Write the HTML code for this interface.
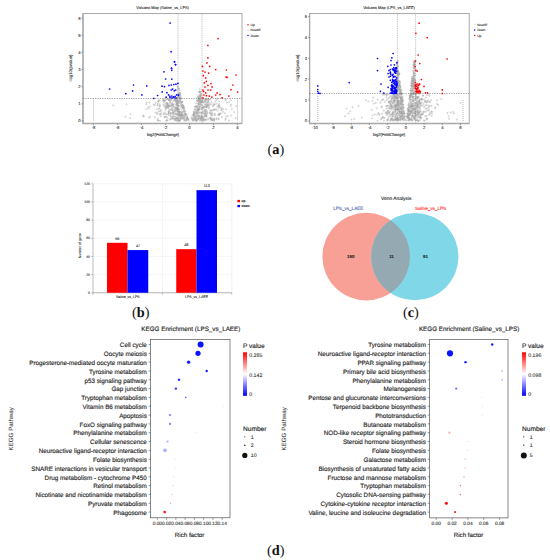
<!DOCTYPE html>
<html><head><meta charset="utf-8"><style>
html,body{margin:0;padding:0;background:#fff;}
svg{display:block;font-family:"Liberation Sans", sans-serif;text-rendering:geometricPrecision;}
</style></head><body>
<svg width="550" height="560" viewBox="0 0 550 560">
<rect width="550" height="560" fill="#fff"/>
<rect x="83" y="13.6" width="159" height="109.9" fill="none" stroke="#a0a0a0" stroke-width="0.9"/>
<polyline points="83,13.6 83,123.5 242,123.5" fill="none" stroke="#a8a8a8" stroke-width="1.3"/>
<line x1="81.5" y1="120.90" x2="83" y2="120.90" stroke="#555" stroke-width="0.5"/>
<text x="80.60" y="122.41" font-size="4.2" text-anchor="end" fill="#333" stroke="#333" stroke-width="0.100" >0</text>
<line x1="81.5" y1="103.75" x2="83" y2="103.75" stroke="#555" stroke-width="0.5"/>
<text x="80.60" y="105.26" font-size="4.2" text-anchor="end" fill="#333" stroke="#333" stroke-width="0.100" >1</text>
<line x1="81.5" y1="86.60" x2="83" y2="86.60" stroke="#555" stroke-width="0.5"/>
<text x="80.60" y="88.11" font-size="4.2" text-anchor="end" fill="#333" stroke="#333" stroke-width="0.100" >2</text>
<line x1="81.5" y1="69.45" x2="83" y2="69.45" stroke="#555" stroke-width="0.5"/>
<text x="80.60" y="70.96" font-size="4.2" text-anchor="end" fill="#333" stroke="#333" stroke-width="0.100" >3</text>
<line x1="81.5" y1="52.30" x2="83" y2="52.30" stroke="#555" stroke-width="0.5"/>
<text x="80.60" y="53.81" font-size="4.2" text-anchor="end" fill="#333" stroke="#333" stroke-width="0.100" >4</text>
<line x1="81.5" y1="35.15" x2="83" y2="35.15" stroke="#555" stroke-width="0.5"/>
<text x="80.60" y="36.66" font-size="4.2" text-anchor="end" fill="#333" stroke="#333" stroke-width="0.100" >5</text>
<line x1="81.5" y1="18.00" x2="83" y2="18.00" stroke="#555" stroke-width="0.5"/>
<text x="80.60" y="19.51" font-size="4.2" text-anchor="end" fill="#333" stroke="#333" stroke-width="0.100" >6</text>
<line x1="93.50" y1="123.5" x2="93.50" y2="125.0" stroke="#555" stroke-width="0.5"/>
<text x="93.50" y="128.61" font-size="4.2" text-anchor="middle" fill="#333" stroke="#333" stroke-width="0.100" >-8</text>
<line x1="117.50" y1="123.5" x2="117.50" y2="125.0" stroke="#555" stroke-width="0.5"/>
<text x="117.50" y="128.61" font-size="4.2" text-anchor="middle" fill="#333" stroke="#333" stroke-width="0.100" >-6</text>
<line x1="141.50" y1="123.5" x2="141.50" y2="125.0" stroke="#555" stroke-width="0.5"/>
<text x="141.50" y="128.61" font-size="4.2" text-anchor="middle" fill="#333" stroke="#333" stroke-width="0.100" >-4</text>
<line x1="165.50" y1="123.5" x2="165.50" y2="125.0" stroke="#555" stroke-width="0.5"/>
<text x="165.50" y="128.61" font-size="4.2" text-anchor="middle" fill="#333" stroke="#333" stroke-width="0.100" >-2</text>
<line x1="189.50" y1="123.5" x2="189.50" y2="125.0" stroke="#555" stroke-width="0.5"/>
<text x="189.50" y="128.61" font-size="4.2" text-anchor="middle" fill="#333" stroke="#333" stroke-width="0.100" >0</text>
<line x1="213.50" y1="123.5" x2="213.50" y2="125.0" stroke="#555" stroke-width="0.5"/>
<text x="213.50" y="128.61" font-size="4.2" text-anchor="middle" fill="#333" stroke="#333" stroke-width="0.100" >2</text>
<line x1="237.50" y1="123.5" x2="237.50" y2="125.0" stroke="#555" stroke-width="0.5"/>
<text x="237.50" y="128.61" font-size="4.2" text-anchor="middle" fill="#333" stroke="#333" stroke-width="0.100" >4</text>
<circle cx="207.7" cy="102.2" r="0.6" fill="none" stroke="#a4a4a4" stroke-width="0.42"/>
<circle cx="210.9" cy="119.8" r="0.6" fill="none" stroke="#a4a4a4" stroke-width="0.42"/>
<circle cx="207.5" cy="104.1" r="0.6" fill="none" stroke="#a4a4a4" stroke-width="0.42"/>
<circle cx="225.1" cy="119.9" r="0.6" fill="none" stroke="#a4a4a4" stroke-width="0.42"/>
<circle cx="164.7" cy="112.5" r="0.6" fill="none" stroke="#a4a4a4" stroke-width="0.42"/>
<circle cx="181.6" cy="113.9" r="0.6" fill="none" stroke="#a4a4a4" stroke-width="0.42"/>
<circle cx="175.2" cy="119.6" r="0.6" fill="none" stroke="#a4a4a4" stroke-width="0.42"/>
<circle cx="163.7" cy="100.2" r="0.6" fill="none" stroke="#a4a4a4" stroke-width="0.42"/>
<circle cx="200.1" cy="106.8" r="0.6" fill="none" stroke="#a4a4a4" stroke-width="0.42"/>
<circle cx="186.2" cy="114.5" r="0.6" fill="none" stroke="#a4a4a4" stroke-width="0.42"/>
<circle cx="184.3" cy="110.7" r="0.6" fill="none" stroke="#a4a4a4" stroke-width="0.42"/>
<circle cx="176.9" cy="104.8" r="0.6" fill="none" stroke="#a4a4a4" stroke-width="0.42"/>
<circle cx="172.6" cy="107.8" r="0.6" fill="none" stroke="#a4a4a4" stroke-width="0.42"/>
<circle cx="179.3" cy="97.8" r="0.6" fill="none" stroke="#a4a4a4" stroke-width="0.42"/>
<circle cx="169.2" cy="112.2" r="0.6" fill="none" stroke="#a4a4a4" stroke-width="0.42"/>
<circle cx="196.3" cy="120.3" r="0.6" fill="none" stroke="#a4a4a4" stroke-width="0.42"/>
<circle cx="201.2" cy="108.8" r="0.6" fill="none" stroke="#a4a4a4" stroke-width="0.42"/>
<circle cx="171.2" cy="106.3" r="0.6" fill="none" stroke="#a4a4a4" stroke-width="0.42"/>
<circle cx="164.5" cy="116.8" r="0.6" fill="none" stroke="#a4a4a4" stroke-width="0.42"/>
<circle cx="214.4" cy="120.2" r="0.6" fill="none" stroke="#a4a4a4" stroke-width="0.42"/>
<circle cx="197.0" cy="112.6" r="0.6" fill="none" stroke="#a4a4a4" stroke-width="0.42"/>
<circle cx="205.2" cy="111.4" r="0.6" fill="none" stroke="#a4a4a4" stroke-width="0.42"/>
<circle cx="175.6" cy="107.8" r="0.6" fill="none" stroke="#a4a4a4" stroke-width="0.42"/>
<circle cx="166.1" cy="117.0" r="0.6" fill="none" stroke="#a4a4a4" stroke-width="0.42"/>
<circle cx="224.9" cy="113.3" r="0.6" fill="none" stroke="#a4a4a4" stroke-width="0.42"/>
<circle cx="210.1" cy="112.9" r="0.6" fill="none" stroke="#a4a4a4" stroke-width="0.42"/>
<circle cx="210.0" cy="99.4" r="0.6" fill="none" stroke="#a4a4a4" stroke-width="0.42"/>
<circle cx="223.0" cy="111.9" r="0.6" fill="none" stroke="#a4a4a4" stroke-width="0.42"/>
<circle cx="198.2" cy="111.1" r="0.6" fill="none" stroke="#a4a4a4" stroke-width="0.42"/>
<circle cx="179.7" cy="111.6" r="0.6" fill="none" stroke="#a4a4a4" stroke-width="0.42"/>
<circle cx="180.1" cy="98.4" r="0.6" fill="none" stroke="#a4a4a4" stroke-width="0.42"/>
<circle cx="181.0" cy="118.1" r="0.6" fill="none" stroke="#a4a4a4" stroke-width="0.42"/>
<circle cx="195.6" cy="118.5" r="0.6" fill="none" stroke="#a4a4a4" stroke-width="0.42"/>
<circle cx="168.6" cy="108.1" r="0.6" fill="none" stroke="#a4a4a4" stroke-width="0.42"/>
<circle cx="188.7" cy="120.6" r="0.6" fill="none" stroke="#a4a4a4" stroke-width="0.42"/>
<circle cx="178.1" cy="96.4" r="0.6" fill="none" stroke="#a4a4a4" stroke-width="0.42"/>
<circle cx="203.7" cy="102.2" r="0.6" fill="none" stroke="#a4a4a4" stroke-width="0.42"/>
<circle cx="171.8" cy="105.3" r="0.6" fill="none" stroke="#a4a4a4" stroke-width="0.42"/>
<circle cx="192.9" cy="118.2" r="0.6" fill="none" stroke="#a4a4a4" stroke-width="0.42"/>
<circle cx="183.5" cy="111.4" r="0.6" fill="none" stroke="#a4a4a4" stroke-width="0.42"/>
<circle cx="201.9" cy="101.5" r="0.6" fill="none" stroke="#a4a4a4" stroke-width="0.42"/>
<circle cx="166.0" cy="108.6" r="0.6" fill="none" stroke="#a4a4a4" stroke-width="0.42"/>
<circle cx="187.2" cy="116.4" r="0.6" fill="none" stroke="#a4a4a4" stroke-width="0.42"/>
<circle cx="205.9" cy="113.7" r="0.6" fill="none" stroke="#a4a4a4" stroke-width="0.42"/>
<circle cx="168.1" cy="105.8" r="0.6" fill="none" stroke="#a4a4a4" stroke-width="0.42"/>
<circle cx="178.4" cy="120.8" r="0.6" fill="none" stroke="#a4a4a4" stroke-width="0.42"/>
<circle cx="172.6" cy="119.2" r="0.6" fill="none" stroke="#a4a4a4" stroke-width="0.42"/>
<circle cx="177.4" cy="101.6" r="0.6" fill="none" stroke="#a4a4a4" stroke-width="0.42"/>
<circle cx="203.3" cy="111.0" r="0.6" fill="none" stroke="#a4a4a4" stroke-width="0.42"/>
<circle cx="177.9" cy="115.7" r="0.6" fill="none" stroke="#a4a4a4" stroke-width="0.42"/>
<circle cx="202.0" cy="116.9" r="0.6" fill="none" stroke="#a4a4a4" stroke-width="0.42"/>
<circle cx="173.9" cy="114.5" r="0.6" fill="none" stroke="#a4a4a4" stroke-width="0.42"/>
<circle cx="195.3" cy="106.6" r="0.6" fill="none" stroke="#a4a4a4" stroke-width="0.42"/>
<circle cx="217.4" cy="110.6" r="0.6" fill="none" stroke="#a4a4a4" stroke-width="0.42"/>
<circle cx="182.1" cy="118.6" r="0.6" fill="none" stroke="#a4a4a4" stroke-width="0.42"/>
<circle cx="201.4" cy="93.7" r="0.6" fill="none" stroke="#a4a4a4" stroke-width="0.42"/>
<circle cx="167.4" cy="106.0" r="0.6" fill="none" stroke="#a4a4a4" stroke-width="0.42"/>
<circle cx="165.0" cy="99.9" r="0.6" fill="none" stroke="#a4a4a4" stroke-width="0.42"/>
<circle cx="177.2" cy="107.9" r="0.6" fill="none" stroke="#a4a4a4" stroke-width="0.42"/>
<circle cx="205.8" cy="101.0" r="0.6" fill="none" stroke="#a4a4a4" stroke-width="0.42"/>
<circle cx="203.2" cy="117.2" r="0.6" fill="none" stroke="#a4a4a4" stroke-width="0.42"/>
<circle cx="180.3" cy="116.9" r="0.6" fill="none" stroke="#a4a4a4" stroke-width="0.42"/>
<circle cx="177.8" cy="118.2" r="0.6" fill="none" stroke="#a4a4a4" stroke-width="0.42"/>
<circle cx="176.3" cy="105.7" r="0.6" fill="none" stroke="#a4a4a4" stroke-width="0.42"/>
<circle cx="169.3" cy="109.6" r="0.6" fill="none" stroke="#a4a4a4" stroke-width="0.42"/>
<circle cx="198.6" cy="116.4" r="0.6" fill="none" stroke="#a4a4a4" stroke-width="0.42"/>
<circle cx="179.9" cy="100.1" r="0.6" fill="none" stroke="#a4a4a4" stroke-width="0.42"/>
<circle cx="177.7" cy="90.0" r="0.6" fill="none" stroke="#a4a4a4" stroke-width="0.42"/>
<circle cx="175.3" cy="100.1" r="0.6" fill="none" stroke="#a4a4a4" stroke-width="0.42"/>
<circle cx="204.3" cy="107.0" r="0.6" fill="none" stroke="#a4a4a4" stroke-width="0.42"/>
<circle cx="172.2" cy="103.7" r="0.6" fill="none" stroke="#a4a4a4" stroke-width="0.42"/>
<circle cx="163.8" cy="114.4" r="0.6" fill="none" stroke="#a4a4a4" stroke-width="0.42"/>
<circle cx="201.7" cy="116.0" r="0.6" fill="none" stroke="#a4a4a4" stroke-width="0.42"/>
<circle cx="219.1" cy="106.3" r="0.6" fill="none" stroke="#a4a4a4" stroke-width="0.42"/>
<circle cx="163.4" cy="113.5" r="0.6" fill="none" stroke="#a4a4a4" stroke-width="0.42"/>
<circle cx="178.6" cy="115.3" r="0.6" fill="none" stroke="#a4a4a4" stroke-width="0.42"/>
<circle cx="199.1" cy="112.8" r="0.6" fill="none" stroke="#a4a4a4" stroke-width="0.42"/>
<circle cx="199.0" cy="118.7" r="0.6" fill="none" stroke="#a4a4a4" stroke-width="0.42"/>
<circle cx="200.1" cy="95.1" r="0.6" fill="none" stroke="#a4a4a4" stroke-width="0.42"/>
<circle cx="183.0" cy="105.0" r="0.6" fill="none" stroke="#a4a4a4" stroke-width="0.42"/>
<circle cx="176.8" cy="108.5" r="0.6" fill="none" stroke="#a4a4a4" stroke-width="0.42"/>
<circle cx="202.8" cy="108.9" r="0.6" fill="none" stroke="#a4a4a4" stroke-width="0.42"/>
<circle cx="197.1" cy="101.0" r="0.6" fill="none" stroke="#a4a4a4" stroke-width="0.42"/>
<circle cx="182.6" cy="106.0" r="0.6" fill="none" stroke="#a4a4a4" stroke-width="0.42"/>
<circle cx="180.7" cy="101.7" r="0.6" fill="none" stroke="#a4a4a4" stroke-width="0.42"/>
<circle cx="178.3" cy="105.7" r="0.6" fill="none" stroke="#a4a4a4" stroke-width="0.42"/>
<circle cx="197.8" cy="109.3" r="0.6" fill="none" stroke="#a4a4a4" stroke-width="0.42"/>
<circle cx="175.5" cy="110.7" r="0.6" fill="none" stroke="#a4a4a4" stroke-width="0.42"/>
<circle cx="199.6" cy="101.3" r="0.6" fill="none" stroke="#a4a4a4" stroke-width="0.42"/>
<circle cx="217.3" cy="106.7" r="0.6" fill="none" stroke="#a4a4a4" stroke-width="0.42"/>
<circle cx="212.0" cy="115.0" r="0.6" fill="none" stroke="#a4a4a4" stroke-width="0.42"/>
<circle cx="230.8" cy="105.9" r="0.6" fill="none" stroke="#a4a4a4" stroke-width="0.42"/>
<circle cx="179.3" cy="120.7" r="0.6" fill="none" stroke="#a4a4a4" stroke-width="0.42"/>
<circle cx="198.5" cy="100.6" r="0.6" fill="none" stroke="#a4a4a4" stroke-width="0.42"/>
<circle cx="200.6" cy="100.7" r="0.6" fill="none" stroke="#a4a4a4" stroke-width="0.42"/>
<circle cx="164.1" cy="106.0" r="0.6" fill="none" stroke="#a4a4a4" stroke-width="0.42"/>
<circle cx="170.4" cy="116.0" r="0.6" fill="none" stroke="#a4a4a4" stroke-width="0.42"/>
<circle cx="181.3" cy="113.5" r="0.6" fill="none" stroke="#a4a4a4" stroke-width="0.42"/>
<circle cx="143.6" cy="116.3" r="0.6" fill="none" stroke="#a4a4a4" stroke-width="0.42"/>
<circle cx="164.6" cy="117.2" r="0.6" fill="none" stroke="#a4a4a4" stroke-width="0.42"/>
<circle cx="216.2" cy="99.8" r="0.6" fill="none" stroke="#a4a4a4" stroke-width="0.42"/>
<circle cx="168.7" cy="112.8" r="0.6" fill="none" stroke="#a4a4a4" stroke-width="0.42"/>
<circle cx="177.3" cy="107.3" r="0.6" fill="none" stroke="#a4a4a4" stroke-width="0.42"/>
<circle cx="171.6" cy="98.7" r="0.6" fill="none" stroke="#a4a4a4" stroke-width="0.42"/>
<circle cx="180.9" cy="98.9" r="0.6" fill="none" stroke="#a4a4a4" stroke-width="0.42"/>
<circle cx="183.8" cy="118.1" r="0.6" fill="none" stroke="#a4a4a4" stroke-width="0.42"/>
<circle cx="173.3" cy="106.1" r="0.6" fill="none" stroke="#a4a4a4" stroke-width="0.42"/>
<circle cx="193.8" cy="114.1" r="0.6" fill="none" stroke="#a4a4a4" stroke-width="0.42"/>
<circle cx="154.8" cy="105.0" r="0.6" fill="none" stroke="#a4a4a4" stroke-width="0.42"/>
<circle cx="182.5" cy="102.0" r="0.6" fill="none" stroke="#a4a4a4" stroke-width="0.42"/>
<circle cx="205.0" cy="120.3" r="0.6" fill="none" stroke="#a4a4a4" stroke-width="0.42"/>
<circle cx="199.8" cy="92.0" r="0.6" fill="none" stroke="#a4a4a4" stroke-width="0.42"/>
<circle cx="175.0" cy="107.1" r="0.6" fill="none" stroke="#a4a4a4" stroke-width="0.42"/>
<circle cx="177.8" cy="88.2" r="0.6" fill="none" stroke="#a4a4a4" stroke-width="0.42"/>
<circle cx="196.6" cy="106.9" r="0.6" fill="none" stroke="#a4a4a4" stroke-width="0.42"/>
<circle cx="146.3" cy="109.2" r="0.6" fill="none" stroke="#a4a4a4" stroke-width="0.42"/>
<circle cx="179.3" cy="120.2" r="0.6" fill="none" stroke="#a4a4a4" stroke-width="0.42"/>
<circle cx="180.9" cy="112.1" r="0.6" fill="none" stroke="#a4a4a4" stroke-width="0.42"/>
<circle cx="168.5" cy="105.6" r="0.6" fill="none" stroke="#a4a4a4" stroke-width="0.42"/>
<circle cx="216.5" cy="119.3" r="0.6" fill="none" stroke="#a4a4a4" stroke-width="0.42"/>
<circle cx="195.3" cy="113.3" r="0.6" fill="none" stroke="#a4a4a4" stroke-width="0.42"/>
<circle cx="213.8" cy="110.1" r="0.6" fill="none" stroke="#a4a4a4" stroke-width="0.42"/>
<circle cx="187.7" cy="118.2" r="0.6" fill="none" stroke="#a4a4a4" stroke-width="0.42"/>
<circle cx="170.9" cy="116.1" r="0.6" fill="none" stroke="#a4a4a4" stroke-width="0.42"/>
<circle cx="197.7" cy="113.9" r="0.6" fill="none" stroke="#a4a4a4" stroke-width="0.42"/>
<circle cx="203.0" cy="107.5" r="0.6" fill="none" stroke="#a4a4a4" stroke-width="0.42"/>
<circle cx="195.4" cy="116.4" r="0.6" fill="none" stroke="#a4a4a4" stroke-width="0.42"/>
<circle cx="199.4" cy="117.2" r="0.6" fill="none" stroke="#a4a4a4" stroke-width="0.42"/>
<circle cx="207.6" cy="113.0" r="0.6" fill="none" stroke="#a4a4a4" stroke-width="0.42"/>
<circle cx="172.1" cy="118.2" r="0.6" fill="none" stroke="#a4a4a4" stroke-width="0.42"/>
<circle cx="219.8" cy="114.1" r="0.6" fill="none" stroke="#a4a4a4" stroke-width="0.42"/>
<circle cx="196.6" cy="107.6" r="0.6" fill="none" stroke="#a4a4a4" stroke-width="0.42"/>
<circle cx="182.9" cy="106.0" r="0.6" fill="none" stroke="#a4a4a4" stroke-width="0.42"/>
<circle cx="174.1" cy="100.0" r="0.6" fill="none" stroke="#a4a4a4" stroke-width="0.42"/>
<circle cx="182.3" cy="114.7" r="0.6" fill="none" stroke="#a4a4a4" stroke-width="0.42"/>
<circle cx="198.1" cy="109.4" r="0.6" fill="none" stroke="#a4a4a4" stroke-width="0.42"/>
<circle cx="173.3" cy="112.1" r="0.6" fill="none" stroke="#a4a4a4" stroke-width="0.42"/>
<circle cx="181.1" cy="97.7" r="0.6" fill="none" stroke="#a4a4a4" stroke-width="0.42"/>
<circle cx="210.7" cy="115.1" r="0.6" fill="none" stroke="#a4a4a4" stroke-width="0.42"/>
<circle cx="167.4" cy="104.0" r="0.6" fill="none" stroke="#a4a4a4" stroke-width="0.42"/>
<circle cx="219.0" cy="113.6" r="0.6" fill="none" stroke="#a4a4a4" stroke-width="0.42"/>
<circle cx="181.6" cy="118.5" r="0.6" fill="none" stroke="#a4a4a4" stroke-width="0.42"/>
<circle cx="175.4" cy="100.5" r="0.6" fill="none" stroke="#a4a4a4" stroke-width="0.42"/>
<circle cx="204.9" cy="115.3" r="0.6" fill="none" stroke="#a4a4a4" stroke-width="0.42"/>
<circle cx="222.0" cy="117.0" r="0.6" fill="none" stroke="#a4a4a4" stroke-width="0.42"/>
<circle cx="146.8" cy="102.5" r="0.6" fill="none" stroke="#a4a4a4" stroke-width="0.42"/>
<circle cx="179.3" cy="109.0" r="0.6" fill="none" stroke="#a4a4a4" stroke-width="0.42"/>
<circle cx="195.9" cy="106.2" r="0.6" fill="none" stroke="#a4a4a4" stroke-width="0.42"/>
<circle cx="213.3" cy="105.5" r="0.6" fill="none" stroke="#a4a4a4" stroke-width="0.42"/>
<circle cx="206.4" cy="104.4" r="0.6" fill="none" stroke="#a4a4a4" stroke-width="0.42"/>
<circle cx="179.8" cy="94.5" r="0.6" fill="none" stroke="#a4a4a4" stroke-width="0.42"/>
<circle cx="185.2" cy="115.9" r="0.6" fill="none" stroke="#a4a4a4" stroke-width="0.42"/>
<circle cx="200.0" cy="115.7" r="0.6" fill="none" stroke="#a4a4a4" stroke-width="0.42"/>
<circle cx="182.7" cy="107.3" r="0.6" fill="none" stroke="#a4a4a4" stroke-width="0.42"/>
<circle cx="155.4" cy="103.0" r="0.6" fill="none" stroke="#a4a4a4" stroke-width="0.42"/>
<circle cx="193.6" cy="115.5" r="0.6" fill="none" stroke="#a4a4a4" stroke-width="0.42"/>
<circle cx="206.1" cy="107.0" r="0.6" fill="none" stroke="#a4a4a4" stroke-width="0.42"/>
<circle cx="180.7" cy="118.4" r="0.6" fill="none" stroke="#a4a4a4" stroke-width="0.42"/>
<circle cx="214.7" cy="104.7" r="0.6" fill="none" stroke="#a4a4a4" stroke-width="0.42"/>
<circle cx="198.3" cy="98.8" r="0.6" fill="none" stroke="#a4a4a4" stroke-width="0.42"/>
<circle cx="166.5" cy="120.2" r="0.6" fill="none" stroke="#a4a4a4" stroke-width="0.42"/>
<circle cx="171.0" cy="118.4" r="0.6" fill="none" stroke="#a4a4a4" stroke-width="0.42"/>
<circle cx="183.8" cy="106.1" r="0.6" fill="none" stroke="#a4a4a4" stroke-width="0.42"/>
<circle cx="200.5" cy="98.8" r="0.6" fill="none" stroke="#a4a4a4" stroke-width="0.42"/>
<circle cx="179.3" cy="97.4" r="0.6" fill="none" stroke="#a4a4a4" stroke-width="0.42"/>
<circle cx="197.1" cy="118.8" r="0.6" fill="none" stroke="#a4a4a4" stroke-width="0.42"/>
<circle cx="220.6" cy="107.6" r="0.6" fill="none" stroke="#a4a4a4" stroke-width="0.42"/>
<circle cx="198.4" cy="110.8" r="0.6" fill="none" stroke="#a4a4a4" stroke-width="0.42"/>
<circle cx="183.9" cy="107.4" r="0.6" fill="none" stroke="#a4a4a4" stroke-width="0.42"/>
<circle cx="188.5" cy="119.3" r="0.6" fill="none" stroke="#a4a4a4" stroke-width="0.42"/>
<circle cx="179.2" cy="88.8" r="0.6" fill="none" stroke="#a4a4a4" stroke-width="0.42"/>
<circle cx="149.5" cy="102.7" r="0.6" fill="none" stroke="#a4a4a4" stroke-width="0.42"/>
<circle cx="199.8" cy="112.6" r="0.6" fill="none" stroke="#a4a4a4" stroke-width="0.42"/>
<circle cx="167.7" cy="118.2" r="0.6" fill="none" stroke="#a4a4a4" stroke-width="0.42"/>
<circle cx="201.6" cy="120.5" r="0.6" fill="none" stroke="#a4a4a4" stroke-width="0.42"/>
<circle cx="179.6" cy="111.7" r="0.6" fill="none" stroke="#a4a4a4" stroke-width="0.42"/>
<circle cx="168.5" cy="111.6" r="0.6" fill="none" stroke="#a4a4a4" stroke-width="0.42"/>
<circle cx="231.1" cy="115.7" r="0.6" fill="none" stroke="#a4a4a4" stroke-width="0.42"/>
<circle cx="179.4" cy="120.6" r="0.6" fill="none" stroke="#a4a4a4" stroke-width="0.42"/>
<circle cx="178.3" cy="110.4" r="0.6" fill="none" stroke="#a4a4a4" stroke-width="0.42"/>
<circle cx="226.1" cy="99.4" r="0.6" fill="none" stroke="#a4a4a4" stroke-width="0.42"/>
<circle cx="178.7" cy="117.6" r="0.6" fill="none" stroke="#a4a4a4" stroke-width="0.42"/>
<circle cx="217.2" cy="98.7" r="0.6" fill="none" stroke="#a4a4a4" stroke-width="0.42"/>
<circle cx="221.5" cy="108.2" r="0.6" fill="none" stroke="#a4a4a4" stroke-width="0.42"/>
<circle cx="187.1" cy="118.0" r="0.6" fill="none" stroke="#a4a4a4" stroke-width="0.42"/>
<circle cx="204.8" cy="106.9" r="0.6" fill="none" stroke="#a4a4a4" stroke-width="0.42"/>
<circle cx="179.2" cy="95.2" r="0.6" fill="none" stroke="#a4a4a4" stroke-width="0.42"/>
<circle cx="201.3" cy="101.6" r="0.6" fill="none" stroke="#a4a4a4" stroke-width="0.42"/>
<circle cx="179.3" cy="114.8" r="0.6" fill="none" stroke="#a4a4a4" stroke-width="0.42"/>
<circle cx="201.6" cy="101.6" r="0.6" fill="none" stroke="#a4a4a4" stroke-width="0.42"/>
<circle cx="175.5" cy="114.4" r="0.6" fill="none" stroke="#a4a4a4" stroke-width="0.42"/>
<circle cx="181.0" cy="107.4" r="0.6" fill="none" stroke="#a4a4a4" stroke-width="0.42"/>
<circle cx="200.2" cy="120.1" r="0.6" fill="none" stroke="#a4a4a4" stroke-width="0.42"/>
<circle cx="212.4" cy="120.3" r="0.6" fill="none" stroke="#a4a4a4" stroke-width="0.42"/>
<circle cx="214.9" cy="115.2" r="0.6" fill="none" stroke="#a4a4a4" stroke-width="0.42"/>
<circle cx="194.0" cy="118.7" r="0.6" fill="none" stroke="#a4a4a4" stroke-width="0.42"/>
<circle cx="167.1" cy="104.8" r="0.6" fill="none" stroke="#a4a4a4" stroke-width="0.42"/>
<circle cx="200.9" cy="104.5" r="0.6" fill="none" stroke="#a4a4a4" stroke-width="0.42"/>
<circle cx="181.6" cy="114.3" r="0.6" fill="none" stroke="#a4a4a4" stroke-width="0.42"/>
<circle cx="159.9" cy="106.0" r="0.6" fill="none" stroke="#a4a4a4" stroke-width="0.42"/>
<circle cx="199.0" cy="98.8" r="0.6" fill="none" stroke="#a4a4a4" stroke-width="0.42"/>
<circle cx="207.5" cy="105.6" r="0.6" fill="none" stroke="#a4a4a4" stroke-width="0.42"/>
<circle cx="197.1" cy="106.2" r="0.6" fill="none" stroke="#a4a4a4" stroke-width="0.42"/>
<circle cx="143.7" cy="116.4" r="0.6" fill="none" stroke="#a4a4a4" stroke-width="0.42"/>
<circle cx="196.1" cy="116.9" r="0.6" fill="none" stroke="#a4a4a4" stroke-width="0.42"/>
<circle cx="210.1" cy="117.9" r="0.6" fill="none" stroke="#a4a4a4" stroke-width="0.42"/>
<circle cx="214.1" cy="119.5" r="0.6" fill="none" stroke="#a4a4a4" stroke-width="0.42"/>
<circle cx="184.0" cy="117.6" r="0.6" fill="none" stroke="#a4a4a4" stroke-width="0.42"/>
<circle cx="221.3" cy="110.3" r="0.6" fill="none" stroke="#a4a4a4" stroke-width="0.42"/>
<circle cx="196.2" cy="106.8" r="0.6" fill="none" stroke="#a4a4a4" stroke-width="0.42"/>
<circle cx="212.0" cy="110.6" r="0.6" fill="none" stroke="#a4a4a4" stroke-width="0.42"/>
<circle cx="205.6" cy="115.3" r="0.6" fill="none" stroke="#a4a4a4" stroke-width="0.42"/>
<circle cx="206.5" cy="107.6" r="0.6" fill="none" stroke="#a4a4a4" stroke-width="0.42"/>
<circle cx="171.0" cy="110.2" r="0.6" fill="none" stroke="#a4a4a4" stroke-width="0.42"/>
<circle cx="194.6" cy="109.2" r="0.6" fill="none" stroke="#a4a4a4" stroke-width="0.42"/>
<circle cx="181.7" cy="109.6" r="0.6" fill="none" stroke="#a4a4a4" stroke-width="0.42"/>
<circle cx="174.1" cy="110.0" r="0.6" fill="none" stroke="#a4a4a4" stroke-width="0.42"/>
<circle cx="212.2" cy="115.3" r="0.6" fill="none" stroke="#a4a4a4" stroke-width="0.42"/>
<circle cx="177.4" cy="105.2" r="0.6" fill="none" stroke="#a4a4a4" stroke-width="0.42"/>
<circle cx="199.9" cy="120.5" r="0.6" fill="none" stroke="#a4a4a4" stroke-width="0.42"/>
<circle cx="177.1" cy="120.2" r="0.6" fill="none" stroke="#a4a4a4" stroke-width="0.42"/>
<circle cx="172.9" cy="101.6" r="0.6" fill="none" stroke="#a4a4a4" stroke-width="0.42"/>
<circle cx="199.3" cy="91.5" r="0.6" fill="none" stroke="#a4a4a4" stroke-width="0.42"/>
<circle cx="197.2" cy="100.9" r="0.6" fill="none" stroke="#a4a4a4" stroke-width="0.42"/>
<circle cx="202.5" cy="105.6" r="0.6" fill="none" stroke="#a4a4a4" stroke-width="0.42"/>
<circle cx="214.9" cy="109.9" r="0.6" fill="none" stroke="#a4a4a4" stroke-width="0.42"/>
<circle cx="179.2" cy="112.7" r="0.6" fill="none" stroke="#a4a4a4" stroke-width="0.42"/>
<circle cx="172.7" cy="104.6" r="0.6" fill="none" stroke="#a4a4a4" stroke-width="0.42"/>
<circle cx="183.1" cy="116.3" r="0.6" fill="none" stroke="#a4a4a4" stroke-width="0.42"/>
<circle cx="182.5" cy="101.9" r="0.6" fill="none" stroke="#a4a4a4" stroke-width="0.42"/>
<circle cx="197.2" cy="116.4" r="0.6" fill="none" stroke="#a4a4a4" stroke-width="0.42"/>
<circle cx="216.4" cy="109.1" r="0.6" fill="none" stroke="#a4a4a4" stroke-width="0.42"/>
<circle cx="218.4" cy="118.5" r="0.6" fill="none" stroke="#a4a4a4" stroke-width="0.42"/>
<circle cx="158.4" cy="101.0" r="0.6" fill="none" stroke="#a4a4a4" stroke-width="0.42"/>
<circle cx="204.9" cy="104.2" r="0.6" fill="none" stroke="#a4a4a4" stroke-width="0.42"/>
<circle cx="195.1" cy="106.8" r="0.6" fill="none" stroke="#a4a4a4" stroke-width="0.42"/>
<circle cx="171.6" cy="113.1" r="0.6" fill="none" stroke="#a4a4a4" stroke-width="0.42"/>
<circle cx="173.5" cy="113.2" r="0.6" fill="none" stroke="#a4a4a4" stroke-width="0.42"/>
<circle cx="199.5" cy="109.6" r="0.6" fill="none" stroke="#a4a4a4" stroke-width="0.42"/>
<circle cx="207.0" cy="111.7" r="0.6" fill="none" stroke="#a4a4a4" stroke-width="0.42"/>
<circle cx="229.0" cy="102.2" r="0.6" fill="none" stroke="#a4a4a4" stroke-width="0.42"/>
<circle cx="172.6" cy="104.8" r="0.6" fill="none" stroke="#a4a4a4" stroke-width="0.42"/>
<circle cx="198.7" cy="118.2" r="0.6" fill="none" stroke="#a4a4a4" stroke-width="0.42"/>
<circle cx="157.7" cy="105.5" r="0.6" fill="none" stroke="#a4a4a4" stroke-width="0.42"/>
<circle cx="163.1" cy="100.4" r="0.6" fill="none" stroke="#a4a4a4" stroke-width="0.42"/>
<circle cx="207.1" cy="114.4" r="0.6" fill="none" stroke="#a4a4a4" stroke-width="0.42"/>
<circle cx="164.3" cy="101.4" r="0.6" fill="none" stroke="#a4a4a4" stroke-width="0.42"/>
<circle cx="166.4" cy="120.7" r="0.6" fill="none" stroke="#a4a4a4" stroke-width="0.42"/>
<circle cx="216.7" cy="103.7" r="0.6" fill="none" stroke="#a4a4a4" stroke-width="0.42"/>
<circle cx="201.8" cy="109.2" r="0.6" fill="none" stroke="#a4a4a4" stroke-width="0.42"/>
<circle cx="234.3" cy="112.2" r="0.6" fill="none" stroke="#a4a4a4" stroke-width="0.42"/>
<circle cx="179.1" cy="94.3" r="0.6" fill="none" stroke="#a4a4a4" stroke-width="0.42"/>
<circle cx="176.6" cy="118.2" r="0.6" fill="none" stroke="#a4a4a4" stroke-width="0.42"/>
<circle cx="204.4" cy="116.4" r="0.6" fill="none" stroke="#a4a4a4" stroke-width="0.42"/>
<circle cx="181.8" cy="111.6" r="0.6" fill="none" stroke="#a4a4a4" stroke-width="0.42"/>
<circle cx="170.5" cy="102.3" r="0.6" fill="none" stroke="#a4a4a4" stroke-width="0.42"/>
<circle cx="175.6" cy="118.5" r="0.6" fill="none" stroke="#a4a4a4" stroke-width="0.42"/>
<circle cx="178.5" cy="94.3" r="0.6" fill="none" stroke="#a4a4a4" stroke-width="0.42"/>
<circle cx="193.4" cy="114.7" r="0.6" fill="none" stroke="#a4a4a4" stroke-width="0.42"/>
<circle cx="194.1" cy="117.5" r="0.6" fill="none" stroke="#a4a4a4" stroke-width="0.42"/>
<circle cx="201.5" cy="113.0" r="0.6" fill="none" stroke="#a4a4a4" stroke-width="0.42"/>
<circle cx="181.8" cy="113.0" r="0.6" fill="none" stroke="#a4a4a4" stroke-width="0.42"/>
<circle cx="169.8" cy="119.7" r="0.6" fill="none" stroke="#a4a4a4" stroke-width="0.42"/>
<circle cx="202.5" cy="116.4" r="0.6" fill="none" stroke="#a4a4a4" stroke-width="0.42"/>
<circle cx="198.3" cy="105.0" r="0.6" fill="none" stroke="#a4a4a4" stroke-width="0.42"/>
<circle cx="176.0" cy="98.9" r="0.6" fill="none" stroke="#a4a4a4" stroke-width="0.42"/>
<circle cx="163.4" cy="104.7" r="0.6" fill="none" stroke="#a4a4a4" stroke-width="0.42"/>
<circle cx="198.3" cy="95.9" r="0.6" fill="none" stroke="#a4a4a4" stroke-width="0.42"/>
<circle cx="212.7" cy="119.9" r="0.6" fill="none" stroke="#a4a4a4" stroke-width="0.42"/>
<circle cx="174.4" cy="98.8" r="0.6" fill="none" stroke="#a4a4a4" stroke-width="0.42"/>
<circle cx="179.8" cy="120.6" r="0.6" fill="none" stroke="#a4a4a4" stroke-width="0.42"/>
<circle cx="205.6" cy="98.9" r="0.6" fill="none" stroke="#a4a4a4" stroke-width="0.42"/>
<circle cx="177.7" cy="114.3" r="0.6" fill="none" stroke="#a4a4a4" stroke-width="0.42"/>
<circle cx="197.0" cy="120.9" r="0.6" fill="none" stroke="#a4a4a4" stroke-width="0.42"/>
<circle cx="197.4" cy="110.3" r="0.6" fill="none" stroke="#a4a4a4" stroke-width="0.42"/>
<circle cx="167.0" cy="106.2" r="0.6" fill="none" stroke="#a4a4a4" stroke-width="0.42"/>
<circle cx="191.5" cy="118.5" r="0.6" fill="none" stroke="#a4a4a4" stroke-width="0.42"/>
<circle cx="196.0" cy="120.9" r="0.6" fill="none" stroke="#a4a4a4" stroke-width="0.42"/>
<circle cx="187.1" cy="118.3" r="0.6" fill="none" stroke="#a4a4a4" stroke-width="0.42"/>
<circle cx="168.5" cy="114.9" r="0.6" fill="none" stroke="#a4a4a4" stroke-width="0.42"/>
<circle cx="191.7" cy="117.3" r="0.6" fill="none" stroke="#a4a4a4" stroke-width="0.42"/>
<circle cx="170.6" cy="113.0" r="0.6" fill="none" stroke="#a4a4a4" stroke-width="0.42"/>
<circle cx="176.0" cy="102.3" r="0.6" fill="none" stroke="#a4a4a4" stroke-width="0.42"/>
<circle cx="175.9" cy="113.7" r="0.6" fill="none" stroke="#a4a4a4" stroke-width="0.42"/>
<circle cx="180.0" cy="92.9" r="0.6" fill="none" stroke="#a4a4a4" stroke-width="0.42"/>
<circle cx="165.0" cy="107.5" r="0.6" fill="none" stroke="#a4a4a4" stroke-width="0.42"/>
<circle cx="197.8" cy="106.9" r="0.6" fill="none" stroke="#a4a4a4" stroke-width="0.42"/>
<circle cx="199.8" cy="115.9" r="0.6" fill="none" stroke="#a4a4a4" stroke-width="0.42"/>
<circle cx="198.9" cy="99.1" r="0.6" fill="none" stroke="#a4a4a4" stroke-width="0.42"/>
<circle cx="202.2" cy="119.2" r="0.6" fill="none" stroke="#a4a4a4" stroke-width="0.42"/>
<circle cx="200.3" cy="93.0" r="0.6" fill="none" stroke="#a4a4a4" stroke-width="0.42"/>
<circle cx="173.0" cy="117.9" r="0.6" fill="none" stroke="#a4a4a4" stroke-width="0.42"/>
<circle cx="167.5" cy="120.6" r="0.6" fill="none" stroke="#a4a4a4" stroke-width="0.42"/>
<circle cx="172.6" cy="110.3" r="0.6" fill="none" stroke="#a4a4a4" stroke-width="0.42"/>
<circle cx="154.9" cy="117.0" r="0.6" fill="none" stroke="#a4a4a4" stroke-width="0.42"/>
<circle cx="205.3" cy="104.3" r="0.6" fill="none" stroke="#a4a4a4" stroke-width="0.42"/>
<circle cx="161.3" cy="111.8" r="0.6" fill="none" stroke="#a4a4a4" stroke-width="0.42"/>
<circle cx="182.8" cy="115.6" r="0.6" fill="none" stroke="#a4a4a4" stroke-width="0.42"/>
<circle cx="165.4" cy="105.1" r="0.6" fill="none" stroke="#a4a4a4" stroke-width="0.42"/>
<circle cx="219.0" cy="101.5" r="0.6" fill="none" stroke="#a4a4a4" stroke-width="0.42"/>
<circle cx="183.0" cy="107.0" r="0.6" fill="none" stroke="#a4a4a4" stroke-width="0.42"/>
<circle cx="173.0" cy="112.2" r="0.6" fill="none" stroke="#a4a4a4" stroke-width="0.42"/>
<circle cx="186.5" cy="120.5" r="0.6" fill="none" stroke="#a4a4a4" stroke-width="0.42"/>
<circle cx="170.7" cy="114.1" r="0.6" fill="none" stroke="#a4a4a4" stroke-width="0.42"/>
<circle cx="143.1" cy="115.5" r="0.6" fill="none" stroke="#a4a4a4" stroke-width="0.42"/>
<circle cx="177.3" cy="103.8" r="0.6" fill="none" stroke="#a4a4a4" stroke-width="0.42"/>
<circle cx="170.0" cy="113.5" r="0.6" fill="none" stroke="#a4a4a4" stroke-width="0.42"/>
<circle cx="171.9" cy="116.8" r="0.6" fill="none" stroke="#a4a4a4" stroke-width="0.42"/>
<circle cx="170.8" cy="119.3" r="0.6" fill="none" stroke="#a4a4a4" stroke-width="0.42"/>
<circle cx="200.9" cy="102.1" r="0.6" fill="none" stroke="#a4a4a4" stroke-width="0.42"/>
<circle cx="208.7" cy="99.9" r="0.6" fill="none" stroke="#a4a4a4" stroke-width="0.42"/>
<circle cx="177.5" cy="86.1" r="0.6" fill="none" stroke="#a4a4a4" stroke-width="0.42"/>
<circle cx="204.8" cy="114.5" r="0.6" fill="none" stroke="#a4a4a4" stroke-width="0.42"/>
<circle cx="200.5" cy="118.9" r="0.6" fill="none" stroke="#a4a4a4" stroke-width="0.42"/>
<circle cx="178.0" cy="112.0" r="0.6" fill="none" stroke="#a4a4a4" stroke-width="0.42"/>
<circle cx="169.2" cy="99.9" r="0.6" fill="none" stroke="#a4a4a4" stroke-width="0.42"/>
<circle cx="211.7" cy="110.4" r="0.6" fill="none" stroke="#a4a4a4" stroke-width="0.42"/>
<circle cx="199.7" cy="101.5" r="0.6" fill="none" stroke="#a4a4a4" stroke-width="0.42"/>
<circle cx="206.0" cy="119.7" r="0.6" fill="none" stroke="#a4a4a4" stroke-width="0.42"/>
<circle cx="167.1" cy="103.1" r="0.6" fill="none" stroke="#a4a4a4" stroke-width="0.42"/>
<circle cx="211.5" cy="102.3" r="0.6" fill="none" stroke="#a4a4a4" stroke-width="0.42"/>
<circle cx="198.4" cy="109.8" r="0.6" fill="none" stroke="#a4a4a4" stroke-width="0.42"/>
<circle cx="195.5" cy="120.1" r="0.6" fill="none" stroke="#a4a4a4" stroke-width="0.42"/>
<circle cx="206.2" cy="115.9" r="0.6" fill="none" stroke="#a4a4a4" stroke-width="0.42"/>
<circle cx="177.9" cy="109.2" r="0.6" fill="none" stroke="#a4a4a4" stroke-width="0.42"/>
<circle cx="208.2" cy="102.6" r="0.6" fill="none" stroke="#a4a4a4" stroke-width="0.42"/>
<circle cx="207.9" cy="119.8" r="0.6" fill="none" stroke="#a4a4a4" stroke-width="0.42"/>
<circle cx="178.2" cy="101.7" r="0.6" fill="none" stroke="#a4a4a4" stroke-width="0.42"/>
<circle cx="208.4" cy="99.0" r="0.6" fill="none" stroke="#a4a4a4" stroke-width="0.42"/>
<circle cx="214.5" cy="118.7" r="0.6" fill="none" stroke="#a4a4a4" stroke-width="0.42"/>
<circle cx="200.3" cy="112.3" r="0.6" fill="none" stroke="#a4a4a4" stroke-width="0.42"/>
<circle cx="173.3" cy="113.3" r="0.6" fill="none" stroke="#a4a4a4" stroke-width="0.42"/>
<circle cx="176.2" cy="109.0" r="0.6" fill="none" stroke="#a4a4a4" stroke-width="0.42"/>
<circle cx="176.1" cy="117.3" r="0.6" fill="none" stroke="#a4a4a4" stroke-width="0.42"/>
<circle cx="180.2" cy="101.1" r="0.6" fill="none" stroke="#a4a4a4" stroke-width="0.42"/>
<circle cx="211.7" cy="113.7" r="0.6" fill="none" stroke="#a4a4a4" stroke-width="0.42"/>
<circle cx="204.8" cy="111.2" r="0.6" fill="none" stroke="#a4a4a4" stroke-width="0.42"/>
<circle cx="159.8" cy="106.0" r="0.6" fill="none" stroke="#a4a4a4" stroke-width="0.42"/>
<circle cx="198.9" cy="107.9" r="0.6" fill="none" stroke="#a4a4a4" stroke-width="0.42"/>
<circle cx="173.0" cy="104.9" r="0.6" fill="none" stroke="#a4a4a4" stroke-width="0.42"/>
<circle cx="188.3" cy="119.3" r="0.6" fill="none" stroke="#a4a4a4" stroke-width="0.42"/>
<circle cx="171.6" cy="103.3" r="0.6" fill="none" stroke="#a4a4a4" stroke-width="0.42"/>
<circle cx="199.7" cy="106.8" r="0.6" fill="none" stroke="#a4a4a4" stroke-width="0.42"/>
<circle cx="179.3" cy="90.4" r="0.6" fill="none" stroke="#a4a4a4" stroke-width="0.42"/>
<circle cx="157.5" cy="104.8" r="0.6" fill="none" stroke="#a4a4a4" stroke-width="0.42"/>
<circle cx="177.4" cy="99.9" r="0.6" fill="none" stroke="#a4a4a4" stroke-width="0.42"/>
<circle cx="200.9" cy="91.5" r="0.6" fill="none" stroke="#a4a4a4" stroke-width="0.42"/>
<circle cx="198.5" cy="115.6" r="0.6" fill="none" stroke="#a4a4a4" stroke-width="0.42"/>
<circle cx="203.8" cy="119.4" r="0.6" fill="none" stroke="#a4a4a4" stroke-width="0.42"/>
<circle cx="203.9" cy="119.7" r="0.6" fill="none" stroke="#a4a4a4" stroke-width="0.42"/>
<circle cx="209.8" cy="113.1" r="0.6" fill="none" stroke="#a4a4a4" stroke-width="0.42"/>
<circle cx="199.3" cy="109.5" r="0.6" fill="none" stroke="#a4a4a4" stroke-width="0.42"/>
<circle cx="178.6" cy="109.4" r="0.6" fill="none" stroke="#a4a4a4" stroke-width="0.42"/>
<circle cx="184.3" cy="111.7" r="0.6" fill="none" stroke="#a4a4a4" stroke-width="0.42"/>
<circle cx="179.6" cy="95.5" r="0.6" fill="none" stroke="#a4a4a4" stroke-width="0.42"/>
<circle cx="202.9" cy="112.8" r="0.6" fill="none" stroke="#a4a4a4" stroke-width="0.42"/>
<circle cx="183.4" cy="111.7" r="0.6" fill="none" stroke="#a4a4a4" stroke-width="0.42"/>
<circle cx="174.5" cy="100.3" r="0.6" fill="none" stroke="#a4a4a4" stroke-width="0.42"/>
<circle cx="176.3" cy="120.2" r="0.6" fill="none" stroke="#a4a4a4" stroke-width="0.42"/>
<circle cx="159.9" cy="110.8" r="0.6" fill="none" stroke="#a4a4a4" stroke-width="0.42"/>
<circle cx="218.9" cy="107.9" r="0.6" fill="none" stroke="#a4a4a4" stroke-width="0.42"/>
<circle cx="179.2" cy="105.7" r="0.6" fill="none" stroke="#a4a4a4" stroke-width="0.42"/>
<circle cx="169.7" cy="105.6" r="0.6" fill="none" stroke="#a4a4a4" stroke-width="0.42"/>
<circle cx="180.5" cy="115.4" r="0.6" fill="none" stroke="#a4a4a4" stroke-width="0.42"/>
<circle cx="193.4" cy="119.7" r="0.6" fill="none" stroke="#a4a4a4" stroke-width="0.42"/>
<circle cx="177.5" cy="102.5" r="0.6" fill="none" stroke="#a4a4a4" stroke-width="0.42"/>
<circle cx="210.0" cy="109.8" r="0.6" fill="none" stroke="#a4a4a4" stroke-width="0.42"/>
<circle cx="183.5" cy="109.0" r="0.6" fill="none" stroke="#a4a4a4" stroke-width="0.42"/>
<circle cx="194.1" cy="112.6" r="0.6" fill="none" stroke="#a4a4a4" stroke-width="0.42"/>
<circle cx="205.6" cy="99.8" r="0.6" fill="none" stroke="#a4a4a4" stroke-width="0.42"/>
<circle cx="195.0" cy="119.3" r="0.6" fill="none" stroke="#a4a4a4" stroke-width="0.42"/>
<circle cx="160.0" cy="120.8" r="0.6" fill="none" stroke="#a4a4a4" stroke-width="0.42"/>
<circle cx="176.0" cy="104.4" r="0.6" fill="none" stroke="#a4a4a4" stroke-width="0.42"/>
<circle cx="167.2" cy="106.7" r="0.6" fill="none" stroke="#a4a4a4" stroke-width="0.42"/>
<circle cx="202.5" cy="102.0" r="0.6" fill="none" stroke="#a4a4a4" stroke-width="0.42"/>
<circle cx="183.5" cy="119.7" r="0.6" fill="none" stroke="#a4a4a4" stroke-width="0.42"/>
<circle cx="175.2" cy="118.8" r="0.6" fill="none" stroke="#a4a4a4" stroke-width="0.42"/>
<circle cx="179.2" cy="112.0" r="0.6" fill="none" stroke="#a4a4a4" stroke-width="0.42"/>
<circle cx="180.2" cy="99.9" r="0.6" fill="none" stroke="#a4a4a4" stroke-width="0.42"/>
<circle cx="204.7" cy="100.3" r="0.6" fill="none" stroke="#a4a4a4" stroke-width="0.42"/>
<circle cx="178.8" cy="102.9" r="0.6" fill="none" stroke="#a4a4a4" stroke-width="0.42"/>
<circle cx="181.0" cy="104.0" r="0.6" fill="none" stroke="#a4a4a4" stroke-width="0.42"/>
<circle cx="175.2" cy="99.5" r="0.6" fill="none" stroke="#a4a4a4" stroke-width="0.42"/>
<circle cx="168.5" cy="106.0" r="0.6" fill="none" stroke="#a4a4a4" stroke-width="0.42"/>
<circle cx="214.4" cy="114.2" r="0.6" fill="none" stroke="#a4a4a4" stroke-width="0.42"/>
<circle cx="179.5" cy="98.6" r="0.6" fill="none" stroke="#a4a4a4" stroke-width="0.42"/>
<circle cx="184.9" cy="110.7" r="0.6" fill="none" stroke="#a4a4a4" stroke-width="0.42"/>
<circle cx="159.8" cy="104.2" r="0.6" fill="none" stroke="#a4a4a4" stroke-width="0.42"/>
<circle cx="199.7" cy="89.1" r="0.6" fill="none" stroke="#a4a4a4" stroke-width="0.42"/>
<circle cx="200.2" cy="95.9" r="0.6" fill="none" stroke="#a4a4a4" stroke-width="0.42"/>
<circle cx="218.9" cy="114.1" r="0.6" fill="none" stroke="#a4a4a4" stroke-width="0.42"/>
<circle cx="202.7" cy="118.6" r="0.6" fill="none" stroke="#a4a4a4" stroke-width="0.42"/>
<circle cx="200.0" cy="99.4" r="0.6" fill="none" stroke="#a4a4a4" stroke-width="0.42"/>
<circle cx="184.8" cy="120.9" r="0.6" fill="none" stroke="#a4a4a4" stroke-width="0.42"/>
<circle cx="169.2" cy="100.8" r="0.6" fill="none" stroke="#a4a4a4" stroke-width="0.42"/>
<circle cx="206.2" cy="113.0" r="0.6" fill="none" stroke="#a4a4a4" stroke-width="0.42"/>
<circle cx="210.3" cy="118.6" r="0.6" fill="none" stroke="#a4a4a4" stroke-width="0.42"/>
<circle cx="146.4" cy="104.2" r="0.6" fill="none" stroke="#a4a4a4" stroke-width="0.42"/>
<circle cx="194.6" cy="114.6" r="0.6" fill="none" stroke="#a4a4a4" stroke-width="0.42"/>
<circle cx="196.8" cy="120.7" r="0.6" fill="none" stroke="#a4a4a4" stroke-width="0.42"/>
<circle cx="181.9" cy="102.0" r="0.6" fill="none" stroke="#a4a4a4" stroke-width="0.42"/>
<circle cx="177.7" cy="118.8" r="0.6" fill="none" stroke="#a4a4a4" stroke-width="0.42"/>
<circle cx="158.2" cy="101.9" r="0.6" fill="none" stroke="#a4a4a4" stroke-width="0.42"/>
<circle cx="166.3" cy="108.0" r="0.6" fill="none" stroke="#a4a4a4" stroke-width="0.42"/>
<circle cx="160.8" cy="109.9" r="0.6" fill="none" stroke="#a4a4a4" stroke-width="0.42"/>
<circle cx="177.5" cy="104.5" r="0.6" fill="none" stroke="#a4a4a4" stroke-width="0.42"/>
<circle cx="177.0" cy="101.4" r="0.6" fill="none" stroke="#a4a4a4" stroke-width="0.42"/>
<circle cx="180.5" cy="118.8" r="0.6" fill="none" stroke="#a4a4a4" stroke-width="0.42"/>
<circle cx="198.0" cy="118.6" r="0.6" fill="none" stroke="#a4a4a4" stroke-width="0.42"/>
<circle cx="203.7" cy="120.5" r="0.6" fill="none" stroke="#a4a4a4" stroke-width="0.42"/>
<circle cx="201.9" cy="105.6" r="0.6" fill="none" stroke="#a4a4a4" stroke-width="0.42"/>
<circle cx="184.8" cy="115.0" r="0.6" fill="none" stroke="#a4a4a4" stroke-width="0.42"/>
<circle cx="196.3" cy="118.8" r="0.6" fill="none" stroke="#a4a4a4" stroke-width="0.42"/>
<circle cx="195.3" cy="119.6" r="0.6" fill="none" stroke="#a4a4a4" stroke-width="0.42"/>
<circle cx="208.1" cy="101.1" r="0.6" fill="none" stroke="#a4a4a4" stroke-width="0.42"/>
<circle cx="198.6" cy="102.1" r="0.6" fill="none" stroke="#a4a4a4" stroke-width="0.42"/>
<circle cx="171.0" cy="105.5" r="0.6" fill="none" stroke="#a4a4a4" stroke-width="0.42"/>
<circle cx="187.5" cy="118.7" r="0.6" fill="none" stroke="#a4a4a4" stroke-width="0.42"/>
<circle cx="211.1" cy="119.0" r="0.6" fill="none" stroke="#a4a4a4" stroke-width="0.42"/>
<circle cx="184.5" cy="117.0" r="0.6" fill="none" stroke="#a4a4a4" stroke-width="0.42"/>
<circle cx="195.5" cy="117.8" r="0.6" fill="none" stroke="#a4a4a4" stroke-width="0.42"/>
<circle cx="219.1" cy="105.9" r="0.6" fill="none" stroke="#a4a4a4" stroke-width="0.42"/>
<circle cx="168.4" cy="113.1" r="0.6" fill="none" stroke="#a4a4a4" stroke-width="0.42"/>
<circle cx="197.2" cy="99.9" r="0.6" fill="none" stroke="#a4a4a4" stroke-width="0.42"/>
<circle cx="196.2" cy="103.4" r="0.6" fill="none" stroke="#a4a4a4" stroke-width="0.42"/>
<circle cx="201.3" cy="116.7" r="0.6" fill="none" stroke="#a4a4a4" stroke-width="0.42"/>
<circle cx="200.3" cy="118.7" r="0.6" fill="none" stroke="#a4a4a4" stroke-width="0.42"/>
<circle cx="157.0" cy="109.3" r="0.6" fill="none" stroke="#a4a4a4" stroke-width="0.42"/>
<circle cx="167.2" cy="99.3" r="0.6" fill="none" stroke="#a4a4a4" stroke-width="0.42"/>
<circle cx="199.2" cy="92.1" r="0.6" fill="none" stroke="#a4a4a4" stroke-width="0.42"/>
<circle cx="198.3" cy="108.7" r="0.6" fill="none" stroke="#a4a4a4" stroke-width="0.42"/>
<circle cx="219.1" cy="104.1" r="0.6" fill="none" stroke="#a4a4a4" stroke-width="0.42"/>
<circle cx="181.0" cy="114.5" r="0.6" fill="none" stroke="#a4a4a4" stroke-width="0.42"/>
<circle cx="169.6" cy="100.2" r="0.6" fill="none" stroke="#a4a4a4" stroke-width="0.42"/>
<circle cx="178.5" cy="96.6" r="0.6" fill="none" stroke="#a4a4a4" stroke-width="0.42"/>
<circle cx="200.2" cy="102.5" r="0.6" fill="none" stroke="#a4a4a4" stroke-width="0.42"/>
<circle cx="194.1" cy="114.7" r="0.6" fill="none" stroke="#a4a4a4" stroke-width="0.42"/>
<circle cx="209.2" cy="107.3" r="0.6" fill="none" stroke="#a4a4a4" stroke-width="0.42"/>
<circle cx="178.1" cy="118.6" r="0.6" fill="none" stroke="#a4a4a4" stroke-width="0.42"/>
<circle cx="181.6" cy="102.9" r="0.6" fill="none" stroke="#a4a4a4" stroke-width="0.42"/>
<circle cx="175.0" cy="116.7" r="0.6" fill="none" stroke="#a4a4a4" stroke-width="0.42"/>
<circle cx="194.1" cy="116.6" r="0.6" fill="none" stroke="#a4a4a4" stroke-width="0.42"/>
<circle cx="182.5" cy="117.2" r="0.6" fill="none" stroke="#a4a4a4" stroke-width="0.42"/>
<circle cx="197.8" cy="97.4" r="0.6" fill="none" stroke="#a4a4a4" stroke-width="0.42"/>
<circle cx="200.8" cy="95.3" r="0.6" fill="none" stroke="#a4a4a4" stroke-width="0.42"/>
<circle cx="208.2" cy="99.3" r="0.6" fill="none" stroke="#a4a4a4" stroke-width="0.42"/>
<circle cx="177.5" cy="109.3" r="0.6" fill="none" stroke="#a4a4a4" stroke-width="0.42"/>
<circle cx="202.5" cy="119.0" r="0.6" fill="none" stroke="#a4a4a4" stroke-width="0.42"/>
<circle cx="204.8" cy="109.8" r="0.6" fill="none" stroke="#a4a4a4" stroke-width="0.42"/>
<circle cx="177.7" cy="98.3" r="0.6" fill="none" stroke="#a4a4a4" stroke-width="0.42"/>
<circle cx="159.2" cy="108.3" r="0.6" fill="none" stroke="#a4a4a4" stroke-width="0.42"/>
<circle cx="197.9" cy="119.4" r="0.6" fill="none" stroke="#a4a4a4" stroke-width="0.42"/>
<circle cx="178.3" cy="94.0" r="0.6" fill="none" stroke="#a4a4a4" stroke-width="0.42"/>
<circle cx="173.5" cy="106.1" r="0.6" fill="none" stroke="#a4a4a4" stroke-width="0.42"/>
<circle cx="179.5" cy="115.0" r="0.6" fill="none" stroke="#a4a4a4" stroke-width="0.42"/>
<circle cx="198.1" cy="97.1" r="0.6" fill="none" stroke="#a4a4a4" stroke-width="0.42"/>
<circle cx="204.3" cy="116.6" r="0.6" fill="none" stroke="#a4a4a4" stroke-width="0.42"/>
<circle cx="181.9" cy="105.1" r="0.6" fill="none" stroke="#a4a4a4" stroke-width="0.42"/>
<circle cx="206.7" cy="107.0" r="0.6" fill="none" stroke="#a4a4a4" stroke-width="0.42"/>
<circle cx="206.6" cy="102.7" r="0.6" fill="none" stroke="#a4a4a4" stroke-width="0.42"/>
<circle cx="170.0" cy="102.3" r="0.6" fill="none" stroke="#a4a4a4" stroke-width="0.42"/>
<circle cx="200.5" cy="103.3" r="0.6" fill="none" stroke="#a4a4a4" stroke-width="0.42"/>
<circle cx="212.8" cy="106.1" r="0.6" fill="none" stroke="#a4a4a4" stroke-width="0.42"/>
<circle cx="169.6" cy="106.7" r="0.6" fill="none" stroke="#a4a4a4" stroke-width="0.42"/>
<circle cx="199.3" cy="102.5" r="0.6" fill="none" stroke="#a4a4a4" stroke-width="0.42"/>
<circle cx="198.1" cy="103.4" r="0.6" fill="none" stroke="#a4a4a4" stroke-width="0.42"/>
<circle cx="204.9" cy="100.0" r="0.6" fill="none" stroke="#a4a4a4" stroke-width="0.42"/>
<circle cx="160.3" cy="113.7" r="0.6" fill="none" stroke="#a4a4a4" stroke-width="0.42"/>
<circle cx="186.1" cy="114.3" r="0.6" fill="none" stroke="#a4a4a4" stroke-width="0.42"/>
<circle cx="185.0" cy="114.1" r="0.6" fill="none" stroke="#a4a4a4" stroke-width="0.42"/>
<circle cx="179.8" cy="102.1" r="0.6" fill="none" stroke="#a4a4a4" stroke-width="0.42"/>
<circle cx="171.4" cy="108.4" r="0.6" fill="none" stroke="#a4a4a4" stroke-width="0.42"/>
<circle cx="198.7" cy="116.2" r="0.6" fill="none" stroke="#a4a4a4" stroke-width="0.42"/>
<circle cx="202.2" cy="100.6" r="0.6" fill="none" stroke="#a4a4a4" stroke-width="0.42"/>
<circle cx="199.4" cy="100.5" r="0.6" fill="none" stroke="#a4a4a4" stroke-width="0.42"/>
<circle cx="200.1" cy="92.0" r="0.6" fill="none" stroke="#a4a4a4" stroke-width="0.42"/>
<circle cx="185.1" cy="112.0" r="0.6" fill="none" stroke="#a4a4a4" stroke-width="0.42"/>
<circle cx="174.1" cy="116.2" r="0.6" fill="none" stroke="#a4a4a4" stroke-width="0.42"/>
<circle cx="157.9" cy="118.9" r="0.6" fill="none" stroke="#a4a4a4" stroke-width="0.42"/>
<circle cx="197.7" cy="108.8" r="0.6" fill="none" stroke="#a4a4a4" stroke-width="0.42"/>
<circle cx="215.0" cy="109.4" r="0.6" fill="none" stroke="#a4a4a4" stroke-width="0.42"/>
<circle cx="169.9" cy="99.1" r="0.6" fill="none" stroke="#a4a4a4" stroke-width="0.42"/>
<circle cx="179.9" cy="112.7" r="0.6" fill="none" stroke="#a4a4a4" stroke-width="0.42"/>
<circle cx="198.6" cy="109.4" r="0.6" fill="none" stroke="#a4a4a4" stroke-width="0.42"/>
<circle cx="177.5" cy="103.5" r="0.6" fill="none" stroke="#a4a4a4" stroke-width="0.42"/>
<circle cx="178.6" cy="101.3" r="0.6" fill="none" stroke="#a4a4a4" stroke-width="0.42"/>
<circle cx="180.3" cy="119.6" r="0.6" fill="none" stroke="#a4a4a4" stroke-width="0.42"/>
<circle cx="174.3" cy="109.1" r="0.6" fill="none" stroke="#a4a4a4" stroke-width="0.42"/>
<circle cx="212.1" cy="112.9" r="0.6" fill="none" stroke="#a4a4a4" stroke-width="0.42"/>
<circle cx="204.5" cy="119.5" r="0.6" fill="none" stroke="#a4a4a4" stroke-width="0.42"/>
<circle cx="192.9" cy="120.4" r="0.6" fill="none" stroke="#a4a4a4" stroke-width="0.42"/>
<circle cx="218.5" cy="105.6" r="0.6" fill="none" stroke="#a4a4a4" stroke-width="0.42"/>
<circle cx="218.7" cy="119.4" r="0.6" fill="none" stroke="#a4a4a4" stroke-width="0.42"/>
<circle cx="169.2" cy="100.3" r="0.6" fill="none" stroke="#a4a4a4" stroke-width="0.42"/>
<circle cx="199.9" cy="97.2" r="0.6" fill="none" stroke="#a4a4a4" stroke-width="0.42"/>
<circle cx="196.7" cy="113.5" r="0.6" fill="none" stroke="#a4a4a4" stroke-width="0.42"/>
<circle cx="184.3" cy="108.6" r="0.6" fill="none" stroke="#a4a4a4" stroke-width="0.42"/>
<circle cx="195.9" cy="111.2" r="0.6" fill="none" stroke="#a4a4a4" stroke-width="0.42"/>
<circle cx="205.7" cy="101.8" r="0.6" fill="none" stroke="#a4a4a4" stroke-width="0.42"/>
<circle cx="198.1" cy="113.9" r="0.6" fill="none" stroke="#a4a4a4" stroke-width="0.42"/>
<circle cx="199.0" cy="98.3" r="0.6" fill="none" stroke="#a4a4a4" stroke-width="0.42"/>
<circle cx="165.6" cy="114.0" r="0.6" fill="none" stroke="#a4a4a4" stroke-width="0.42"/>
<circle cx="213.7" cy="103.8" r="0.6" fill="none" stroke="#a4a4a4" stroke-width="0.42"/>
<circle cx="208.2" cy="106.0" r="0.6" fill="none" stroke="#a4a4a4" stroke-width="0.42"/>
<circle cx="192.6" cy="115.6" r="0.6" fill="none" stroke="#a4a4a4" stroke-width="0.42"/>
<circle cx="199.2" cy="100.2" r="0.6" fill="none" stroke="#a4a4a4" stroke-width="0.42"/>
<circle cx="181.3" cy="116.1" r="0.6" fill="none" stroke="#a4a4a4" stroke-width="0.42"/>
<circle cx="179.9" cy="93.8" r="0.6" fill="none" stroke="#a4a4a4" stroke-width="0.42"/>
<circle cx="157.7" cy="103.5" r="0.6" fill="none" stroke="#a4a4a4" stroke-width="0.42"/>
<circle cx="202.8" cy="101.9" r="0.6" fill="none" stroke="#a4a4a4" stroke-width="0.42"/>
<circle cx="180.0" cy="92.6" r="0.6" fill="none" stroke="#a4a4a4" stroke-width="0.42"/>
<circle cx="165.5" cy="110.2" r="0.6" fill="none" stroke="#a4a4a4" stroke-width="0.42"/>
<circle cx="186.4" cy="120.3" r="0.6" fill="none" stroke="#a4a4a4" stroke-width="0.42"/>
<circle cx="205.7" cy="119.4" r="0.6" fill="none" stroke="#a4a4a4" stroke-width="0.42"/>
<circle cx="200.6" cy="97.2" r="0.6" fill="none" stroke="#a4a4a4" stroke-width="0.42"/>
<circle cx="179.1" cy="113.3" r="0.6" fill="none" stroke="#a4a4a4" stroke-width="0.42"/>
<circle cx="202.9" cy="99.5" r="0.6" fill="none" stroke="#a4a4a4" stroke-width="0.42"/>
<circle cx="201.2" cy="117.7" r="0.6" fill="none" stroke="#a4a4a4" stroke-width="0.42"/>
<circle cx="180.9" cy="98.3" r="0.6" fill="none" stroke="#a4a4a4" stroke-width="0.42"/>
<circle cx="214.8" cy="113.8" r="0.6" fill="none" stroke="#a4a4a4" stroke-width="0.42"/>
<circle cx="195.0" cy="109.3" r="0.6" fill="none" stroke="#a4a4a4" stroke-width="0.42"/>
<circle cx="186.7" cy="119.0" r="0.6" fill="none" stroke="#a4a4a4" stroke-width="0.42"/>
<circle cx="199.1" cy="98.0" r="0.6" fill="none" stroke="#a4a4a4" stroke-width="0.42"/>
<circle cx="196.1" cy="109.7" r="0.6" fill="none" stroke="#a4a4a4" stroke-width="0.42"/>
<circle cx="174.6" cy="111.7" r="0.6" fill="none" stroke="#a4a4a4" stroke-width="0.42"/>
<circle cx="208.1" cy="100.1" r="0.6" fill="none" stroke="#a4a4a4" stroke-width="0.42"/>
<circle cx="179.6" cy="114.4" r="0.6" fill="none" stroke="#a4a4a4" stroke-width="0.42"/>
<circle cx="172.9" cy="116.2" r="0.6" fill="none" stroke="#a4a4a4" stroke-width="0.42"/>
<circle cx="183.6" cy="108.1" r="0.6" fill="none" stroke="#a4a4a4" stroke-width="0.42"/>
<circle cx="193.5" cy="114.1" r="0.6" fill="none" stroke="#a4a4a4" stroke-width="0.42"/>
<circle cx="157.2" cy="112.9" r="0.6" fill="none" stroke="#a4a4a4" stroke-width="0.42"/>
<circle cx="206.9" cy="99.4" r="0.6" fill="none" stroke="#a4a4a4" stroke-width="0.42"/>
<circle cx="160.8" cy="116.2" r="0.6" fill="none" stroke="#a4a4a4" stroke-width="0.42"/>
<circle cx="148.1" cy="107.2" r="0.6" fill="none" stroke="#a4a4a4" stroke-width="0.42"/>
<circle cx="182.0" cy="114.1" r="0.6" fill="none" stroke="#a4a4a4" stroke-width="0.42"/>
<circle cx="172.6" cy="113.7" r="0.6" fill="none" stroke="#a4a4a4" stroke-width="0.42"/>
<circle cx="179.8" cy="114.6" r="0.6" fill="none" stroke="#a4a4a4" stroke-width="0.42"/>
<circle cx="205.0" cy="106.2" r="0.6" fill="none" stroke="#a4a4a4" stroke-width="0.42"/>
<circle cx="158.8" cy="100.4" r="0.6" fill="none" stroke="#a4a4a4" stroke-width="0.42"/>
<circle cx="166.2" cy="116.4" r="0.6" fill="none" stroke="#a4a4a4" stroke-width="0.42"/>
<circle cx="192.4" cy="119.2" r="0.6" fill="none" stroke="#a4a4a4" stroke-width="0.42"/>
<circle cx="166.1" cy="106.2" r="0.6" fill="none" stroke="#a4a4a4" stroke-width="0.42"/>
<circle cx="184.4" cy="113.7" r="0.6" fill="none" stroke="#a4a4a4" stroke-width="0.42"/>
<circle cx="211.0" cy="117.7" r="0.6" fill="none" stroke="#a4a4a4" stroke-width="0.42"/>
<circle cx="199.6" cy="105.8" r="0.6" fill="none" stroke="#a4a4a4" stroke-width="0.42"/>
<circle cx="197.2" cy="110.9" r="0.6" fill="none" stroke="#a4a4a4" stroke-width="0.42"/>
<circle cx="205.6" cy="99.3" r="0.6" fill="none" stroke="#a4a4a4" stroke-width="0.42"/>
<circle cx="177.5" cy="99.9" r="0.6" fill="none" stroke="#a4a4a4" stroke-width="0.42"/>
<circle cx="229.0" cy="120.4" r="0.6" fill="none" stroke="#a4a4a4" stroke-width="0.42"/>
<circle cx="161.1" cy="114.2" r="0.6" fill="none" stroke="#a4a4a4" stroke-width="0.42"/>
<circle cx="219.0" cy="105.3" r="0.6" fill="none" stroke="#a4a4a4" stroke-width="0.42"/>
<circle cx="167.1" cy="107.3" r="0.6" fill="none" stroke="#a4a4a4" stroke-width="0.42"/>
<circle cx="178.1" cy="111.7" r="0.6" fill="none" stroke="#a4a4a4" stroke-width="0.42"/>
<circle cx="158.0" cy="120.4" r="0.6" fill="none" stroke="#a4a4a4" stroke-width="0.42"/>
<circle cx="200.3" cy="103.6" r="0.6" fill="none" stroke="#a4a4a4" stroke-width="0.42"/>
<circle cx="183.8" cy="107.4" r="0.6" fill="none" stroke="#a4a4a4" stroke-width="0.42"/>
<circle cx="226.8" cy="102.6" r="0.6" fill="none" stroke="#a4a4a4" stroke-width="0.42"/>
<circle cx="179.0" cy="111.0" r="0.6" fill="none" stroke="#a4a4a4" stroke-width="0.42"/>
<circle cx="179.7" cy="116.6" r="0.6" fill="none" stroke="#a4a4a4" stroke-width="0.42"/>
<circle cx="200.3" cy="104.5" r="0.6" fill="none" stroke="#a4a4a4" stroke-width="0.42"/>
<circle cx="166.5" cy="98.7" r="0.6" fill="none" stroke="#a4a4a4" stroke-width="0.42"/>
<circle cx="177.1" cy="103.6" r="0.6" fill="none" stroke="#a4a4a4" stroke-width="0.42"/>
<circle cx="167.6" cy="103.4" r="0.6" fill="none" stroke="#a4a4a4" stroke-width="0.42"/>
<circle cx="197.0" cy="116.2" r="0.6" fill="none" stroke="#a4a4a4" stroke-width="0.42"/>
<circle cx="171.2" cy="99.7" r="0.6" fill="none" stroke="#a4a4a4" stroke-width="0.42"/>
<circle cx="176.4" cy="110.2" r="0.6" fill="none" stroke="#a4a4a4" stroke-width="0.42"/>
<circle cx="206.7" cy="107.0" r="0.6" fill="none" stroke="#a4a4a4" stroke-width="0.42"/>
<circle cx="212.5" cy="119.1" r="0.6" fill="none" stroke="#a4a4a4" stroke-width="0.42"/>
<circle cx="199.8" cy="94.8" r="0.6" fill="none" stroke="#a4a4a4" stroke-width="0.42"/>
<circle cx="193.7" cy="113.2" r="0.6" fill="none" stroke="#a4a4a4" stroke-width="0.42"/>
<circle cx="181.7" cy="106.3" r="0.6" fill="none" stroke="#a4a4a4" stroke-width="0.42"/>
<circle cx="208.2" cy="118.4" r="0.6" fill="none" stroke="#a4a4a4" stroke-width="0.42"/>
<circle cx="186.5" cy="119.6" r="0.6" fill="none" stroke="#a4a4a4" stroke-width="0.42"/>
<circle cx="159.5" cy="100.4" r="0.6" fill="none" stroke="#a4a4a4" stroke-width="0.42"/>
<circle cx="167.4" cy="104.8" r="0.6" fill="none" stroke="#a4a4a4" stroke-width="0.42"/>
<circle cx="181.6" cy="115.6" r="0.6" fill="none" stroke="#a4a4a4" stroke-width="0.42"/>
<circle cx="181.9" cy="116.0" r="0.6" fill="none" stroke="#a4a4a4" stroke-width="0.42"/>
<circle cx="172.8" cy="107.7" r="0.6" fill="none" stroke="#a4a4a4" stroke-width="0.42"/>
<circle cx="213.7" cy="118.8" r="0.6" fill="none" stroke="#a4a4a4" stroke-width="0.42"/>
<circle cx="200.6" cy="100.6" r="0.6" fill="none" stroke="#a4a4a4" stroke-width="0.42"/>
<circle cx="214.1" cy="104.7" r="0.6" fill="none" stroke="#a4a4a4" stroke-width="0.42"/>
<circle cx="199.2" cy="100.3" r="0.6" fill="none" stroke="#a4a4a4" stroke-width="0.42"/>
<circle cx="210.7" cy="118.4" r="0.6" fill="none" stroke="#a4a4a4" stroke-width="0.42"/>
<circle cx="194.3" cy="115.9" r="0.6" fill="none" stroke="#a4a4a4" stroke-width="0.42"/>
<circle cx="169.0" cy="106.2" r="0.6" fill="none" stroke="#a4a4a4" stroke-width="0.42"/>
<circle cx="200.2" cy="103.0" r="0.6" fill="none" stroke="#a4a4a4" stroke-width="0.42"/>
<circle cx="206.6" cy="110.3" r="0.6" fill="none" stroke="#a4a4a4" stroke-width="0.42"/>
<circle cx="182.9" cy="107.7" r="0.6" fill="none" stroke="#a4a4a4" stroke-width="0.42"/>
<circle cx="201.2" cy="118.1" r="0.6" fill="none" stroke="#a4a4a4" stroke-width="0.42"/>
<circle cx="167.7" cy="103.7" r="0.6" fill="none" stroke="#a4a4a4" stroke-width="0.42"/>
<circle cx="199.7" cy="96.6" r="0.6" fill="none" stroke="#a4a4a4" stroke-width="0.42"/>
<circle cx="219.6" cy="114.2" r="0.6" fill="none" stroke="#a4a4a4" stroke-width="0.42"/>
<circle cx="180.5" cy="117.0" r="0.6" fill="none" stroke="#a4a4a4" stroke-width="0.42"/>
<circle cx="199.3" cy="99.3" r="0.6" fill="none" stroke="#a4a4a4" stroke-width="0.42"/>
<circle cx="196.8" cy="113.0" r="0.6" fill="none" stroke="#a4a4a4" stroke-width="0.42"/>
<circle cx="195.6" cy="117.3" r="0.6" fill="none" stroke="#a4a4a4" stroke-width="0.42"/>
<circle cx="168.9" cy="111.2" r="0.6" fill="none" stroke="#a4a4a4" stroke-width="0.42"/>
<circle cx="194.5" cy="114.6" r="0.6" fill="none" stroke="#a4a4a4" stroke-width="0.42"/>
<circle cx="173.9" cy="118.5" r="0.6" fill="none" stroke="#a4a4a4" stroke-width="0.42"/>
<circle cx="210.4" cy="111.3" r="0.6" fill="none" stroke="#a4a4a4" stroke-width="0.42"/>
<circle cx="203.7" cy="102.4" r="0.6" fill="none" stroke="#a4a4a4" stroke-width="0.42"/>
<circle cx="156.9" cy="114.0" r="0.6" fill="none" stroke="#a4a4a4" stroke-width="0.42"/>
<circle cx="205.0" cy="101.4" r="0.6" fill="none" stroke="#a4a4a4" stroke-width="0.42"/>
<circle cx="179.6" cy="93.9" r="0.6" fill="none" stroke="#a4a4a4" stroke-width="0.42"/>
<circle cx="177.2" cy="111.7" r="0.6" fill="none" stroke="#a4a4a4" stroke-width="0.42"/>
<circle cx="177.0" cy="107.7" r="0.6" fill="none" stroke="#a4a4a4" stroke-width="0.42"/>
<circle cx="175.7" cy="108.8" r="0.6" fill="none" stroke="#a4a4a4" stroke-width="0.42"/>
<circle cx="171.0" cy="109.9" r="0.6" fill="none" stroke="#a4a4a4" stroke-width="0.42"/>
<circle cx="201.7" cy="113.8" r="0.6" fill="none" stroke="#a4a4a4" stroke-width="0.42"/>
<circle cx="177.9" cy="106.2" r="0.6" fill="none" stroke="#a4a4a4" stroke-width="0.42"/>
<circle cx="203.4" cy="118.6" r="0.6" fill="none" stroke="#a4a4a4" stroke-width="0.42"/>
<circle cx="163.3" cy="99.7" r="0.6" fill="none" stroke="#a4a4a4" stroke-width="0.42"/>
<circle cx="226.0" cy="109.3" r="0.6" fill="none" stroke="#a4a4a4" stroke-width="0.42"/>
<circle cx="203.5" cy="107.4" r="0.6" fill="none" stroke="#a4a4a4" stroke-width="0.42"/>
<circle cx="208.9" cy="105.4" r="0.6" fill="none" stroke="#a4a4a4" stroke-width="0.42"/>
<circle cx="176.4" cy="114.7" r="0.6" fill="none" stroke="#a4a4a4" stroke-width="0.42"/>
<circle cx="218.0" cy="115.1" r="0.6" fill="none" stroke="#a4a4a4" stroke-width="0.42"/>
<circle cx="185.0" cy="119.8" r="0.6" fill="none" stroke="#a4a4a4" stroke-width="0.42"/>
<circle cx="177.3" cy="109.8" r="0.6" fill="none" stroke="#a4a4a4" stroke-width="0.42"/>
<circle cx="176.4" cy="102.9" r="0.6" fill="none" stroke="#a4a4a4" stroke-width="0.42"/>
<circle cx="193.5" cy="111.8" r="0.6" fill="none" stroke="#a4a4a4" stroke-width="0.42"/>
<circle cx="215.1" cy="101.7" r="0.6" fill="none" stroke="#a4a4a4" stroke-width="0.42"/>
<circle cx="216.6" cy="118.2" r="0.6" fill="none" stroke="#a4a4a4" stroke-width="0.42"/>
<circle cx="209.7" cy="103.7" r="0.6" fill="none" stroke="#a4a4a4" stroke-width="0.42"/>
<circle cx="194.5" cy="120.2" r="0.6" fill="none" stroke="#a4a4a4" stroke-width="0.42"/>
<circle cx="180.2" cy="103.7" r="0.6" fill="none" stroke="#a4a4a4" stroke-width="0.42"/>
<circle cx="180.3" cy="95.8" r="0.6" fill="none" stroke="#a4a4a4" stroke-width="0.42"/>
<circle cx="201.4" cy="94.9" r="0.6" fill="none" stroke="#a4a4a4" stroke-width="0.42"/>
<circle cx="149.1" cy="117.7" r="0.6" fill="none" stroke="#a4a4a4" stroke-width="0.42"/>
<circle cx="208.8" cy="104.4" r="0.6" fill="none" stroke="#a4a4a4" stroke-width="0.42"/>
<circle cx="183.6" cy="117.8" r="0.6" fill="none" stroke="#a4a4a4" stroke-width="0.42"/>
<circle cx="207.5" cy="105.6" r="0.6" fill="none" stroke="#a4a4a4" stroke-width="0.42"/>
<circle cx="192.8" cy="119.6" r="0.6" fill="none" stroke="#a4a4a4" stroke-width="0.42"/>
<circle cx="178.8" cy="106.0" r="0.6" fill="none" stroke="#a4a4a4" stroke-width="0.42"/>
<circle cx="194.7" cy="111.3" r="0.6" fill="none" stroke="#a4a4a4" stroke-width="0.42"/>
<circle cx="166.7" cy="114.3" r="0.6" fill="none" stroke="#a4a4a4" stroke-width="0.42"/>
<circle cx="178.9" cy="114.4" r="0.6" fill="none" stroke="#a4a4a4" stroke-width="0.42"/>
<circle cx="178.9" cy="88.2" r="0.6" fill="none" stroke="#a4a4a4" stroke-width="0.42"/>
<circle cx="198.7" cy="118.4" r="0.6" fill="none" stroke="#a4a4a4" stroke-width="0.42"/>
<circle cx="192.8" cy="120.6" r="0.6" fill="none" stroke="#a4a4a4" stroke-width="0.42"/>
<circle cx="179.4" cy="98.1" r="0.6" fill="none" stroke="#a4a4a4" stroke-width="0.42"/>
<circle cx="185.5" cy="117.8" r="0.6" fill="none" stroke="#a4a4a4" stroke-width="0.42"/>
<circle cx="175.5" cy="100.1" r="0.6" fill="none" stroke="#a4a4a4" stroke-width="0.42"/>
<circle cx="159.5" cy="114.6" r="0.6" fill="none" stroke="#a4a4a4" stroke-width="0.42"/>
<circle cx="201.5" cy="113.2" r="0.6" fill="none" stroke="#a4a4a4" stroke-width="0.42"/>
<circle cx="207.2" cy="105.9" r="0.6" fill="none" stroke="#a4a4a4" stroke-width="0.42"/>
<circle cx="155.4" cy="112.4" r="0.6" fill="none" stroke="#a4a4a4" stroke-width="0.42"/>
<circle cx="205.4" cy="110.4" r="0.6" fill="none" stroke="#a4a4a4" stroke-width="0.42"/>
<circle cx="164.1" cy="100.8" r="0.6" fill="none" stroke="#a4a4a4" stroke-width="0.42"/>
<circle cx="167.7" cy="107.6" r="0.6" fill="none" stroke="#a4a4a4" stroke-width="0.42"/>
<circle cx="227.9" cy="116.0" r="0.6" fill="none" stroke="#a4a4a4" stroke-width="0.42"/>
<circle cx="201.3" cy="97.5" r="0.6" fill="none" stroke="#a4a4a4" stroke-width="0.42"/>
<circle cx="210.8" cy="113.6" r="0.6" fill="none" stroke="#a4a4a4" stroke-width="0.42"/>
<circle cx="168.5" cy="105.7" r="0.6" fill="none" stroke="#a4a4a4" stroke-width="0.42"/>
<circle cx="198.2" cy="103.3" r="0.6" fill="none" stroke="#a4a4a4" stroke-width="0.42"/>
<circle cx="150.0" cy="106.4" r="0.6" fill="none" stroke="#a4a4a4" stroke-width="0.42"/>
<circle cx="165.3" cy="103.5" r="0.6" fill="none" stroke="#a4a4a4" stroke-width="0.42"/>
<circle cx="187.4" cy="117.1" r="0.6" fill="none" stroke="#a4a4a4" stroke-width="0.42"/>
<circle cx="206.2" cy="105.3" r="0.6" fill="none" stroke="#a4a4a4" stroke-width="0.42"/>
<circle cx="210.8" cy="104.5" r="0.6" fill="none" stroke="#a4a4a4" stroke-width="0.42"/>
<circle cx="185.9" cy="115.4" r="0.6" fill="none" stroke="#a4a4a4" stroke-width="0.42"/>
<circle cx="176.0" cy="108.5" r="0.6" fill="none" stroke="#a4a4a4" stroke-width="0.42"/>
<circle cx="200.3" cy="96.5" r="0.6" fill="none" stroke="#a4a4a4" stroke-width="0.42"/>
<circle cx="200.6" cy="118.6" r="0.6" fill="none" stroke="#a4a4a4" stroke-width="0.42"/>
<circle cx="179.1" cy="119.2" r="0.6" fill="none" stroke="#a4a4a4" stroke-width="0.42"/>
<circle cx="177.7" cy="101.6" r="0.6" fill="none" stroke="#a4a4a4" stroke-width="0.42"/>
<circle cx="172.8" cy="117.7" r="0.6" fill="none" stroke="#a4a4a4" stroke-width="0.42"/>
<circle cx="203.0" cy="107.0" r="0.6" fill="none" stroke="#a4a4a4" stroke-width="0.42"/>
<circle cx="165.7" cy="100.7" r="0.6" fill="none" stroke="#a4a4a4" stroke-width="0.42"/>
<circle cx="197.1" cy="112.1" r="0.6" fill="none" stroke="#a4a4a4" stroke-width="0.42"/>
<circle cx="201.2" cy="118.0" r="0.6" fill="none" stroke="#a4a4a4" stroke-width="0.42"/>
<circle cx="178.4" cy="108.7" r="0.6" fill="none" stroke="#a4a4a4" stroke-width="0.42"/>
<circle cx="206.3" cy="116.8" r="0.6" fill="none" stroke="#a4a4a4" stroke-width="0.42"/>
<circle cx="185.4" cy="113.4" r="0.6" fill="none" stroke="#a4a4a4" stroke-width="0.42"/>
<circle cx="206.0" cy="115.6" r="0.6" fill="none" stroke="#a4a4a4" stroke-width="0.42"/>
<circle cx="176.3" cy="120.4" r="0.6" fill="none" stroke="#a4a4a4" stroke-width="0.42"/>
<circle cx="202.2" cy="99.7" r="0.6" fill="none" stroke="#a4a4a4" stroke-width="0.42"/>
<circle cx="174.4" cy="119.2" r="0.6" fill="none" stroke="#a4a4a4" stroke-width="0.42"/>
<circle cx="181.1" cy="115.4" r="0.6" fill="none" stroke="#a4a4a4" stroke-width="0.42"/>
<circle cx="202.5" cy="120.8" r="0.6" fill="none" stroke="#a4a4a4" stroke-width="0.42"/>
<circle cx="182.2" cy="104.8" r="0.6" fill="none" stroke="#a4a4a4" stroke-width="0.42"/>
<circle cx="201.6" cy="107.9" r="0.6" fill="none" stroke="#a4a4a4" stroke-width="0.42"/>
<circle cx="184.6" cy="120.0" r="0.6" fill="none" stroke="#a4a4a4" stroke-width="0.42"/>
<circle cx="182.8" cy="117.9" r="0.6" fill="none" stroke="#a4a4a4" stroke-width="0.42"/>
<circle cx="231.9" cy="109.1" r="0.6" fill="none" stroke="#a4a4a4" stroke-width="0.42"/>
<circle cx="176.1" cy="101.4" r="0.6" fill="none" stroke="#a4a4a4" stroke-width="0.42"/>
<circle cx="177.2" cy="114.1" r="0.6" fill="none" stroke="#a4a4a4" stroke-width="0.42"/>
<circle cx="177.3" cy="109.5" r="0.6" fill="none" stroke="#a4a4a4" stroke-width="0.42"/>
<circle cx="219.4" cy="115.0" r="0.6" fill="none" stroke="#a4a4a4" stroke-width="0.42"/>
<circle cx="211.4" cy="120.3" r="0.6" fill="none" stroke="#a4a4a4" stroke-width="0.42"/>
<circle cx="204.0" cy="113.9" r="0.6" fill="none" stroke="#a4a4a4" stroke-width="0.42"/>
<circle cx="204.4" cy="113.3" r="0.6" fill="none" stroke="#a4a4a4" stroke-width="0.42"/>
<circle cx="197.0" cy="116.0" r="0.6" fill="none" stroke="#a4a4a4" stroke-width="0.42"/>
<circle cx="196.5" cy="114.4" r="0.6" fill="none" stroke="#a4a4a4" stroke-width="0.42"/>
<circle cx="176.5" cy="100.0" r="0.6" fill="none" stroke="#a4a4a4" stroke-width="0.42"/>
<circle cx="170.4" cy="100.2" r="0.6" fill="none" stroke="#a4a4a4" stroke-width="0.42"/>
<circle cx="230.9" cy="100.3" r="0.6" fill="none" stroke="#a4a4a4" stroke-width="0.42"/>
<circle cx="177.1" cy="108.6" r="0.6" fill="none" stroke="#a4a4a4" stroke-width="0.42"/>
<circle cx="196.8" cy="112.8" r="0.6" fill="none" stroke="#a4a4a4" stroke-width="0.42"/>
<circle cx="213.7" cy="109.5" r="0.6" fill="none" stroke="#a4a4a4" stroke-width="0.42"/>
<circle cx="202.8" cy="112.0" r="0.6" fill="none" stroke="#a4a4a4" stroke-width="0.42"/>
<circle cx="183.1" cy="108.2" r="0.6" fill="none" stroke="#a4a4a4" stroke-width="0.42"/>
<circle cx="181.1" cy="101.6" r="0.6" fill="none" stroke="#a4a4a4" stroke-width="0.42"/>
<circle cx="165.7" cy="107.1" r="0.6" fill="none" stroke="#a4a4a4" stroke-width="0.42"/>
<circle cx="203.1" cy="107.9" r="0.6" fill="none" stroke="#a4a4a4" stroke-width="0.42"/>
<circle cx="235.6" cy="118.1" r="0.6" fill="none" stroke="#a4a4a4" stroke-width="0.42"/>
<circle cx="179.4" cy="113.5" r="0.6" fill="none" stroke="#a4a4a4" stroke-width="0.42"/>
<circle cx="205.9" cy="112.0" r="0.6" fill="none" stroke="#a4a4a4" stroke-width="0.42"/>
<circle cx="178.4" cy="93.1" r="0.6" fill="none" stroke="#a4a4a4" stroke-width="0.42"/>
<circle cx="180.0" cy="99.7" r="0.6" fill="none" stroke="#a4a4a4" stroke-width="0.42"/>
<circle cx="163.9" cy="101.9" r="0.6" fill="none" stroke="#a4a4a4" stroke-width="0.42"/>
<circle cx="205.0" cy="110.0" r="0.6" fill="none" stroke="#a4a4a4" stroke-width="0.42"/>
<circle cx="179.6" cy="120.7" r="0.6" fill="none" stroke="#a4a4a4" stroke-width="0.42"/>
<circle cx="206.5" cy="99.4" r="0.6" fill="none" stroke="#a4a4a4" stroke-width="0.42"/>
<circle cx="168.5" cy="114.3" r="0.6" fill="none" stroke="#a4a4a4" stroke-width="0.42"/>
<circle cx="198.8" cy="108.5" r="0.6" fill="none" stroke="#a4a4a4" stroke-width="0.42"/>
<circle cx="208.4" cy="108.1" r="0.6" fill="none" stroke="#a4a4a4" stroke-width="0.42"/>
<circle cx="181.8" cy="114.8" r="0.6" fill="none" stroke="#a4a4a4" stroke-width="0.42"/>
<circle cx="221.8" cy="109.5" r="0.6" fill="none" stroke="#a4a4a4" stroke-width="0.42"/>
<circle cx="194.8" cy="112.4" r="0.6" fill="none" stroke="#a4a4a4" stroke-width="0.42"/>
<circle cx="183.6" cy="114.9" r="0.6" fill="none" stroke="#a4a4a4" stroke-width="0.42"/>
<circle cx="169.7" cy="104.2" r="0.6" fill="none" stroke="#a4a4a4" stroke-width="0.42"/>
<circle cx="179.9" cy="96.5" r="0.6" fill="none" stroke="#a4a4a4" stroke-width="0.42"/>
<circle cx="182.0" cy="112.7" r="0.6" fill="none" stroke="#a4a4a4" stroke-width="0.42"/>
<circle cx="153.7" cy="104.6" r="0.6" fill="none" stroke="#a4a4a4" stroke-width="0.42"/>
<circle cx="177.1" cy="118.3" r="0.6" fill="none" stroke="#a4a4a4" stroke-width="0.42"/>
<circle cx="168.4" cy="99.3" r="0.6" fill="none" stroke="#a4a4a4" stroke-width="0.42"/>
<circle cx="172.3" cy="110.3" r="0.6" fill="none" stroke="#a4a4a4" stroke-width="0.42"/>
<circle cx="177.1" cy="108.9" r="0.6" fill="none" stroke="#a4a4a4" stroke-width="0.42"/>
<circle cx="199.0" cy="104.5" r="0.6" fill="none" stroke="#a4a4a4" stroke-width="0.42"/>
<circle cx="176.8" cy="103.8" r="0.6" fill="none" stroke="#a4a4a4" stroke-width="0.42"/>
<circle cx="166.7" cy="103.1" r="0.6" fill="none" stroke="#a4a4a4" stroke-width="0.42"/>
<circle cx="225.3" cy="100.1" r="0.6" fill="none" stroke="#a4a4a4" stroke-width="0.42"/>
<circle cx="205.3" cy="113.1" r="0.6" fill="none" stroke="#a4a4a4" stroke-width="0.42"/>
<circle cx="173.8" cy="112.0" r="0.6" fill="none" stroke="#a4a4a4" stroke-width="0.42"/>
<circle cx="175.9" cy="113.4" r="0.6" fill="none" stroke="#a4a4a4" stroke-width="0.42"/>
<circle cx="220.7" cy="113.2" r="0.6" fill="none" stroke="#a4a4a4" stroke-width="0.42"/>
<circle cx="177.9" cy="97.6" r="0.6" fill="none" stroke="#a4a4a4" stroke-width="0.42"/>
<circle cx="171.4" cy="99.3" r="0.6" fill="none" stroke="#a4a4a4" stroke-width="0.42"/>
<circle cx="174.7" cy="120.5" r="0.6" fill="none" stroke="#a4a4a4" stroke-width="0.42"/>
<circle cx="177.4" cy="100.4" r="0.6" fill="none" stroke="#a4a4a4" stroke-width="0.42"/>
<circle cx="177.7" cy="86.9" r="0.6" fill="none" stroke="#a4a4a4" stroke-width="0.42"/>
<circle cx="214.0" cy="120.8" r="0.6" fill="none" stroke="#a4a4a4" stroke-width="0.42"/>
<circle cx="176.4" cy="118.1" r="0.6" fill="none" stroke="#a4a4a4" stroke-width="0.42"/>
<circle cx="206.6" cy="116.1" r="0.6" fill="none" stroke="#a4a4a4" stroke-width="0.42"/>
<circle cx="181.3" cy="105.9" r="0.6" fill="none" stroke="#a4a4a4" stroke-width="0.42"/>
<circle cx="175.7" cy="110.7" r="0.6" fill="none" stroke="#a4a4a4" stroke-width="0.42"/>
<circle cx="173.8" cy="104.1" r="0.6" fill="none" stroke="#a4a4a4" stroke-width="0.42"/>
<circle cx="200.9" cy="97.8" r="0.6" fill="none" stroke="#a4a4a4" stroke-width="0.42"/>
<circle cx="198.4" cy="104.8" r="0.6" fill="none" stroke="#a4a4a4" stroke-width="0.42"/>
<circle cx="226.2" cy="116.3" r="0.6" fill="none" stroke="#a4a4a4" stroke-width="0.42"/>
<circle cx="223.3" cy="109.2" r="0.6" fill="none" stroke="#a4a4a4" stroke-width="0.42"/>
<circle cx="126.5" cy="104.2" r="0.6" fill="none" stroke="#a4a4a4" stroke-width="0.42"/>
<circle cx="130.5" cy="114.2" r="0.6" fill="none" stroke="#a4a4a4" stroke-width="0.42"/>
<circle cx="150.1" cy="116.7" r="0.6" fill="none" stroke="#a4a4a4" stroke-width="0.42"/>
<circle cx="130.1" cy="118.1" r="0.6" fill="none" stroke="#a4a4a4" stroke-width="0.42"/>
<circle cx="158.5" cy="111.6" r="0.6" fill="none" stroke="#a4a4a4" stroke-width="0.42"/>
<circle cx="236.3" cy="106.1" r="0.6" fill="none" stroke="#a4a4a4" stroke-width="0.42"/>
<circle cx="231.2" cy="104.5" r="0.6" fill="none" stroke="#a4a4a4" stroke-width="0.42"/>
<circle cx="225.9" cy="118.5" r="0.6" fill="none" stroke="#a4a4a4" stroke-width="0.42"/>
<circle cx="158.2" cy="120.5" r="0.6" fill="none" stroke="#a4a4a4" stroke-width="0.42"/>
<circle cx="125.5" cy="116.8" r="0.6" fill="none" stroke="#a4a4a4" stroke-width="0.42"/>
<circle cx="159.0" cy="108.5" r="0.6" fill="none" stroke="#a4a4a4" stroke-width="0.42"/>
<circle cx="113.2" cy="105.3" r="0.6" fill="none" stroke="#a4a4a4" stroke-width="0.42"/>
<circle cx="148.9" cy="108.4" r="0.6" fill="none" stroke="#a4a4a4" stroke-width="0.42"/>
<line x1="83" y1="98.5" x2="242" y2="98.5" stroke="#444" stroke-width="0.5" stroke-dasharray="1.2,1.2"/>
<line x1="178" y1="13.6" x2="178" y2="123.5" stroke="#777" stroke-width="0.5" stroke-dasharray="0.9,0.9"/>
<line x1="202" y1="13.6" x2="202" y2="123.5" stroke="#777" stroke-width="0.5" stroke-dasharray="0.9,0.9"/>
<line x1="93.5" y1="99.5" x2="93.5" y2="121" stroke="#999" stroke-width="0.8" stroke-dasharray="0.9,1.1"/>
<line x1="237.5" y1="99.5" x2="237.5" y2="121" stroke="#999" stroke-width="0.8" stroke-dasharray="0.9,1.1"/>
<circle cx="170.10" cy="23.10" r="0.85" fill="#0000ff"/>
<circle cx="171.10" cy="51.70" r="0.85" fill="#0000ff"/>
<circle cx="174.50" cy="61.90" r="0.85" fill="#0000ff"/>
<circle cx="175.60" cy="64.70" r="0.85" fill="#0000ff"/>
<circle cx="171.60" cy="68.50" r="0.85" fill="#0000ff"/>
<circle cx="109.60" cy="89.00" r="0.85" fill="#0000ff"/>
<circle cx="133.50" cy="85.00" r="0.85" fill="#0000ff"/>
<circle cx="132.60" cy="90.90" r="0.85" fill="#0000ff"/>
<circle cx="125.80" cy="93.70" r="0.85" fill="#0000ff"/>
<circle cx="146.80" cy="85.90" r="0.85" fill="#0000ff"/>
<circle cx="141.90" cy="94.90" r="0.85" fill="#0000ff"/>
<circle cx="157.60" cy="95.50" r="0.85" fill="#0000ff"/>
<circle cx="153.80" cy="98.30" r="0.85" fill="#0000ff"/>
<circle cx="164.00" cy="71.80" r="0.85" fill="#0000ff"/>
<circle cx="165.60" cy="79.00" r="0.85" fill="#0000ff"/>
<circle cx="162.00" cy="86.20" r="0.85" fill="#0000ff"/>
<circle cx="164.50" cy="86.70" r="0.85" fill="#0000ff"/>
<circle cx="162.20" cy="91.90" r="0.85" fill="#0000ff"/>
<circle cx="171.50" cy="68.20" r="0.85" fill="#0000ff"/>
<circle cx="171.80" cy="70.30" r="0.85" fill="#0000ff"/>
<circle cx="171.80" cy="79.10" r="0.85" fill="#0000ff"/>
<circle cx="169.00" cy="85.40" r="0.85" fill="#0000ff"/>
<circle cx="171.30" cy="85.00" r="0.85" fill="#0000ff"/>
<circle cx="173.80" cy="84.50" r="0.85" fill="#0000ff"/>
<circle cx="175.90" cy="84.20" r="0.85" fill="#0000ff"/>
<circle cx="177.90" cy="83.40" r="0.85" fill="#0000ff"/>
<circle cx="171.20" cy="90.00" r="0.85" fill="#0000ff"/>
<circle cx="172.60" cy="89.10" r="0.85" fill="#0000ff"/>
<circle cx="174.30" cy="90.80" r="0.85" fill="#0000ff"/>
<circle cx="175.60" cy="90.00" r="0.85" fill="#0000ff"/>
<circle cx="166.90" cy="92.70" r="0.85" fill="#0000ff"/>
<circle cx="168.60" cy="94.90" r="0.85" fill="#0000ff"/>
<circle cx="169.90" cy="96.30" r="0.85" fill="#0000ff"/>
<circle cx="171.80" cy="96.00" r="0.85" fill="#0000ff"/>
<circle cx="173.50" cy="96.80" r="0.85" fill="#0000ff"/>
<circle cx="175.10" cy="96.30" r="0.85" fill="#0000ff"/>
<circle cx="166.10" cy="97.20" r="0.85" fill="#0000ff"/>
<circle cx="176.70" cy="94.90" r="0.85" fill="#0000ff"/>
<circle cx="178.40" cy="95.20" r="0.85" fill="#0000ff"/>
<circle cx="174.50" cy="61.60" r="0.85" fill="#0000ff"/>
<circle cx="175.40" cy="64.60" r="0.85" fill="#0000ff"/>
<circle cx="170.00" cy="97.50" r="0.85" fill="#0000ff"/>
<circle cx="172.00" cy="97.80" r="0.85" fill="#0000ff"/>
<circle cx="174.00" cy="97.60" r="0.85" fill="#0000ff"/>
<circle cx="176.00" cy="97.90" r="0.85" fill="#0000ff"/>
<circle cx="218.10" cy="38.60" r="0.85" fill="#ff0000"/>
<circle cx="207.90" cy="45.40" r="0.85" fill="#ff0000"/>
<circle cx="207.90" cy="57.90" r="0.85" fill="#ff0000"/>
<circle cx="206.90" cy="62.90" r="0.85" fill="#ff0000"/>
<circle cx="209.70" cy="66.40" r="0.85" fill="#ff0000"/>
<circle cx="202.40" cy="66.40" r="0.85" fill="#ff0000"/>
<circle cx="215.70" cy="69.60" r="0.85" fill="#ff0000"/>
<circle cx="226.40" cy="70.00" r="0.85" fill="#ff0000"/>
<circle cx="202.90" cy="71.00" r="0.85" fill="#ff0000"/>
<circle cx="205.00" cy="72.10" r="0.85" fill="#ff0000"/>
<circle cx="208.60" cy="73.10" r="0.85" fill="#ff0000"/>
<circle cx="236.00" cy="75.00" r="0.85" fill="#ff0000"/>
<circle cx="226.10" cy="76.90" r="0.85" fill="#ff0000"/>
<circle cx="227.10" cy="77.40" r="0.85" fill="#ff0000"/>
<circle cx="203.30" cy="75.70" r="0.85" fill="#ff0000"/>
<circle cx="205.70" cy="77.90" r="0.85" fill="#ff0000"/>
<circle cx="206.40" cy="81.40" r="0.85" fill="#ff0000"/>
<circle cx="204.30" cy="82.90" r="0.85" fill="#ff0000"/>
<circle cx="211.00" cy="83.60" r="0.85" fill="#ff0000"/>
<circle cx="207.90" cy="85.40" r="0.85" fill="#ff0000"/>
<circle cx="212.10" cy="86.90" r="0.85" fill="#ff0000"/>
<circle cx="205.00" cy="87.10" r="0.85" fill="#ff0000"/>
<circle cx="232.90" cy="85.00" r="0.85" fill="#ff0000"/>
<circle cx="202.90" cy="90.00" r="0.85" fill="#ff0000"/>
<circle cx="208.10" cy="90.00" r="0.85" fill="#ff0000"/>
<circle cx="210.70" cy="90.00" r="0.85" fill="#ff0000"/>
<circle cx="231.00" cy="89.70" r="0.85" fill="#ff0000"/>
<circle cx="203.60" cy="91.40" r="0.85" fill="#ff0000"/>
<circle cx="205.70" cy="92.90" r="0.85" fill="#ff0000"/>
<circle cx="217.10" cy="92.90" r="0.85" fill="#ff0000"/>
<circle cx="237.60" cy="92.10" r="0.85" fill="#ff0000"/>
<circle cx="215.70" cy="95.00" r="0.85" fill="#ff0000"/>
<circle cx="220.00" cy="94.60" r="0.85" fill="#ff0000"/>
<circle cx="228.90" cy="96.00" r="0.85" fill="#ff0000"/>
<circle cx="203.90" cy="95.00" r="0.85" fill="#ff0000"/>
<circle cx="206.40" cy="95.70" r="0.85" fill="#ff0000"/>
<circle cx="209.30" cy="96.10" r="0.85" fill="#ff0000"/>
<circle cx="211.90" cy="97.10" r="0.85" fill="#ff0000"/>
<circle cx="222.10" cy="97.90" r="0.85" fill="#ff0000"/>
<circle cx="202.90" cy="97.90" r="0.85" fill="#ff0000"/>
<text x="162.60" y="8.80" font-size="3.9" text-anchor="middle" fill="#222" stroke="#222" stroke-width="0.100" >Volcano Map (Saline_vs_LPS)</text>
<text x="163.00" y="136.44" font-size="4.0" text-anchor="middle" fill="#222" stroke="#222" stroke-width="0.100" >log2(FoldChange)</text>
<text x="0" y="0" font-size="4.3" text-anchor="middle" fill="#222" stroke="#222" stroke-width="0.08" transform="translate(72.20,68.25) rotate(-90)">-log10(pvalue)</text>
<circle cx="248.00" cy="24.80" r="0.75" fill="#ff0000"/>
<text x="250.60" y="25.95" font-size="3.2" text-anchor="start" fill="#333" stroke="#333" stroke-width="0.100" >Up</text>
<circle cx="248" cy="30.2" r="0.45" fill="none" stroke="#aaa" stroke-width="0.35"/>
<text x="250.60" y="31.35" font-size="3.2" text-anchor="start" fill="#333" stroke="#333" stroke-width="0.100" >Nosdiff</text>
<circle cx="248.00" cy="35.60" r="0.75" fill="#0000ff"/>
<text x="250.60" y="36.75" font-size="3.2" text-anchor="start" fill="#333" stroke="#333" stroke-width="0.100" >Down</text>
<rect x="309.6" y="13.6" width="159.59999999999997" height="109.9" fill="none" stroke="#a0a0a0" stroke-width="0.9"/>
<polyline points="309.6,13.6 309.6,123.5 469.2,123.5" fill="none" stroke="#a8a8a8" stroke-width="1.3"/>
<line x1="308.1" y1="120.90" x2="309.6" y2="120.90" stroke="#555" stroke-width="0.5"/>
<text x="307.20" y="122.41" font-size="4.2" text-anchor="end" fill="#333" stroke="#333" stroke-width="0.100" >0</text>
<line x1="308.1" y1="100.02" x2="309.6" y2="100.02" stroke="#555" stroke-width="0.5"/>
<text x="307.20" y="101.53" font-size="4.2" text-anchor="end" fill="#333" stroke="#333" stroke-width="0.100" >1</text>
<line x1="308.1" y1="79.14" x2="309.6" y2="79.14" stroke="#555" stroke-width="0.5"/>
<text x="307.20" y="80.65" font-size="4.2" text-anchor="end" fill="#333" stroke="#333" stroke-width="0.100" >2</text>
<line x1="308.1" y1="58.26" x2="309.6" y2="58.26" stroke="#555" stroke-width="0.5"/>
<text x="307.20" y="59.77" font-size="4.2" text-anchor="end" fill="#333" stroke="#333" stroke-width="0.100" >3</text>
<line x1="308.1" y1="37.38" x2="309.6" y2="37.38" stroke="#555" stroke-width="0.5"/>
<text x="307.20" y="38.89" font-size="4.2" text-anchor="end" fill="#333" stroke="#333" stroke-width="0.100" >4</text>
<line x1="308.1" y1="16.50" x2="309.6" y2="16.50" stroke="#555" stroke-width="0.5"/>
<text x="307.20" y="18.01" font-size="4.2" text-anchor="end" fill="#333" stroke="#333" stroke-width="0.100" >5</text>
<line x1="314.90" y1="123.5" x2="314.90" y2="125.0" stroke="#555" stroke-width="0.5"/>
<text x="314.90" y="128.61" font-size="4.2" text-anchor="middle" fill="#333" stroke="#333" stroke-width="0.100" >-10</text>
<line x1="333.10" y1="123.5" x2="333.10" y2="125.0" stroke="#555" stroke-width="0.5"/>
<text x="333.10" y="128.61" font-size="4.2" text-anchor="middle" fill="#333" stroke="#333" stroke-width="0.100" >-8</text>
<line x1="351.30" y1="123.5" x2="351.30" y2="125.0" stroke="#555" stroke-width="0.5"/>
<text x="351.30" y="128.61" font-size="4.2" text-anchor="middle" fill="#333" stroke="#333" stroke-width="0.100" >-6</text>
<line x1="369.50" y1="123.5" x2="369.50" y2="125.0" stroke="#555" stroke-width="0.5"/>
<text x="369.50" y="128.61" font-size="4.2" text-anchor="middle" fill="#333" stroke="#333" stroke-width="0.100" >-4</text>
<line x1="387.70" y1="123.5" x2="387.70" y2="125.0" stroke="#555" stroke-width="0.5"/>
<text x="387.70" y="128.61" font-size="4.2" text-anchor="middle" fill="#333" stroke="#333" stroke-width="0.100" >-2</text>
<line x1="405.90" y1="123.5" x2="405.90" y2="125.0" stroke="#555" stroke-width="0.5"/>
<text x="405.90" y="128.61" font-size="4.2" text-anchor="middle" fill="#333" stroke="#333" stroke-width="0.100" >0</text>
<line x1="424.10" y1="123.5" x2="424.10" y2="125.0" stroke="#555" stroke-width="0.5"/>
<text x="424.10" y="128.61" font-size="4.2" text-anchor="middle" fill="#333" stroke="#333" stroke-width="0.100" >2</text>
<line x1="442.30" y1="123.5" x2="442.30" y2="125.0" stroke="#555" stroke-width="0.5"/>
<text x="442.30" y="128.61" font-size="4.2" text-anchor="middle" fill="#333" stroke="#333" stroke-width="0.100" >4</text>
<line x1="460.50" y1="123.5" x2="460.50" y2="125.0" stroke="#555" stroke-width="0.5"/>
<text x="460.50" y="128.61" font-size="4.2" text-anchor="middle" fill="#333" stroke="#333" stroke-width="0.100" >6</text>
<circle cx="415.0" cy="85.7" r="0.6" fill="none" stroke="#a4a4a4" stroke-width="0.42"/>
<circle cx="398.0" cy="97.9" r="0.6" fill="none" stroke="#a4a4a4" stroke-width="0.42"/>
<circle cx="409.5" cy="119.5" r="0.6" fill="none" stroke="#a4a4a4" stroke-width="0.42"/>
<circle cx="402.4" cy="99.5" r="0.6" fill="none" stroke="#a4a4a4" stroke-width="0.42"/>
<circle cx="397.6" cy="65.2" r="0.6" fill="none" stroke="#a4a4a4" stroke-width="0.42"/>
<circle cx="412.8" cy="108.3" r="0.6" fill="none" stroke="#a4a4a4" stroke-width="0.42"/>
<circle cx="399.0" cy="80.9" r="0.6" fill="none" stroke="#a4a4a4" stroke-width="0.42"/>
<circle cx="398.0" cy="82.0" r="0.6" fill="none" stroke="#a4a4a4" stroke-width="0.42"/>
<circle cx="392.3" cy="115.7" r="0.6" fill="none" stroke="#a4a4a4" stroke-width="0.42"/>
<circle cx="420.0" cy="103.0" r="0.6" fill="none" stroke="#a4a4a4" stroke-width="0.42"/>
<circle cx="411.1" cy="94.2" r="0.6" fill="none" stroke="#a4a4a4" stroke-width="0.42"/>
<circle cx="406.9" cy="116.3" r="0.6" fill="none" stroke="#a4a4a4" stroke-width="0.42"/>
<circle cx="417.7" cy="106.8" r="0.6" fill="none" stroke="#a4a4a4" stroke-width="0.42"/>
<circle cx="397.2" cy="104.1" r="0.6" fill="none" stroke="#a4a4a4" stroke-width="0.42"/>
<circle cx="394.6" cy="106.6" r="0.6" fill="none" stroke="#a4a4a4" stroke-width="0.42"/>
<circle cx="415.5" cy="98.3" r="0.6" fill="none" stroke="#a4a4a4" stroke-width="0.42"/>
<circle cx="414.0" cy="88.3" r="0.6" fill="none" stroke="#a4a4a4" stroke-width="0.42"/>
<circle cx="417.5" cy="98.1" r="0.6" fill="none" stroke="#a4a4a4" stroke-width="0.42"/>
<circle cx="399.0" cy="74.6" r="0.6" fill="none" stroke="#a4a4a4" stroke-width="0.42"/>
<circle cx="411.8" cy="83.0" r="0.6" fill="none" stroke="#a4a4a4" stroke-width="0.42"/>
<circle cx="399.3" cy="74.1" r="0.6" fill="none" stroke="#a4a4a4" stroke-width="0.42"/>
<circle cx="414.0" cy="109.0" r="0.6" fill="none" stroke="#a4a4a4" stroke-width="0.42"/>
<circle cx="397.9" cy="108.3" r="0.6" fill="none" stroke="#a4a4a4" stroke-width="0.42"/>
<circle cx="410.5" cy="95.7" r="0.6" fill="none" stroke="#a4a4a4" stroke-width="0.42"/>
<circle cx="399.4" cy="92.5" r="0.6" fill="none" stroke="#a4a4a4" stroke-width="0.42"/>
<circle cx="411.1" cy="110.6" r="0.6" fill="none" stroke="#a4a4a4" stroke-width="0.42"/>
<circle cx="415.1" cy="117.0" r="0.6" fill="none" stroke="#a4a4a4" stroke-width="0.42"/>
<circle cx="399.2" cy="107.9" r="0.6" fill="none" stroke="#a4a4a4" stroke-width="0.42"/>
<circle cx="399.7" cy="112.3" r="0.6" fill="none" stroke="#a4a4a4" stroke-width="0.42"/>
<circle cx="394.7" cy="102.1" r="0.6" fill="none" stroke="#a4a4a4" stroke-width="0.42"/>
<circle cx="415.0" cy="73.4" r="0.6" fill="none" stroke="#a4a4a4" stroke-width="0.42"/>
<circle cx="397.4" cy="61.9" r="0.6" fill="none" stroke="#a4a4a4" stroke-width="0.42"/>
<circle cx="410.9" cy="94.3" r="0.6" fill="none" stroke="#a4a4a4" stroke-width="0.42"/>
<circle cx="410.6" cy="94.1" r="0.6" fill="none" stroke="#a4a4a4" stroke-width="0.42"/>
<circle cx="398.0" cy="104.6" r="0.6" fill="none" stroke="#a4a4a4" stroke-width="0.42"/>
<circle cx="416.9" cy="102.6" r="0.6" fill="none" stroke="#a4a4a4" stroke-width="0.42"/>
<circle cx="397.7" cy="87.2" r="0.6" fill="none" stroke="#a4a4a4" stroke-width="0.42"/>
<circle cx="395.6" cy="119.8" r="0.6" fill="none" stroke="#a4a4a4" stroke-width="0.42"/>
<circle cx="428.0" cy="100.9" r="0.6" fill="none" stroke="#a4a4a4" stroke-width="0.42"/>
<circle cx="412.8" cy="111.1" r="0.6" fill="none" stroke="#a4a4a4" stroke-width="0.42"/>
<circle cx="426.7" cy="115.8" r="0.6" fill="none" stroke="#a4a4a4" stroke-width="0.42"/>
<circle cx="410.8" cy="113.5" r="0.6" fill="none" stroke="#a4a4a4" stroke-width="0.42"/>
<circle cx="397.9" cy="118.5" r="0.6" fill="none" stroke="#a4a4a4" stroke-width="0.42"/>
<circle cx="408.6" cy="119.8" r="0.6" fill="none" stroke="#a4a4a4" stroke-width="0.42"/>
<circle cx="399.9" cy="117.0" r="0.6" fill="none" stroke="#a4a4a4" stroke-width="0.42"/>
<circle cx="410.9" cy="107.0" r="0.6" fill="none" stroke="#a4a4a4" stroke-width="0.42"/>
<circle cx="391.0" cy="106.8" r="0.6" fill="none" stroke="#a4a4a4" stroke-width="0.42"/>
<circle cx="409.9" cy="105.2" r="0.6" fill="none" stroke="#a4a4a4" stroke-width="0.42"/>
<circle cx="408.8" cy="107.2" r="0.6" fill="none" stroke="#a4a4a4" stroke-width="0.42"/>
<circle cx="393.4" cy="95.3" r="0.6" fill="none" stroke="#a4a4a4" stroke-width="0.42"/>
<circle cx="411.5" cy="86.1" r="0.6" fill="none" stroke="#a4a4a4" stroke-width="0.42"/>
<circle cx="403.2" cy="111.1" r="0.6" fill="none" stroke="#a4a4a4" stroke-width="0.42"/>
<circle cx="411.2" cy="90.5" r="0.6" fill="none" stroke="#a4a4a4" stroke-width="0.42"/>
<circle cx="415.8" cy="114.7" r="0.6" fill="none" stroke="#a4a4a4" stroke-width="0.42"/>
<circle cx="412.2" cy="103.9" r="0.6" fill="none" stroke="#a4a4a4" stroke-width="0.42"/>
<circle cx="415.1" cy="111.7" r="0.6" fill="none" stroke="#a4a4a4" stroke-width="0.42"/>
<circle cx="413.0" cy="101.2" r="0.6" fill="none" stroke="#a4a4a4" stroke-width="0.42"/>
<circle cx="424.0" cy="120.5" r="0.6" fill="none" stroke="#a4a4a4" stroke-width="0.42"/>
<circle cx="397.4" cy="77.0" r="0.6" fill="none" stroke="#a4a4a4" stroke-width="0.42"/>
<circle cx="390.6" cy="103.5" r="0.6" fill="none" stroke="#a4a4a4" stroke-width="0.42"/>
<circle cx="384.1" cy="94.7" r="0.6" fill="none" stroke="#a4a4a4" stroke-width="0.42"/>
<circle cx="408.5" cy="114.7" r="0.6" fill="none" stroke="#a4a4a4" stroke-width="0.42"/>
<circle cx="376.7" cy="108.3" r="0.6" fill="none" stroke="#a4a4a4" stroke-width="0.42"/>
<circle cx="400.1" cy="91.2" r="0.6" fill="none" stroke="#a4a4a4" stroke-width="0.42"/>
<circle cx="413.7" cy="116.8" r="0.6" fill="none" stroke="#a4a4a4" stroke-width="0.42"/>
<circle cx="413.5" cy="101.4" r="0.6" fill="none" stroke="#a4a4a4" stroke-width="0.42"/>
<circle cx="408.3" cy="104.9" r="0.6" fill="none" stroke="#a4a4a4" stroke-width="0.42"/>
<circle cx="391.7" cy="102.1" r="0.6" fill="none" stroke="#a4a4a4" stroke-width="0.42"/>
<circle cx="392.8" cy="116.6" r="0.6" fill="none" stroke="#a4a4a4" stroke-width="0.42"/>
<circle cx="418.4" cy="115.2" r="0.6" fill="none" stroke="#a4a4a4" stroke-width="0.42"/>
<circle cx="402.4" cy="100.5" r="0.6" fill="none" stroke="#a4a4a4" stroke-width="0.42"/>
<circle cx="413.9" cy="103.7" r="0.6" fill="none" stroke="#a4a4a4" stroke-width="0.42"/>
<circle cx="412.3" cy="88.1" r="0.6" fill="none" stroke="#a4a4a4" stroke-width="0.42"/>
<circle cx="414.5" cy="86.0" r="0.6" fill="none" stroke="#a4a4a4" stroke-width="0.42"/>
<circle cx="400.5" cy="108.8" r="0.6" fill="none" stroke="#a4a4a4" stroke-width="0.42"/>
<circle cx="412.2" cy="79.4" r="0.6" fill="none" stroke="#a4a4a4" stroke-width="0.42"/>
<circle cx="383.3" cy="117.8" r="0.6" fill="none" stroke="#a4a4a4" stroke-width="0.42"/>
<circle cx="418.1" cy="112.6" r="0.6" fill="none" stroke="#a4a4a4" stroke-width="0.42"/>
<circle cx="398.1" cy="73.2" r="0.6" fill="none" stroke="#a4a4a4" stroke-width="0.42"/>
<circle cx="414.0" cy="75.3" r="0.6" fill="none" stroke="#a4a4a4" stroke-width="0.42"/>
<circle cx="426.6" cy="118.5" r="0.6" fill="none" stroke="#a4a4a4" stroke-width="0.42"/>
<circle cx="394.8" cy="96.4" r="0.6" fill="none" stroke="#a4a4a4" stroke-width="0.42"/>
<circle cx="416.8" cy="106.2" r="0.6" fill="none" stroke="#a4a4a4" stroke-width="0.42"/>
<circle cx="394.8" cy="102.2" r="0.6" fill="none" stroke="#a4a4a4" stroke-width="0.42"/>
<circle cx="397.3" cy="67.4" r="0.6" fill="none" stroke="#a4a4a4" stroke-width="0.42"/>
<circle cx="412.3" cy="106.3" r="0.6" fill="none" stroke="#a4a4a4" stroke-width="0.42"/>
<circle cx="401.7" cy="103.9" r="0.6" fill="none" stroke="#a4a4a4" stroke-width="0.42"/>
<circle cx="399.5" cy="80.9" r="0.6" fill="none" stroke="#a4a4a4" stroke-width="0.42"/>
<circle cx="410.0" cy="97.9" r="0.6" fill="none" stroke="#a4a4a4" stroke-width="0.42"/>
<circle cx="415.4" cy="93.8" r="0.6" fill="none" stroke="#a4a4a4" stroke-width="0.42"/>
<circle cx="408.3" cy="110.7" r="0.6" fill="none" stroke="#a4a4a4" stroke-width="0.42"/>
<circle cx="398.2" cy="88.3" r="0.6" fill="none" stroke="#a4a4a4" stroke-width="0.42"/>
<circle cx="397.0" cy="79.2" r="0.6" fill="none" stroke="#a4a4a4" stroke-width="0.42"/>
<circle cx="418.1" cy="114.5" r="0.6" fill="none" stroke="#a4a4a4" stroke-width="0.42"/>
<circle cx="408.9" cy="103.1" r="0.6" fill="none" stroke="#a4a4a4" stroke-width="0.42"/>
<circle cx="412.0" cy="90.9" r="0.6" fill="none" stroke="#a4a4a4" stroke-width="0.42"/>
<circle cx="393.8" cy="109.2" r="0.6" fill="none" stroke="#a4a4a4" stroke-width="0.42"/>
<circle cx="396.4" cy="109.7" r="0.6" fill="none" stroke="#a4a4a4" stroke-width="0.42"/>
<circle cx="416.0" cy="120.3" r="0.6" fill="none" stroke="#a4a4a4" stroke-width="0.42"/>
<circle cx="403.9" cy="113.1" r="0.6" fill="none" stroke="#a4a4a4" stroke-width="0.42"/>
<circle cx="413.3" cy="91.5" r="0.6" fill="none" stroke="#a4a4a4" stroke-width="0.42"/>
<circle cx="397.8" cy="98.2" r="0.6" fill="none" stroke="#a4a4a4" stroke-width="0.42"/>
<circle cx="415.1" cy="119.6" r="0.6" fill="none" stroke="#a4a4a4" stroke-width="0.42"/>
<circle cx="420.7" cy="98.8" r="0.6" fill="none" stroke="#a4a4a4" stroke-width="0.42"/>
<circle cx="413.7" cy="74.3" r="0.6" fill="none" stroke="#a4a4a4" stroke-width="0.42"/>
<circle cx="374.0" cy="103.6" r="0.6" fill="none" stroke="#a4a4a4" stroke-width="0.42"/>
<circle cx="391.7" cy="105.1" r="0.6" fill="none" stroke="#a4a4a4" stroke-width="0.42"/>
<circle cx="399.0" cy="88.5" r="0.6" fill="none" stroke="#a4a4a4" stroke-width="0.42"/>
<circle cx="414.2" cy="89.1" r="0.6" fill="none" stroke="#a4a4a4" stroke-width="0.42"/>
<circle cx="412.6" cy="109.3" r="0.6" fill="none" stroke="#a4a4a4" stroke-width="0.42"/>
<circle cx="431.6" cy="105.9" r="0.6" fill="none" stroke="#a4a4a4" stroke-width="0.42"/>
<circle cx="411.9" cy="106.5" r="0.6" fill="none" stroke="#a4a4a4" stroke-width="0.42"/>
<circle cx="408.9" cy="109.7" r="0.6" fill="none" stroke="#a4a4a4" stroke-width="0.42"/>
<circle cx="397.5" cy="101.5" r="0.6" fill="none" stroke="#a4a4a4" stroke-width="0.42"/>
<circle cx="411.8" cy="78.1" r="0.6" fill="none" stroke="#a4a4a4" stroke-width="0.42"/>
<circle cx="401.6" cy="113.1" r="0.6" fill="none" stroke="#a4a4a4" stroke-width="0.42"/>
<circle cx="411.6" cy="101.8" r="0.6" fill="none" stroke="#a4a4a4" stroke-width="0.42"/>
<circle cx="411.5" cy="107.2" r="0.6" fill="none" stroke="#a4a4a4" stroke-width="0.42"/>
<circle cx="413.6" cy="116.7" r="0.6" fill="none" stroke="#a4a4a4" stroke-width="0.42"/>
<circle cx="409.9" cy="96.0" r="0.6" fill="none" stroke="#a4a4a4" stroke-width="0.42"/>
<circle cx="403.2" cy="113.9" r="0.6" fill="none" stroke="#a4a4a4" stroke-width="0.42"/>
<circle cx="392.9" cy="111.3" r="0.6" fill="none" stroke="#a4a4a4" stroke-width="0.42"/>
<circle cx="413.8" cy="85.6" r="0.6" fill="none" stroke="#a4a4a4" stroke-width="0.42"/>
<circle cx="414.0" cy="61.7" r="0.6" fill="none" stroke="#a4a4a4" stroke-width="0.42"/>
<circle cx="392.0" cy="107.2" r="0.6" fill="none" stroke="#a4a4a4" stroke-width="0.42"/>
<circle cx="396.2" cy="99.3" r="0.6" fill="none" stroke="#a4a4a4" stroke-width="0.42"/>
<circle cx="402.8" cy="101.6" r="0.6" fill="none" stroke="#a4a4a4" stroke-width="0.42"/>
<circle cx="409.0" cy="120.4" r="0.6" fill="none" stroke="#a4a4a4" stroke-width="0.42"/>
<circle cx="411.3" cy="103.2" r="0.6" fill="none" stroke="#a4a4a4" stroke-width="0.42"/>
<circle cx="417.0" cy="102.1" r="0.6" fill="none" stroke="#a4a4a4" stroke-width="0.42"/>
<circle cx="402.8" cy="119.0" r="0.6" fill="none" stroke="#a4a4a4" stroke-width="0.42"/>
<circle cx="395.7" cy="109.2" r="0.6" fill="none" stroke="#a4a4a4" stroke-width="0.42"/>
<circle cx="435.1" cy="108.4" r="0.6" fill="none" stroke="#a4a4a4" stroke-width="0.42"/>
<circle cx="385.9" cy="94.3" r="0.6" fill="none" stroke="#a4a4a4" stroke-width="0.42"/>
<circle cx="395.6" cy="99.1" r="0.6" fill="none" stroke="#a4a4a4" stroke-width="0.42"/>
<circle cx="397.2" cy="109.6" r="0.6" fill="none" stroke="#a4a4a4" stroke-width="0.42"/>
<circle cx="397.2" cy="91.4" r="0.6" fill="none" stroke="#a4a4a4" stroke-width="0.42"/>
<circle cx="399.2" cy="103.2" r="0.6" fill="none" stroke="#a4a4a4" stroke-width="0.42"/>
<circle cx="411.4" cy="92.9" r="0.6" fill="none" stroke="#a4a4a4" stroke-width="0.42"/>
<circle cx="418.7" cy="96.9" r="0.6" fill="none" stroke="#a4a4a4" stroke-width="0.42"/>
<circle cx="396.7" cy="113.7" r="0.6" fill="none" stroke="#a4a4a4" stroke-width="0.42"/>
<circle cx="393.1" cy="120.8" r="0.6" fill="none" stroke="#a4a4a4" stroke-width="0.42"/>
<circle cx="412.6" cy="81.1" r="0.6" fill="none" stroke="#a4a4a4" stroke-width="0.42"/>
<circle cx="397.7" cy="104.1" r="0.6" fill="none" stroke="#a4a4a4" stroke-width="0.42"/>
<circle cx="398.2" cy="70.6" r="0.6" fill="none" stroke="#a4a4a4" stroke-width="0.42"/>
<circle cx="399.4" cy="89.8" r="0.6" fill="none" stroke="#a4a4a4" stroke-width="0.42"/>
<circle cx="391.8" cy="108.7" r="0.6" fill="none" stroke="#a4a4a4" stroke-width="0.42"/>
<circle cx="411.2" cy="112.7" r="0.6" fill="none" stroke="#a4a4a4" stroke-width="0.42"/>
<circle cx="399.3" cy="91.1" r="0.6" fill="none" stroke="#a4a4a4" stroke-width="0.42"/>
<circle cx="429.5" cy="101.7" r="0.6" fill="none" stroke="#a4a4a4" stroke-width="0.42"/>
<circle cx="400.6" cy="108.1" r="0.6" fill="none" stroke="#a4a4a4" stroke-width="0.42"/>
<circle cx="411.9" cy="119.2" r="0.6" fill="none" stroke="#a4a4a4" stroke-width="0.42"/>
<circle cx="398.5" cy="102.2" r="0.6" fill="none" stroke="#a4a4a4" stroke-width="0.42"/>
<circle cx="408.9" cy="114.9" r="0.6" fill="none" stroke="#a4a4a4" stroke-width="0.42"/>
<circle cx="412.5" cy="83.9" r="0.6" fill="none" stroke="#a4a4a4" stroke-width="0.42"/>
<circle cx="398.5" cy="105.4" r="0.6" fill="none" stroke="#a4a4a4" stroke-width="0.42"/>
<circle cx="396.9" cy="69.4" r="0.6" fill="none" stroke="#a4a4a4" stroke-width="0.42"/>
<circle cx="414.4" cy="91.5" r="0.6" fill="none" stroke="#a4a4a4" stroke-width="0.42"/>
<circle cx="410.1" cy="101.0" r="0.6" fill="none" stroke="#a4a4a4" stroke-width="0.42"/>
<circle cx="399.5" cy="111.7" r="0.6" fill="none" stroke="#a4a4a4" stroke-width="0.42"/>
<circle cx="398.3" cy="71.7" r="0.6" fill="none" stroke="#a4a4a4" stroke-width="0.42"/>
<circle cx="393.4" cy="98.0" r="0.6" fill="none" stroke="#a4a4a4" stroke-width="0.42"/>
<circle cx="389.1" cy="112.6" r="0.6" fill="none" stroke="#a4a4a4" stroke-width="0.42"/>
<circle cx="396.2" cy="104.2" r="0.6" fill="none" stroke="#a4a4a4" stroke-width="0.42"/>
<circle cx="401.0" cy="103.3" r="0.6" fill="none" stroke="#a4a4a4" stroke-width="0.42"/>
<circle cx="399.6" cy="118.3" r="0.6" fill="none" stroke="#a4a4a4" stroke-width="0.42"/>
<circle cx="414.2" cy="93.7" r="0.6" fill="none" stroke="#a4a4a4" stroke-width="0.42"/>
<circle cx="413.6" cy="109.9" r="0.6" fill="none" stroke="#a4a4a4" stroke-width="0.42"/>
<circle cx="394.3" cy="94.2" r="0.6" fill="none" stroke="#a4a4a4" stroke-width="0.42"/>
<circle cx="400.4" cy="82.0" r="0.6" fill="none" stroke="#a4a4a4" stroke-width="0.42"/>
<circle cx="396.1" cy="106.5" r="0.6" fill="none" stroke="#a4a4a4" stroke-width="0.42"/>
<circle cx="382.8" cy="94.7" r="0.6" fill="none" stroke="#a4a4a4" stroke-width="0.42"/>
<circle cx="420.6" cy="103.2" r="0.6" fill="none" stroke="#a4a4a4" stroke-width="0.42"/>
<circle cx="397.1" cy="88.7" r="0.6" fill="none" stroke="#a4a4a4" stroke-width="0.42"/>
<circle cx="411.8" cy="116.9" r="0.6" fill="none" stroke="#a4a4a4" stroke-width="0.42"/>
<circle cx="401.0" cy="103.9" r="0.6" fill="none" stroke="#a4a4a4" stroke-width="0.42"/>
<circle cx="400.0" cy="113.3" r="0.6" fill="none" stroke="#a4a4a4" stroke-width="0.42"/>
<circle cx="393.1" cy="113.3" r="0.6" fill="none" stroke="#a4a4a4" stroke-width="0.42"/>
<circle cx="421.3" cy="114.2" r="0.6" fill="none" stroke="#a4a4a4" stroke-width="0.42"/>
<circle cx="398.3" cy="108.9" r="0.6" fill="none" stroke="#a4a4a4" stroke-width="0.42"/>
<circle cx="391.4" cy="98.5" r="0.6" fill="none" stroke="#a4a4a4" stroke-width="0.42"/>
<circle cx="381.7" cy="106.6" r="0.6" fill="none" stroke="#a4a4a4" stroke-width="0.42"/>
<circle cx="399.9" cy="119.6" r="0.6" fill="none" stroke="#a4a4a4" stroke-width="0.42"/>
<circle cx="411.1" cy="107.6" r="0.6" fill="none" stroke="#a4a4a4" stroke-width="0.42"/>
<circle cx="414.2" cy="64.6" r="0.6" fill="none" stroke="#a4a4a4" stroke-width="0.42"/>
<circle cx="392.7" cy="113.1" r="0.6" fill="none" stroke="#a4a4a4" stroke-width="0.42"/>
<circle cx="414.3" cy="84.0" r="0.6" fill="none" stroke="#a4a4a4" stroke-width="0.42"/>
<circle cx="395.7" cy="119.3" r="0.6" fill="none" stroke="#a4a4a4" stroke-width="0.42"/>
<circle cx="418.6" cy="102.1" r="0.6" fill="none" stroke="#a4a4a4" stroke-width="0.42"/>
<circle cx="400.4" cy="103.4" r="0.6" fill="none" stroke="#a4a4a4" stroke-width="0.42"/>
<circle cx="401.9" cy="119.0" r="0.6" fill="none" stroke="#a4a4a4" stroke-width="0.42"/>
<circle cx="401.9" cy="93.5" r="0.6" fill="none" stroke="#a4a4a4" stroke-width="0.42"/>
<circle cx="413.6" cy="78.7" r="0.6" fill="none" stroke="#a4a4a4" stroke-width="0.42"/>
<circle cx="414.1" cy="88.6" r="0.6" fill="none" stroke="#a4a4a4" stroke-width="0.42"/>
<circle cx="402.3" cy="116.5" r="0.6" fill="none" stroke="#a4a4a4" stroke-width="0.42"/>
<circle cx="414.3" cy="64.8" r="0.6" fill="none" stroke="#a4a4a4" stroke-width="0.42"/>
<circle cx="401.6" cy="96.0" r="0.6" fill="none" stroke="#a4a4a4" stroke-width="0.42"/>
<circle cx="402.0" cy="118.6" r="0.6" fill="none" stroke="#a4a4a4" stroke-width="0.42"/>
<circle cx="400.6" cy="112.9" r="0.6" fill="none" stroke="#a4a4a4" stroke-width="0.42"/>
<circle cx="411.6" cy="110.8" r="0.6" fill="none" stroke="#a4a4a4" stroke-width="0.42"/>
<circle cx="412.3" cy="81.3" r="0.6" fill="none" stroke="#a4a4a4" stroke-width="0.42"/>
<circle cx="416.2" cy="115.8" r="0.6" fill="none" stroke="#a4a4a4" stroke-width="0.42"/>
<circle cx="415.1" cy="108.5" r="0.6" fill="none" stroke="#a4a4a4" stroke-width="0.42"/>
<circle cx="398.6" cy="119.6" r="0.6" fill="none" stroke="#a4a4a4" stroke-width="0.42"/>
<circle cx="424.5" cy="120.6" r="0.6" fill="none" stroke="#a4a4a4" stroke-width="0.42"/>
<circle cx="414.7" cy="82.8" r="0.6" fill="none" stroke="#a4a4a4" stroke-width="0.42"/>
<circle cx="414.6" cy="118.3" r="0.6" fill="none" stroke="#a4a4a4" stroke-width="0.42"/>
<circle cx="413.8" cy="98.5" r="0.6" fill="none" stroke="#a4a4a4" stroke-width="0.42"/>
<circle cx="410.8" cy="108.7" r="0.6" fill="none" stroke="#a4a4a4" stroke-width="0.42"/>
<circle cx="401.5" cy="108.4" r="0.6" fill="none" stroke="#a4a4a4" stroke-width="0.42"/>
<circle cx="427.5" cy="119.0" r="0.6" fill="none" stroke="#a4a4a4" stroke-width="0.42"/>
<circle cx="409.6" cy="114.1" r="0.6" fill="none" stroke="#a4a4a4" stroke-width="0.42"/>
<circle cx="453.2" cy="112.0" r="0.6" fill="none" stroke="#a4a4a4" stroke-width="0.42"/>
<circle cx="408.3" cy="118.3" r="0.6" fill="none" stroke="#a4a4a4" stroke-width="0.42"/>
<circle cx="399.1" cy="120.1" r="0.6" fill="none" stroke="#a4a4a4" stroke-width="0.42"/>
<circle cx="390.5" cy="116.5" r="0.6" fill="none" stroke="#a4a4a4" stroke-width="0.42"/>
<circle cx="418.2" cy="97.2" r="0.6" fill="none" stroke="#a4a4a4" stroke-width="0.42"/>
<circle cx="404.4" cy="113.4" r="0.6" fill="none" stroke="#a4a4a4" stroke-width="0.42"/>
<circle cx="413.5" cy="100.4" r="0.6" fill="none" stroke="#a4a4a4" stroke-width="0.42"/>
<circle cx="415.6" cy="108.3" r="0.6" fill="none" stroke="#a4a4a4" stroke-width="0.42"/>
<circle cx="411.2" cy="105.3" r="0.6" fill="none" stroke="#a4a4a4" stroke-width="0.42"/>
<circle cx="413.9" cy="78.3" r="0.6" fill="none" stroke="#a4a4a4" stroke-width="0.42"/>
<circle cx="393.1" cy="120.2" r="0.6" fill="none" stroke="#a4a4a4" stroke-width="0.42"/>
<circle cx="401.0" cy="108.4" r="0.6" fill="none" stroke="#a4a4a4" stroke-width="0.42"/>
<circle cx="394.8" cy="105.7" r="0.6" fill="none" stroke="#a4a4a4" stroke-width="0.42"/>
<circle cx="412.8" cy="108.8" r="0.6" fill="none" stroke="#a4a4a4" stroke-width="0.42"/>
<circle cx="398.1" cy="74.1" r="0.6" fill="none" stroke="#a4a4a4" stroke-width="0.42"/>
<circle cx="404.4" cy="113.4" r="0.6" fill="none" stroke="#a4a4a4" stroke-width="0.42"/>
<circle cx="408.0" cy="116.7" r="0.6" fill="none" stroke="#a4a4a4" stroke-width="0.42"/>
<circle cx="422.8" cy="95.5" r="0.6" fill="none" stroke="#a4a4a4" stroke-width="0.42"/>
<circle cx="419.0" cy="105.5" r="0.6" fill="none" stroke="#a4a4a4" stroke-width="0.42"/>
<circle cx="397.2" cy="70.7" r="0.6" fill="none" stroke="#a4a4a4" stroke-width="0.42"/>
<circle cx="402.1" cy="103.7" r="0.6" fill="none" stroke="#a4a4a4" stroke-width="0.42"/>
<circle cx="398.4" cy="86.6" r="0.6" fill="none" stroke="#a4a4a4" stroke-width="0.42"/>
<circle cx="410.5" cy="119.5" r="0.6" fill="none" stroke="#a4a4a4" stroke-width="0.42"/>
<circle cx="413.3" cy="78.8" r="0.6" fill="none" stroke="#a4a4a4" stroke-width="0.42"/>
<circle cx="397.7" cy="87.5" r="0.6" fill="none" stroke="#a4a4a4" stroke-width="0.42"/>
<circle cx="431.7" cy="115.8" r="0.6" fill="none" stroke="#a4a4a4" stroke-width="0.42"/>
<circle cx="403.4" cy="107.6" r="0.6" fill="none" stroke="#a4a4a4" stroke-width="0.42"/>
<circle cx="421.4" cy="98.7" r="0.6" fill="none" stroke="#a4a4a4" stroke-width="0.42"/>
<circle cx="399.5" cy="85.3" r="0.6" fill="none" stroke="#a4a4a4" stroke-width="0.42"/>
<circle cx="397.6" cy="103.3" r="0.6" fill="none" stroke="#a4a4a4" stroke-width="0.42"/>
<circle cx="384.8" cy="101.9" r="0.6" fill="none" stroke="#a4a4a4" stroke-width="0.42"/>
<circle cx="413.0" cy="116.9" r="0.6" fill="none" stroke="#a4a4a4" stroke-width="0.42"/>
<circle cx="410.0" cy="111.4" r="0.6" fill="none" stroke="#a4a4a4" stroke-width="0.42"/>
<circle cx="417.3" cy="105.7" r="0.6" fill="none" stroke="#a4a4a4" stroke-width="0.42"/>
<circle cx="398.0" cy="90.6" r="0.6" fill="none" stroke="#a4a4a4" stroke-width="0.42"/>
<circle cx="397.7" cy="66.5" r="0.6" fill="none" stroke="#a4a4a4" stroke-width="0.42"/>
<circle cx="397.0" cy="113.4" r="0.6" fill="none" stroke="#a4a4a4" stroke-width="0.42"/>
<circle cx="396.2" cy="115.3" r="0.6" fill="none" stroke="#a4a4a4" stroke-width="0.42"/>
<circle cx="393.5" cy="119.7" r="0.6" fill="none" stroke="#a4a4a4" stroke-width="0.42"/>
<circle cx="414.7" cy="80.7" r="0.6" fill="none" stroke="#a4a4a4" stroke-width="0.42"/>
<circle cx="408.9" cy="111.5" r="0.6" fill="none" stroke="#a4a4a4" stroke-width="0.42"/>
<circle cx="421.3" cy="105.5" r="0.6" fill="none" stroke="#a4a4a4" stroke-width="0.42"/>
<circle cx="399.1" cy="89.0" r="0.6" fill="none" stroke="#a4a4a4" stroke-width="0.42"/>
<circle cx="412.2" cy="120.4" r="0.6" fill="none" stroke="#a4a4a4" stroke-width="0.42"/>
<circle cx="400.4" cy="116.7" r="0.6" fill="none" stroke="#a4a4a4" stroke-width="0.42"/>
<circle cx="400.9" cy="99.9" r="0.6" fill="none" stroke="#a4a4a4" stroke-width="0.42"/>
<circle cx="400.5" cy="116.5" r="0.6" fill="none" stroke="#a4a4a4" stroke-width="0.42"/>
<circle cx="429.9" cy="102.3" r="0.6" fill="none" stroke="#a4a4a4" stroke-width="0.42"/>
<circle cx="398.7" cy="112.2" r="0.6" fill="none" stroke="#a4a4a4" stroke-width="0.42"/>
<circle cx="391.5" cy="108.4" r="0.6" fill="none" stroke="#a4a4a4" stroke-width="0.42"/>
<circle cx="415.0" cy="92.9" r="0.6" fill="none" stroke="#a4a4a4" stroke-width="0.42"/>
<circle cx="414.3" cy="112.4" r="0.6" fill="none" stroke="#a4a4a4" stroke-width="0.42"/>
<circle cx="394.3" cy="97.1" r="0.6" fill="none" stroke="#a4a4a4" stroke-width="0.42"/>
<circle cx="414.3" cy="73.0" r="0.6" fill="none" stroke="#a4a4a4" stroke-width="0.42"/>
<circle cx="398.7" cy="100.6" r="0.6" fill="none" stroke="#a4a4a4" stroke-width="0.42"/>
<circle cx="399.3" cy="73.7" r="0.6" fill="none" stroke="#a4a4a4" stroke-width="0.42"/>
<circle cx="410.4" cy="95.7" r="0.6" fill="none" stroke="#a4a4a4" stroke-width="0.42"/>
<circle cx="397.7" cy="80.6" r="0.6" fill="none" stroke="#a4a4a4" stroke-width="0.42"/>
<circle cx="395.7" cy="97.5" r="0.6" fill="none" stroke="#a4a4a4" stroke-width="0.42"/>
<circle cx="393.2" cy="94.8" r="0.6" fill="none" stroke="#a4a4a4" stroke-width="0.42"/>
<circle cx="395.6" cy="106.8" r="0.6" fill="none" stroke="#a4a4a4" stroke-width="0.42"/>
<circle cx="381.8" cy="107.3" r="0.6" fill="none" stroke="#a4a4a4" stroke-width="0.42"/>
<circle cx="429.5" cy="95.8" r="0.6" fill="none" stroke="#a4a4a4" stroke-width="0.42"/>
<circle cx="420.3" cy="106.4" r="0.6" fill="none" stroke="#a4a4a4" stroke-width="0.42"/>
<circle cx="412.1" cy="78.6" r="0.6" fill="none" stroke="#a4a4a4" stroke-width="0.42"/>
<circle cx="398.2" cy="76.6" r="0.6" fill="none" stroke="#a4a4a4" stroke-width="0.42"/>
<circle cx="398.4" cy="83.0" r="0.6" fill="none" stroke="#a4a4a4" stroke-width="0.42"/>
<circle cx="410.0" cy="97.9" r="0.6" fill="none" stroke="#a4a4a4" stroke-width="0.42"/>
<circle cx="409.0" cy="109.8" r="0.6" fill="none" stroke="#a4a4a4" stroke-width="0.42"/>
<circle cx="416.3" cy="120.2" r="0.6" fill="none" stroke="#a4a4a4" stroke-width="0.42"/>
<circle cx="411.2" cy="83.1" r="0.6" fill="none" stroke="#a4a4a4" stroke-width="0.42"/>
<circle cx="398.6" cy="89.4" r="0.6" fill="none" stroke="#a4a4a4" stroke-width="0.42"/>
<circle cx="408.9" cy="119.6" r="0.6" fill="none" stroke="#a4a4a4" stroke-width="0.42"/>
<circle cx="400.5" cy="87.0" r="0.6" fill="none" stroke="#a4a4a4" stroke-width="0.42"/>
<circle cx="400.2" cy="108.5" r="0.6" fill="none" stroke="#a4a4a4" stroke-width="0.42"/>
<circle cx="398.5" cy="85.5" r="0.6" fill="none" stroke="#a4a4a4" stroke-width="0.42"/>
<circle cx="410.7" cy="111.7" r="0.6" fill="none" stroke="#a4a4a4" stroke-width="0.42"/>
<circle cx="394.0" cy="109.3" r="0.6" fill="none" stroke="#a4a4a4" stroke-width="0.42"/>
<circle cx="422.0" cy="99.2" r="0.6" fill="none" stroke="#a4a4a4" stroke-width="0.42"/>
<circle cx="411.5" cy="119.9" r="0.6" fill="none" stroke="#a4a4a4" stroke-width="0.42"/>
<circle cx="396.4" cy="104.4" r="0.6" fill="none" stroke="#a4a4a4" stroke-width="0.42"/>
<circle cx="420.1" cy="116.2" r="0.6" fill="none" stroke="#a4a4a4" stroke-width="0.42"/>
<circle cx="390.3" cy="120.6" r="0.6" fill="none" stroke="#a4a4a4" stroke-width="0.42"/>
<circle cx="402.9" cy="114.2" r="0.6" fill="none" stroke="#a4a4a4" stroke-width="0.42"/>
<circle cx="407.5" cy="115.3" r="0.6" fill="none" stroke="#a4a4a4" stroke-width="0.42"/>
<circle cx="413.4" cy="65.5" r="0.6" fill="none" stroke="#a4a4a4" stroke-width="0.42"/>
<circle cx="388.7" cy="106.2" r="0.6" fill="none" stroke="#a4a4a4" stroke-width="0.42"/>
<circle cx="396.9" cy="62.7" r="0.6" fill="none" stroke="#a4a4a4" stroke-width="0.42"/>
<circle cx="397.7" cy="73.2" r="0.6" fill="none" stroke="#a4a4a4" stroke-width="0.42"/>
<circle cx="422.2" cy="105.5" r="0.6" fill="none" stroke="#a4a4a4" stroke-width="0.42"/>
<circle cx="426.8" cy="108.5" r="0.6" fill="none" stroke="#a4a4a4" stroke-width="0.42"/>
<circle cx="407.2" cy="113.4" r="0.6" fill="none" stroke="#a4a4a4" stroke-width="0.42"/>
<circle cx="410.9" cy="113.0" r="0.6" fill="none" stroke="#a4a4a4" stroke-width="0.42"/>
<circle cx="417.6" cy="100.9" r="0.6" fill="none" stroke="#a4a4a4" stroke-width="0.42"/>
<circle cx="411.3" cy="90.4" r="0.6" fill="none" stroke="#a4a4a4" stroke-width="0.42"/>
<circle cx="417.2" cy="105.1" r="0.6" fill="none" stroke="#a4a4a4" stroke-width="0.42"/>
<circle cx="397.7" cy="98.5" r="0.6" fill="none" stroke="#a4a4a4" stroke-width="0.42"/>
<circle cx="400.2" cy="104.8" r="0.6" fill="none" stroke="#a4a4a4" stroke-width="0.42"/>
<circle cx="401.1" cy="90.2" r="0.6" fill="none" stroke="#a4a4a4" stroke-width="0.42"/>
<circle cx="398.4" cy="104.2" r="0.6" fill="none" stroke="#a4a4a4" stroke-width="0.42"/>
<circle cx="393.4" cy="100.5" r="0.6" fill="none" stroke="#a4a4a4" stroke-width="0.42"/>
<circle cx="387.3" cy="112.4" r="0.6" fill="none" stroke="#a4a4a4" stroke-width="0.42"/>
<circle cx="394.7" cy="107.3" r="0.6" fill="none" stroke="#a4a4a4" stroke-width="0.42"/>
<circle cx="416.0" cy="94.0" r="0.6" fill="none" stroke="#a4a4a4" stroke-width="0.42"/>
<circle cx="424.2" cy="111.5" r="0.6" fill="none" stroke="#a4a4a4" stroke-width="0.42"/>
<circle cx="377.6" cy="99.7" r="0.6" fill="none" stroke="#a4a4a4" stroke-width="0.42"/>
<circle cx="408.5" cy="110.8" r="0.6" fill="none" stroke="#a4a4a4" stroke-width="0.42"/>
<circle cx="397.4" cy="89.7" r="0.6" fill="none" stroke="#a4a4a4" stroke-width="0.42"/>
<circle cx="419.6" cy="99.9" r="0.6" fill="none" stroke="#a4a4a4" stroke-width="0.42"/>
<circle cx="386.0" cy="106.1" r="0.6" fill="none" stroke="#a4a4a4" stroke-width="0.42"/>
<circle cx="410.0" cy="119.1" r="0.6" fill="none" stroke="#a4a4a4" stroke-width="0.42"/>
<circle cx="401.6" cy="104.7" r="0.6" fill="none" stroke="#a4a4a4" stroke-width="0.42"/>
<circle cx="382.7" cy="116.9" r="0.6" fill="none" stroke="#a4a4a4" stroke-width="0.42"/>
<circle cx="415.1" cy="113.6" r="0.6" fill="none" stroke="#a4a4a4" stroke-width="0.42"/>
<circle cx="381.5" cy="100.8" r="0.6" fill="none" stroke="#a4a4a4" stroke-width="0.42"/>
<circle cx="397.8" cy="87.3" r="0.6" fill="none" stroke="#a4a4a4" stroke-width="0.42"/>
<circle cx="391.2" cy="101.2" r="0.6" fill="none" stroke="#a4a4a4" stroke-width="0.42"/>
<circle cx="415.5" cy="94.5" r="0.6" fill="none" stroke="#a4a4a4" stroke-width="0.42"/>
<circle cx="413.4" cy="79.1" r="0.6" fill="none" stroke="#a4a4a4" stroke-width="0.42"/>
<circle cx="395.6" cy="94.5" r="0.6" fill="none" stroke="#a4a4a4" stroke-width="0.42"/>
<circle cx="394.5" cy="100.7" r="0.6" fill="none" stroke="#a4a4a4" stroke-width="0.42"/>
<circle cx="423.0" cy="113.9" r="0.6" fill="none" stroke="#a4a4a4" stroke-width="0.42"/>
<circle cx="421.2" cy="117.6" r="0.6" fill="none" stroke="#a4a4a4" stroke-width="0.42"/>
<circle cx="389.7" cy="101.4" r="0.6" fill="none" stroke="#a4a4a4" stroke-width="0.42"/>
<circle cx="394.4" cy="100.3" r="0.6" fill="none" stroke="#a4a4a4" stroke-width="0.42"/>
<circle cx="414.5" cy="75.6" r="0.6" fill="none" stroke="#a4a4a4" stroke-width="0.42"/>
<circle cx="426.9" cy="102.4" r="0.6" fill="none" stroke="#a4a4a4" stroke-width="0.42"/>
<circle cx="393.3" cy="94.7" r="0.6" fill="none" stroke="#a4a4a4" stroke-width="0.42"/>
<circle cx="413.6" cy="75.8" r="0.6" fill="none" stroke="#a4a4a4" stroke-width="0.42"/>
<circle cx="383.0" cy="99.1" r="0.6" fill="none" stroke="#a4a4a4" stroke-width="0.42"/>
<circle cx="389.4" cy="101.7" r="0.6" fill="none" stroke="#a4a4a4" stroke-width="0.42"/>
<circle cx="397.4" cy="68.5" r="0.6" fill="none" stroke="#a4a4a4" stroke-width="0.42"/>
<circle cx="412.2" cy="80.7" r="0.6" fill="none" stroke="#a4a4a4" stroke-width="0.42"/>
<circle cx="402.2" cy="106.4" r="0.6" fill="none" stroke="#a4a4a4" stroke-width="0.42"/>
<circle cx="399.1" cy="84.9" r="0.6" fill="none" stroke="#a4a4a4" stroke-width="0.42"/>
<circle cx="422.5" cy="114.4" r="0.6" fill="none" stroke="#a4a4a4" stroke-width="0.42"/>
<circle cx="418.5" cy="114.0" r="0.6" fill="none" stroke="#a4a4a4" stroke-width="0.42"/>
<circle cx="389.9" cy="105.0" r="0.6" fill="none" stroke="#a4a4a4" stroke-width="0.42"/>
<circle cx="394.4" cy="98.1" r="0.6" fill="none" stroke="#a4a4a4" stroke-width="0.42"/>
<circle cx="441.2" cy="99.1" r="0.6" fill="none" stroke="#a4a4a4" stroke-width="0.42"/>
<circle cx="398.6" cy="107.0" r="0.6" fill="none" stroke="#a4a4a4" stroke-width="0.42"/>
<circle cx="399.2" cy="111.7" r="0.6" fill="none" stroke="#a4a4a4" stroke-width="0.42"/>
<circle cx="420.2" cy="103.8" r="0.6" fill="none" stroke="#a4a4a4" stroke-width="0.42"/>
<circle cx="409.2" cy="117.9" r="0.6" fill="none" stroke="#a4a4a4" stroke-width="0.42"/>
<circle cx="388.0" cy="98.8" r="0.6" fill="none" stroke="#a4a4a4" stroke-width="0.42"/>
<circle cx="398.6" cy="109.8" r="0.6" fill="none" stroke="#a4a4a4" stroke-width="0.42"/>
<circle cx="398.1" cy="78.6" r="0.6" fill="none" stroke="#a4a4a4" stroke-width="0.42"/>
<circle cx="420.7" cy="118.1" r="0.6" fill="none" stroke="#a4a4a4" stroke-width="0.42"/>
<circle cx="407.0" cy="116.8" r="0.6" fill="none" stroke="#a4a4a4" stroke-width="0.42"/>
<circle cx="411.2" cy="88.3" r="0.6" fill="none" stroke="#a4a4a4" stroke-width="0.42"/>
<circle cx="397.5" cy="87.8" r="0.6" fill="none" stroke="#a4a4a4" stroke-width="0.42"/>
<circle cx="408.3" cy="116.3" r="0.6" fill="none" stroke="#a4a4a4" stroke-width="0.42"/>
<circle cx="400.8" cy="116.5" r="0.6" fill="none" stroke="#a4a4a4" stroke-width="0.42"/>
<circle cx="397.0" cy="94.7" r="0.6" fill="none" stroke="#a4a4a4" stroke-width="0.42"/>
<circle cx="392.1" cy="98.8" r="0.6" fill="none" stroke="#a4a4a4" stroke-width="0.42"/>
<circle cx="386.2" cy="112.1" r="0.6" fill="none" stroke="#a4a4a4" stroke-width="0.42"/>
<circle cx="412.3" cy="86.2" r="0.6" fill="none" stroke="#a4a4a4" stroke-width="0.42"/>
<circle cx="401.4" cy="98.2" r="0.6" fill="none" stroke="#a4a4a4" stroke-width="0.42"/>
<circle cx="403.4" cy="108.2" r="0.6" fill="none" stroke="#a4a4a4" stroke-width="0.42"/>
<circle cx="391.5" cy="119.6" r="0.6" fill="none" stroke="#a4a4a4" stroke-width="0.42"/>
<circle cx="419.2" cy="112.2" r="0.6" fill="none" stroke="#a4a4a4" stroke-width="0.42"/>
<circle cx="416.8" cy="103.5" r="0.6" fill="none" stroke="#a4a4a4" stroke-width="0.42"/>
<circle cx="401.7" cy="99.5" r="0.6" fill="none" stroke="#a4a4a4" stroke-width="0.42"/>
<circle cx="397.2" cy="72.6" r="0.6" fill="none" stroke="#a4a4a4" stroke-width="0.42"/>
<circle cx="400.5" cy="99.6" r="0.6" fill="none" stroke="#a4a4a4" stroke-width="0.42"/>
<circle cx="408.7" cy="113.6" r="0.6" fill="none" stroke="#a4a4a4" stroke-width="0.42"/>
<circle cx="395.4" cy="111.6" r="0.6" fill="none" stroke="#a4a4a4" stroke-width="0.42"/>
<circle cx="401.8" cy="109.9" r="0.6" fill="none" stroke="#a4a4a4" stroke-width="0.42"/>
<circle cx="407.9" cy="108.3" r="0.6" fill="none" stroke="#a4a4a4" stroke-width="0.42"/>
<circle cx="414.9" cy="111.6" r="0.6" fill="none" stroke="#a4a4a4" stroke-width="0.42"/>
<circle cx="414.2" cy="83.9" r="0.6" fill="none" stroke="#a4a4a4" stroke-width="0.42"/>
<circle cx="396.3" cy="96.0" r="0.6" fill="none" stroke="#a4a4a4" stroke-width="0.42"/>
<circle cx="383.8" cy="110.6" r="0.6" fill="none" stroke="#a4a4a4" stroke-width="0.42"/>
<circle cx="412.0" cy="93.8" r="0.6" fill="none" stroke="#a4a4a4" stroke-width="0.42"/>
<circle cx="393.6" cy="103.0" r="0.6" fill="none" stroke="#a4a4a4" stroke-width="0.42"/>
<circle cx="418.3" cy="117.4" r="0.6" fill="none" stroke="#a4a4a4" stroke-width="0.42"/>
<circle cx="398.3" cy="95.7" r="0.6" fill="none" stroke="#a4a4a4" stroke-width="0.42"/>
<circle cx="413.7" cy="79.6" r="0.6" fill="none" stroke="#a4a4a4" stroke-width="0.42"/>
<circle cx="399.6" cy="111.0" r="0.6" fill="none" stroke="#a4a4a4" stroke-width="0.42"/>
<circle cx="418.5" cy="105.1" r="0.6" fill="none" stroke="#a4a4a4" stroke-width="0.42"/>
<circle cx="397.0" cy="86.7" r="0.6" fill="none" stroke="#a4a4a4" stroke-width="0.42"/>
<circle cx="426.4" cy="102.2" r="0.6" fill="none" stroke="#a4a4a4" stroke-width="0.42"/>
<circle cx="395.2" cy="101.3" r="0.6" fill="none" stroke="#a4a4a4" stroke-width="0.42"/>
<circle cx="386.0" cy="113.8" r="0.6" fill="none" stroke="#a4a4a4" stroke-width="0.42"/>
<circle cx="414.0" cy="113.8" r="0.6" fill="none" stroke="#a4a4a4" stroke-width="0.42"/>
<circle cx="414.6" cy="64.2" r="0.6" fill="none" stroke="#a4a4a4" stroke-width="0.42"/>
<circle cx="413.7" cy="75.1" r="0.6" fill="none" stroke="#a4a4a4" stroke-width="0.42"/>
<circle cx="414.7" cy="85.3" r="0.6" fill="none" stroke="#a4a4a4" stroke-width="0.42"/>
<circle cx="414.7" cy="71.0" r="0.6" fill="none" stroke="#a4a4a4" stroke-width="0.42"/>
<circle cx="399.5" cy="106.1" r="0.6" fill="none" stroke="#a4a4a4" stroke-width="0.42"/>
<circle cx="414.1" cy="85.8" r="0.6" fill="none" stroke="#a4a4a4" stroke-width="0.42"/>
<circle cx="416.3" cy="102.9" r="0.6" fill="none" stroke="#a4a4a4" stroke-width="0.42"/>
<circle cx="410.6" cy="99.7" r="0.6" fill="none" stroke="#a4a4a4" stroke-width="0.42"/>
<circle cx="412.1" cy="115.8" r="0.6" fill="none" stroke="#a4a4a4" stroke-width="0.42"/>
<circle cx="414.1" cy="112.4" r="0.6" fill="none" stroke="#a4a4a4" stroke-width="0.42"/>
<circle cx="415.0" cy="116.0" r="0.6" fill="none" stroke="#a4a4a4" stroke-width="0.42"/>
<circle cx="412.5" cy="90.2" r="0.6" fill="none" stroke="#a4a4a4" stroke-width="0.42"/>
<circle cx="416.0" cy="99.0" r="0.6" fill="none" stroke="#a4a4a4" stroke-width="0.42"/>
<circle cx="401.3" cy="94.4" r="0.6" fill="none" stroke="#a4a4a4" stroke-width="0.42"/>
<circle cx="414.0" cy="79.3" r="0.6" fill="none" stroke="#a4a4a4" stroke-width="0.42"/>
<circle cx="415.1" cy="99.7" r="0.6" fill="none" stroke="#a4a4a4" stroke-width="0.42"/>
<circle cx="411.6" cy="83.2" r="0.6" fill="none" stroke="#a4a4a4" stroke-width="0.42"/>
<circle cx="398.0" cy="120.5" r="0.6" fill="none" stroke="#a4a4a4" stroke-width="0.42"/>
<circle cx="398.4" cy="119.6" r="0.6" fill="none" stroke="#a4a4a4" stroke-width="0.42"/>
<circle cx="401.3" cy="107.4" r="0.6" fill="none" stroke="#a4a4a4" stroke-width="0.42"/>
<circle cx="389.2" cy="97.5" r="0.6" fill="none" stroke="#a4a4a4" stroke-width="0.42"/>
<circle cx="401.7" cy="101.9" r="0.6" fill="none" stroke="#a4a4a4" stroke-width="0.42"/>
<circle cx="410.1" cy="113.8" r="0.6" fill="none" stroke="#a4a4a4" stroke-width="0.42"/>
<circle cx="396.6" cy="106.1" r="0.6" fill="none" stroke="#a4a4a4" stroke-width="0.42"/>
<circle cx="398.3" cy="85.9" r="0.6" fill="none" stroke="#a4a4a4" stroke-width="0.42"/>
<circle cx="411.9" cy="95.7" r="0.6" fill="none" stroke="#a4a4a4" stroke-width="0.42"/>
<circle cx="408.8" cy="107.5" r="0.6" fill="none" stroke="#a4a4a4" stroke-width="0.42"/>
<circle cx="417.8" cy="106.1" r="0.6" fill="none" stroke="#a4a4a4" stroke-width="0.42"/>
<circle cx="399.9" cy="97.3" r="0.6" fill="none" stroke="#a4a4a4" stroke-width="0.42"/>
<circle cx="401.9" cy="109.3" r="0.6" fill="none" stroke="#a4a4a4" stroke-width="0.42"/>
<circle cx="402.9" cy="104.7" r="0.6" fill="none" stroke="#a4a4a4" stroke-width="0.42"/>
<circle cx="393.1" cy="114.3" r="0.6" fill="none" stroke="#a4a4a4" stroke-width="0.42"/>
<circle cx="400.6" cy="120.2" r="0.6" fill="none" stroke="#a4a4a4" stroke-width="0.42"/>
<circle cx="420.5" cy="111.1" r="0.6" fill="none" stroke="#a4a4a4" stroke-width="0.42"/>
<circle cx="400.6" cy="119.0" r="0.6" fill="none" stroke="#a4a4a4" stroke-width="0.42"/>
<circle cx="387.3" cy="119.8" r="0.6" fill="none" stroke="#a4a4a4" stroke-width="0.42"/>
<circle cx="404.1" cy="112.3" r="0.6" fill="none" stroke="#a4a4a4" stroke-width="0.42"/>
<circle cx="398.4" cy="74.1" r="0.6" fill="none" stroke="#a4a4a4" stroke-width="0.42"/>
<circle cx="397.0" cy="119.6" r="0.6" fill="none" stroke="#a4a4a4" stroke-width="0.42"/>
<circle cx="399.2" cy="96.7" r="0.6" fill="none" stroke="#a4a4a4" stroke-width="0.42"/>
<circle cx="411.7" cy="105.3" r="0.6" fill="none" stroke="#a4a4a4" stroke-width="0.42"/>
<circle cx="396.8" cy="118.1" r="0.6" fill="none" stroke="#a4a4a4" stroke-width="0.42"/>
<circle cx="391.0" cy="94.8" r="0.6" fill="none" stroke="#a4a4a4" stroke-width="0.42"/>
<circle cx="397.0" cy="93.5" r="0.6" fill="none" stroke="#a4a4a4" stroke-width="0.42"/>
<circle cx="416.4" cy="97.7" r="0.6" fill="none" stroke="#a4a4a4" stroke-width="0.42"/>
<circle cx="397.4" cy="100.9" r="0.6" fill="none" stroke="#a4a4a4" stroke-width="0.42"/>
<circle cx="425.7" cy="100.6" r="0.6" fill="none" stroke="#a4a4a4" stroke-width="0.42"/>
<circle cx="401.8" cy="116.0" r="0.6" fill="none" stroke="#a4a4a4" stroke-width="0.42"/>
<circle cx="430.9" cy="100.1" r="0.6" fill="none" stroke="#a4a4a4" stroke-width="0.42"/>
<circle cx="391.0" cy="114.2" r="0.6" fill="none" stroke="#a4a4a4" stroke-width="0.42"/>
<circle cx="398.8" cy="85.6" r="0.6" fill="none" stroke="#a4a4a4" stroke-width="0.42"/>
<circle cx="413.7" cy="65.3" r="0.6" fill="none" stroke="#a4a4a4" stroke-width="0.42"/>
<circle cx="414.6" cy="69.2" r="0.6" fill="none" stroke="#a4a4a4" stroke-width="0.42"/>
<circle cx="413.0" cy="113.5" r="0.6" fill="none" stroke="#a4a4a4" stroke-width="0.42"/>
<circle cx="412.0" cy="94.1" r="0.6" fill="none" stroke="#a4a4a4" stroke-width="0.42"/>
<circle cx="412.8" cy="106.2" r="0.6" fill="none" stroke="#a4a4a4" stroke-width="0.42"/>
<circle cx="393.2" cy="97.3" r="0.6" fill="none" stroke="#a4a4a4" stroke-width="0.42"/>
<circle cx="427.1" cy="95.2" r="0.6" fill="none" stroke="#a4a4a4" stroke-width="0.42"/>
<circle cx="408.3" cy="111.3" r="0.6" fill="none" stroke="#a4a4a4" stroke-width="0.42"/>
<circle cx="410.6" cy="102.9" r="0.6" fill="none" stroke="#a4a4a4" stroke-width="0.42"/>
<circle cx="387.0" cy="106.1" r="0.6" fill="none" stroke="#a4a4a4" stroke-width="0.42"/>
<circle cx="393.0" cy="112.4" r="0.6" fill="none" stroke="#a4a4a4" stroke-width="0.42"/>
<circle cx="414.7" cy="75.6" r="0.6" fill="none" stroke="#a4a4a4" stroke-width="0.42"/>
<circle cx="397.1" cy="104.9" r="0.6" fill="none" stroke="#a4a4a4" stroke-width="0.42"/>
<circle cx="390.7" cy="119.0" r="0.6" fill="none" stroke="#a4a4a4" stroke-width="0.42"/>
<circle cx="418.8" cy="112.5" r="0.6" fill="none" stroke="#a4a4a4" stroke-width="0.42"/>
<circle cx="414.4" cy="65.4" r="0.6" fill="none" stroke="#a4a4a4" stroke-width="0.42"/>
<circle cx="400.4" cy="89.7" r="0.6" fill="none" stroke="#a4a4a4" stroke-width="0.42"/>
<circle cx="395.9" cy="109.6" r="0.6" fill="none" stroke="#a4a4a4" stroke-width="0.42"/>
<circle cx="402.3" cy="106.9" r="0.6" fill="none" stroke="#a4a4a4" stroke-width="0.42"/>
<circle cx="395.4" cy="118.3" r="0.6" fill="none" stroke="#a4a4a4" stroke-width="0.42"/>
<circle cx="416.8" cy="111.3" r="0.6" fill="none" stroke="#a4a4a4" stroke-width="0.42"/>
<circle cx="418.1" cy="113.6" r="0.6" fill="none" stroke="#a4a4a4" stroke-width="0.42"/>
<circle cx="409.3" cy="99.3" r="0.6" fill="none" stroke="#a4a4a4" stroke-width="0.42"/>
<circle cx="398.0" cy="108.9" r="0.6" fill="none" stroke="#a4a4a4" stroke-width="0.42"/>
<circle cx="387.6" cy="113.4" r="0.6" fill="none" stroke="#a4a4a4" stroke-width="0.42"/>
<circle cx="392.2" cy="96.9" r="0.6" fill="none" stroke="#a4a4a4" stroke-width="0.42"/>
<circle cx="404.8" cy="116.2" r="0.6" fill="none" stroke="#a4a4a4" stroke-width="0.42"/>
<circle cx="400.6" cy="98.2" r="0.6" fill="none" stroke="#a4a4a4" stroke-width="0.42"/>
<circle cx="400.2" cy="104.1" r="0.6" fill="none" stroke="#a4a4a4" stroke-width="0.42"/>
<circle cx="398.6" cy="109.4" r="0.6" fill="none" stroke="#a4a4a4" stroke-width="0.42"/>
<circle cx="414.4" cy="80.8" r="0.6" fill="none" stroke="#a4a4a4" stroke-width="0.42"/>
<circle cx="414.6" cy="80.0" r="0.6" fill="none" stroke="#a4a4a4" stroke-width="0.42"/>
<circle cx="395.1" cy="104.3" r="0.6" fill="none" stroke="#a4a4a4" stroke-width="0.42"/>
<circle cx="410.2" cy="107.4" r="0.6" fill="none" stroke="#a4a4a4" stroke-width="0.42"/>
<circle cx="397.2" cy="113.3" r="0.6" fill="none" stroke="#a4a4a4" stroke-width="0.42"/>
<circle cx="400.8" cy="117.4" r="0.6" fill="none" stroke="#a4a4a4" stroke-width="0.42"/>
<circle cx="417.1" cy="104.3" r="0.6" fill="none" stroke="#a4a4a4" stroke-width="0.42"/>
<circle cx="422.0" cy="102.8" r="0.6" fill="none" stroke="#a4a4a4" stroke-width="0.42"/>
<circle cx="414.8" cy="90.9" r="0.6" fill="none" stroke="#a4a4a4" stroke-width="0.42"/>
<circle cx="401.6" cy="93.5" r="0.6" fill="none" stroke="#a4a4a4" stroke-width="0.42"/>
<circle cx="397.1" cy="71.7" r="0.6" fill="none" stroke="#a4a4a4" stroke-width="0.42"/>
<circle cx="414.0" cy="87.2" r="0.6" fill="none" stroke="#a4a4a4" stroke-width="0.42"/>
<circle cx="408.1" cy="116.9" r="0.6" fill="none" stroke="#a4a4a4" stroke-width="0.42"/>
<circle cx="395.0" cy="105.3" r="0.6" fill="none" stroke="#a4a4a4" stroke-width="0.42"/>
<circle cx="390.6" cy="105.9" r="0.6" fill="none" stroke="#a4a4a4" stroke-width="0.42"/>
<circle cx="410.7" cy="89.1" r="0.6" fill="none" stroke="#a4a4a4" stroke-width="0.42"/>
<circle cx="397.8" cy="72.1" r="0.6" fill="none" stroke="#a4a4a4" stroke-width="0.42"/>
<circle cx="413.4" cy="93.8" r="0.6" fill="none" stroke="#a4a4a4" stroke-width="0.42"/>
<circle cx="396.9" cy="107.1" r="0.6" fill="none" stroke="#a4a4a4" stroke-width="0.42"/>
<circle cx="414.8" cy="62.9" r="0.6" fill="none" stroke="#a4a4a4" stroke-width="0.42"/>
<circle cx="412.5" cy="109.5" r="0.6" fill="none" stroke="#a4a4a4" stroke-width="0.42"/>
<circle cx="400.7" cy="92.5" r="0.6" fill="none" stroke="#a4a4a4" stroke-width="0.42"/>
<circle cx="412.9" cy="90.3" r="0.6" fill="none" stroke="#a4a4a4" stroke-width="0.42"/>
<circle cx="413.9" cy="71.0" r="0.6" fill="none" stroke="#a4a4a4" stroke-width="0.42"/>
<circle cx="413.6" cy="96.7" r="0.6" fill="none" stroke="#a4a4a4" stroke-width="0.42"/>
<circle cx="421.5" cy="114.0" r="0.6" fill="none" stroke="#a4a4a4" stroke-width="0.42"/>
<circle cx="393.1" cy="101.4" r="0.6" fill="none" stroke="#a4a4a4" stroke-width="0.42"/>
<circle cx="402.9" cy="104.1" r="0.6" fill="none" stroke="#a4a4a4" stroke-width="0.42"/>
<circle cx="408.2" cy="116.9" r="0.6" fill="none" stroke="#a4a4a4" stroke-width="0.42"/>
<circle cx="410.0" cy="97.7" r="0.6" fill="none" stroke="#a4a4a4" stroke-width="0.42"/>
<circle cx="401.8" cy="94.0" r="0.6" fill="none" stroke="#a4a4a4" stroke-width="0.42"/>
<circle cx="407.0" cy="120.5" r="0.6" fill="none" stroke="#a4a4a4" stroke-width="0.42"/>
<circle cx="412.9" cy="77.7" r="0.6" fill="none" stroke="#a4a4a4" stroke-width="0.42"/>
<circle cx="409.8" cy="109.0" r="0.6" fill="none" stroke="#a4a4a4" stroke-width="0.42"/>
<circle cx="413.6" cy="106.0" r="0.6" fill="none" stroke="#a4a4a4" stroke-width="0.42"/>
<circle cx="418.0" cy="116.5" r="0.6" fill="none" stroke="#a4a4a4" stroke-width="0.42"/>
<circle cx="417.3" cy="106.9" r="0.6" fill="none" stroke="#a4a4a4" stroke-width="0.42"/>
<circle cx="413.2" cy="108.7" r="0.6" fill="none" stroke="#a4a4a4" stroke-width="0.42"/>
<circle cx="397.3" cy="63.7" r="0.6" fill="none" stroke="#a4a4a4" stroke-width="0.42"/>
<circle cx="412.1" cy="103.3" r="0.6" fill="none" stroke="#a4a4a4" stroke-width="0.42"/>
<circle cx="397.3" cy="110.4" r="0.6" fill="none" stroke="#a4a4a4" stroke-width="0.42"/>
<circle cx="422.0" cy="114.5" r="0.6" fill="none" stroke="#a4a4a4" stroke-width="0.42"/>
<circle cx="405.5" cy="119.7" r="0.6" fill="none" stroke="#a4a4a4" stroke-width="0.42"/>
<circle cx="414.9" cy="105.5" r="0.6" fill="none" stroke="#a4a4a4" stroke-width="0.42"/>
<circle cx="421.8" cy="100.1" r="0.6" fill="none" stroke="#a4a4a4" stroke-width="0.42"/>
<circle cx="418.3" cy="120.9" r="0.6" fill="none" stroke="#a4a4a4" stroke-width="0.42"/>
<circle cx="399.6" cy="83.7" r="0.6" fill="none" stroke="#a4a4a4" stroke-width="0.42"/>
<circle cx="402.7" cy="106.9" r="0.6" fill="none" stroke="#a4a4a4" stroke-width="0.42"/>
<circle cx="420.4" cy="117.5" r="0.6" fill="none" stroke="#a4a4a4" stroke-width="0.42"/>
<circle cx="403.5" cy="109.8" r="0.6" fill="none" stroke="#a4a4a4" stroke-width="0.42"/>
<circle cx="418.5" cy="108.0" r="0.6" fill="none" stroke="#a4a4a4" stroke-width="0.42"/>
<circle cx="420.7" cy="118.1" r="0.6" fill="none" stroke="#a4a4a4" stroke-width="0.42"/>
<circle cx="411.3" cy="99.4" r="0.6" fill="none" stroke="#a4a4a4" stroke-width="0.42"/>
<circle cx="408.7" cy="113.4" r="0.6" fill="none" stroke="#a4a4a4" stroke-width="0.42"/>
<circle cx="411.9" cy="120.5" r="0.6" fill="none" stroke="#a4a4a4" stroke-width="0.42"/>
<circle cx="414.2" cy="82.5" r="0.6" fill="none" stroke="#a4a4a4" stroke-width="0.42"/>
<circle cx="414.9" cy="113.1" r="0.6" fill="none" stroke="#a4a4a4" stroke-width="0.42"/>
<circle cx="397.9" cy="117.4" r="0.6" fill="none" stroke="#a4a4a4" stroke-width="0.42"/>
<circle cx="417.7" cy="114.8" r="0.6" fill="none" stroke="#a4a4a4" stroke-width="0.42"/>
<circle cx="424.1" cy="99.3" r="0.6" fill="none" stroke="#a4a4a4" stroke-width="0.42"/>
<circle cx="397.8" cy="87.2" r="0.6" fill="none" stroke="#a4a4a4" stroke-width="0.42"/>
<circle cx="429.7" cy="105.9" r="0.6" fill="none" stroke="#a4a4a4" stroke-width="0.42"/>
<circle cx="420.0" cy="104.5" r="0.6" fill="none" stroke="#a4a4a4" stroke-width="0.42"/>
<circle cx="400.7" cy="119.7" r="0.6" fill="none" stroke="#a4a4a4" stroke-width="0.42"/>
<circle cx="400.9" cy="92.6" r="0.6" fill="none" stroke="#a4a4a4" stroke-width="0.42"/>
<circle cx="403.0" cy="113.4" r="0.6" fill="none" stroke="#a4a4a4" stroke-width="0.42"/>
<circle cx="398.0" cy="94.6" r="0.6" fill="none" stroke="#a4a4a4" stroke-width="0.42"/>
<circle cx="412.3" cy="86.1" r="0.6" fill="none" stroke="#a4a4a4" stroke-width="0.42"/>
<circle cx="401.9" cy="112.2" r="0.6" fill="none" stroke="#a4a4a4" stroke-width="0.42"/>
<circle cx="411.2" cy="93.2" r="0.6" fill="none" stroke="#a4a4a4" stroke-width="0.42"/>
<circle cx="408.4" cy="110.4" r="0.6" fill="none" stroke="#a4a4a4" stroke-width="0.42"/>
<circle cx="404.0" cy="116.6" r="0.6" fill="none" stroke="#a4a4a4" stroke-width="0.42"/>
<circle cx="397.4" cy="74.3" r="0.6" fill="none" stroke="#a4a4a4" stroke-width="0.42"/>
<circle cx="413.1" cy="83.5" r="0.6" fill="none" stroke="#a4a4a4" stroke-width="0.42"/>
<circle cx="397.4" cy="117.4" r="0.6" fill="none" stroke="#a4a4a4" stroke-width="0.42"/>
<circle cx="417.4" cy="112.2" r="0.6" fill="none" stroke="#a4a4a4" stroke-width="0.42"/>
<circle cx="394.8" cy="114.1" r="0.6" fill="none" stroke="#a4a4a4" stroke-width="0.42"/>
<circle cx="397.6" cy="79.8" r="0.6" fill="none" stroke="#a4a4a4" stroke-width="0.42"/>
<circle cx="398.9" cy="87.0" r="0.6" fill="none" stroke="#a4a4a4" stroke-width="0.42"/>
<circle cx="407.3" cy="113.7" r="0.6" fill="none" stroke="#a4a4a4" stroke-width="0.42"/>
<circle cx="395.3" cy="111.0" r="0.6" fill="none" stroke="#a4a4a4" stroke-width="0.42"/>
<circle cx="398.8" cy="82.1" r="0.6" fill="none" stroke="#a4a4a4" stroke-width="0.42"/>
<circle cx="397.8" cy="100.7" r="0.6" fill="none" stroke="#a4a4a4" stroke-width="0.42"/>
<circle cx="425.2" cy="116.1" r="0.6" fill="none" stroke="#a4a4a4" stroke-width="0.42"/>
<circle cx="412.0" cy="96.1" r="0.6" fill="none" stroke="#a4a4a4" stroke-width="0.42"/>
<circle cx="395.9" cy="98.6" r="0.6" fill="none" stroke="#a4a4a4" stroke-width="0.42"/>
<circle cx="422.0" cy="99.5" r="0.6" fill="none" stroke="#a4a4a4" stroke-width="0.42"/>
<circle cx="413.8" cy="64.3" r="0.6" fill="none" stroke="#a4a4a4" stroke-width="0.42"/>
<circle cx="412.0" cy="106.1" r="0.6" fill="none" stroke="#a4a4a4" stroke-width="0.42"/>
<circle cx="397.1" cy="94.1" r="0.6" fill="none" stroke="#a4a4a4" stroke-width="0.42"/>
<circle cx="411.2" cy="94.1" r="0.6" fill="none" stroke="#a4a4a4" stroke-width="0.42"/>
<circle cx="400.2" cy="93.8" r="0.6" fill="none" stroke="#a4a4a4" stroke-width="0.42"/>
<circle cx="417.4" cy="97.3" r="0.6" fill="none" stroke="#a4a4a4" stroke-width="0.42"/>
<circle cx="397.9" cy="73.2" r="0.6" fill="none" stroke="#a4a4a4" stroke-width="0.42"/>
<circle cx="398.4" cy="100.7" r="0.6" fill="none" stroke="#a4a4a4" stroke-width="0.42"/>
<circle cx="395.9" cy="120.0" r="0.6" fill="none" stroke="#a4a4a4" stroke-width="0.42"/>
<circle cx="414.7" cy="108.3" r="0.6" fill="none" stroke="#a4a4a4" stroke-width="0.42"/>
<circle cx="392.3" cy="119.4" r="0.6" fill="none" stroke="#a4a4a4" stroke-width="0.42"/>
<circle cx="396.8" cy="68.4" r="0.6" fill="none" stroke="#a4a4a4" stroke-width="0.42"/>
<circle cx="414.6" cy="103.2" r="0.6" fill="none" stroke="#a4a4a4" stroke-width="0.42"/>
<circle cx="402.0" cy="116.1" r="0.6" fill="none" stroke="#a4a4a4" stroke-width="0.42"/>
<circle cx="407.0" cy="117.2" r="0.6" fill="none" stroke="#a4a4a4" stroke-width="0.42"/>
<circle cx="400.1" cy="91.5" r="0.6" fill="none" stroke="#a4a4a4" stroke-width="0.42"/>
<circle cx="413.8" cy="85.6" r="0.6" fill="none" stroke="#a4a4a4" stroke-width="0.42"/>
<circle cx="407.3" cy="117.9" r="0.6" fill="none" stroke="#a4a4a4" stroke-width="0.42"/>
<circle cx="400.0" cy="110.8" r="0.6" fill="none" stroke="#a4a4a4" stroke-width="0.42"/>
<circle cx="404.3" cy="117.2" r="0.6" fill="none" stroke="#a4a4a4" stroke-width="0.42"/>
<circle cx="417.9" cy="97.1" r="0.6" fill="none" stroke="#a4a4a4" stroke-width="0.42"/>
<circle cx="410.2" cy="106.5" r="0.6" fill="none" stroke="#a4a4a4" stroke-width="0.42"/>
<circle cx="410.5" cy="111.3" r="0.6" fill="none" stroke="#a4a4a4" stroke-width="0.42"/>
<circle cx="401.2" cy="113.6" r="0.6" fill="none" stroke="#a4a4a4" stroke-width="0.42"/>
<circle cx="392.5" cy="103.0" r="0.6" fill="none" stroke="#a4a4a4" stroke-width="0.42"/>
<circle cx="413.2" cy="83.8" r="0.6" fill="none" stroke="#a4a4a4" stroke-width="0.42"/>
<circle cx="413.3" cy="93.0" r="0.6" fill="none" stroke="#a4a4a4" stroke-width="0.42"/>
<circle cx="399.4" cy="85.4" r="0.6" fill="none" stroke="#a4a4a4" stroke-width="0.42"/>
<circle cx="402.4" cy="111.7" r="0.6" fill="none" stroke="#a4a4a4" stroke-width="0.42"/>
<circle cx="386.2" cy="94.6" r="0.6" fill="none" stroke="#a4a4a4" stroke-width="0.42"/>
<circle cx="413.5" cy="82.5" r="0.6" fill="none" stroke="#a4a4a4" stroke-width="0.42"/>
<circle cx="424.1" cy="107.0" r="0.6" fill="none" stroke="#a4a4a4" stroke-width="0.42"/>
<circle cx="394.5" cy="120.3" r="0.6" fill="none" stroke="#a4a4a4" stroke-width="0.42"/>
<circle cx="415.1" cy="103.1" r="0.6" fill="none" stroke="#a4a4a4" stroke-width="0.42"/>
<circle cx="383.9" cy="120.5" r="0.6" fill="none" stroke="#a4a4a4" stroke-width="0.42"/>
<circle cx="384.6" cy="117.8" r="0.6" fill="none" stroke="#a4a4a4" stroke-width="0.42"/>
<circle cx="389.0" cy="113.2" r="0.6" fill="none" stroke="#a4a4a4" stroke-width="0.42"/>
<circle cx="392.7" cy="112.8" r="0.6" fill="none" stroke="#a4a4a4" stroke-width="0.42"/>
<circle cx="390.9" cy="100.5" r="0.6" fill="none" stroke="#a4a4a4" stroke-width="0.42"/>
<circle cx="388.2" cy="108.5" r="0.6" fill="none" stroke="#a4a4a4" stroke-width="0.42"/>
<circle cx="410.8" cy="111.0" r="0.6" fill="none" stroke="#a4a4a4" stroke-width="0.42"/>
<circle cx="413.3" cy="106.6" r="0.6" fill="none" stroke="#a4a4a4" stroke-width="0.42"/>
<circle cx="394.5" cy="99.7" r="0.6" fill="none" stroke="#a4a4a4" stroke-width="0.42"/>
<circle cx="411.2" cy="85.9" r="0.6" fill="none" stroke="#a4a4a4" stroke-width="0.42"/>
<circle cx="403.0" cy="118.6" r="0.6" fill="none" stroke="#a4a4a4" stroke-width="0.42"/>
<circle cx="407.8" cy="109.3" r="0.6" fill="none" stroke="#a4a4a4" stroke-width="0.42"/>
<circle cx="401.9" cy="113.3" r="0.6" fill="none" stroke="#a4a4a4" stroke-width="0.42"/>
<circle cx="408.6" cy="110.4" r="0.6" fill="none" stroke="#a4a4a4" stroke-width="0.42"/>
<circle cx="398.3" cy="66.7" r="0.6" fill="none" stroke="#a4a4a4" stroke-width="0.42"/>
<circle cx="412.2" cy="112.2" r="0.6" fill="none" stroke="#a4a4a4" stroke-width="0.42"/>
<circle cx="412.2" cy="85.1" r="0.6" fill="none" stroke="#a4a4a4" stroke-width="0.42"/>
<circle cx="402.5" cy="99.7" r="0.6" fill="none" stroke="#a4a4a4" stroke-width="0.42"/>
<circle cx="380.9" cy="119.3" r="0.6" fill="none" stroke="#a4a4a4" stroke-width="0.42"/>
<circle cx="399.3" cy="102.4" r="0.6" fill="none" stroke="#a4a4a4" stroke-width="0.42"/>
<circle cx="392.9" cy="114.6" r="0.6" fill="none" stroke="#a4a4a4" stroke-width="0.42"/>
<circle cx="412.3" cy="88.3" r="0.6" fill="none" stroke="#a4a4a4" stroke-width="0.42"/>
<circle cx="414.4" cy="115.4" r="0.6" fill="none" stroke="#a4a4a4" stroke-width="0.42"/>
<circle cx="410.4" cy="119.2" r="0.6" fill="none" stroke="#a4a4a4" stroke-width="0.42"/>
<circle cx="398.4" cy="76.1" r="0.6" fill="none" stroke="#a4a4a4" stroke-width="0.42"/>
<circle cx="398.3" cy="80.9" r="0.6" fill="none" stroke="#a4a4a4" stroke-width="0.42"/>
<circle cx="416.1" cy="115.4" r="0.6" fill="none" stroke="#a4a4a4" stroke-width="0.42"/>
<circle cx="394.5" cy="97.0" r="0.6" fill="none" stroke="#a4a4a4" stroke-width="0.42"/>
<circle cx="414.6" cy="94.2" r="0.6" fill="none" stroke="#a4a4a4" stroke-width="0.42"/>
<circle cx="395.0" cy="96.0" r="0.6" fill="none" stroke="#a4a4a4" stroke-width="0.42"/>
<circle cx="415.5" cy="96.8" r="0.6" fill="none" stroke="#a4a4a4" stroke-width="0.42"/>
<circle cx="391.8" cy="118.2" r="0.6" fill="none" stroke="#a4a4a4" stroke-width="0.42"/>
<circle cx="398.5" cy="82.6" r="0.6" fill="none" stroke="#a4a4a4" stroke-width="0.42"/>
<circle cx="396.5" cy="98.4" r="0.6" fill="none" stroke="#a4a4a4" stroke-width="0.42"/>
<circle cx="413.8" cy="85.7" r="0.6" fill="none" stroke="#a4a4a4" stroke-width="0.42"/>
<circle cx="418.0" cy="112.2" r="0.6" fill="none" stroke="#a4a4a4" stroke-width="0.42"/>
<circle cx="413.9" cy="62.6" r="0.6" fill="none" stroke="#a4a4a4" stroke-width="0.42"/>
<circle cx="425.5" cy="105.4" r="0.6" fill="none" stroke="#a4a4a4" stroke-width="0.42"/>
<circle cx="403.4" cy="117.7" r="0.6" fill="none" stroke="#a4a4a4" stroke-width="0.42"/>
<circle cx="387.0" cy="95.1" r="0.6" fill="none" stroke="#a4a4a4" stroke-width="0.42"/>
<circle cx="394.2" cy="119.2" r="0.6" fill="none" stroke="#a4a4a4" stroke-width="0.42"/>
<circle cx="395.0" cy="111.6" r="0.6" fill="none" stroke="#a4a4a4" stroke-width="0.42"/>
<circle cx="396.9" cy="65.0" r="0.6" fill="none" stroke="#a4a4a4" stroke-width="0.42"/>
<circle cx="419.6" cy="111.3" r="0.6" fill="none" stroke="#a4a4a4" stroke-width="0.42"/>
<circle cx="399.6" cy="114.4" r="0.6" fill="none" stroke="#a4a4a4" stroke-width="0.42"/>
<circle cx="392.8" cy="106.7" r="0.6" fill="none" stroke="#a4a4a4" stroke-width="0.42"/>
<circle cx="404.3" cy="115.2" r="0.6" fill="none" stroke="#a4a4a4" stroke-width="0.42"/>
<circle cx="419.8" cy="102.3" r="0.6" fill="none" stroke="#a4a4a4" stroke-width="0.42"/>
<circle cx="410.3" cy="90.5" r="0.6" fill="none" stroke="#a4a4a4" stroke-width="0.42"/>
<circle cx="408.7" cy="105.6" r="0.6" fill="none" stroke="#a4a4a4" stroke-width="0.42"/>
<circle cx="401.2" cy="98.6" r="0.6" fill="none" stroke="#a4a4a4" stroke-width="0.42"/>
<circle cx="404.1" cy="118.6" r="0.6" fill="none" stroke="#a4a4a4" stroke-width="0.42"/>
<circle cx="393.7" cy="99.2" r="0.6" fill="none" stroke="#a4a4a4" stroke-width="0.42"/>
<circle cx="402.0" cy="116.0" r="0.6" fill="none" stroke="#a4a4a4" stroke-width="0.42"/>
<circle cx="382.7" cy="99.9" r="0.6" fill="none" stroke="#a4a4a4" stroke-width="0.42"/>
<circle cx="397.9" cy="89.7" r="0.6" fill="none" stroke="#a4a4a4" stroke-width="0.42"/>
<circle cx="398.8" cy="73.1" r="0.6" fill="none" stroke="#a4a4a4" stroke-width="0.42"/>
<circle cx="396.3" cy="105.7" r="0.6" fill="none" stroke="#a4a4a4" stroke-width="0.42"/>
<circle cx="397.9" cy="75.3" r="0.6" fill="none" stroke="#a4a4a4" stroke-width="0.42"/>
<circle cx="398.6" cy="115.5" r="0.6" fill="none" stroke="#a4a4a4" stroke-width="0.42"/>
<circle cx="401.7" cy="98.6" r="0.6" fill="none" stroke="#a4a4a4" stroke-width="0.42"/>
<circle cx="395.7" cy="109.9" r="0.6" fill="none" stroke="#a4a4a4" stroke-width="0.42"/>
<circle cx="415.6" cy="110.9" r="0.6" fill="none" stroke="#a4a4a4" stroke-width="0.42"/>
<circle cx="401.5" cy="111.9" r="0.6" fill="none" stroke="#a4a4a4" stroke-width="0.42"/>
<circle cx="412.6" cy="99.5" r="0.6" fill="none" stroke="#a4a4a4" stroke-width="0.42"/>
<circle cx="414.8" cy="84.1" r="0.6" fill="none" stroke="#a4a4a4" stroke-width="0.42"/>
<circle cx="404.4" cy="118.8" r="0.6" fill="none" stroke="#a4a4a4" stroke-width="0.42"/>
<circle cx="372.7" cy="115.6" r="0.6" fill="none" stroke="#a4a4a4" stroke-width="0.42"/>
<circle cx="402.3" cy="111.9" r="0.6" fill="none" stroke="#a4a4a4" stroke-width="0.42"/>
<circle cx="400.2" cy="101.5" r="0.6" fill="none" stroke="#a4a4a4" stroke-width="0.42"/>
<circle cx="407.8" cy="115.1" r="0.6" fill="none" stroke="#a4a4a4" stroke-width="0.42"/>
<circle cx="387.5" cy="105.5" r="0.6" fill="none" stroke="#a4a4a4" stroke-width="0.42"/>
<circle cx="400.7" cy="98.2" r="0.6" fill="none" stroke="#a4a4a4" stroke-width="0.42"/>
<circle cx="413.5" cy="81.2" r="0.6" fill="none" stroke="#a4a4a4" stroke-width="0.42"/>
<circle cx="400.2" cy="85.5" r="0.6" fill="none" stroke="#a4a4a4" stroke-width="0.42"/>
<circle cx="398.8" cy="74.3" r="0.6" fill="none" stroke="#a4a4a4" stroke-width="0.42"/>
<circle cx="404.6" cy="116.1" r="0.6" fill="none" stroke="#a4a4a4" stroke-width="0.42"/>
<circle cx="391.3" cy="105.9" r="0.6" fill="none" stroke="#a4a4a4" stroke-width="0.42"/>
<circle cx="386.8" cy="115.1" r="0.6" fill="none" stroke="#a4a4a4" stroke-width="0.42"/>
<circle cx="396.6" cy="119.2" r="0.6" fill="none" stroke="#a4a4a4" stroke-width="0.42"/>
<circle cx="401.1" cy="90.5" r="0.6" fill="none" stroke="#a4a4a4" stroke-width="0.42"/>
<circle cx="431.9" cy="111.8" r="0.6" fill="none" stroke="#a4a4a4" stroke-width="0.42"/>
<circle cx="410.5" cy="106.1" r="0.6" fill="none" stroke="#a4a4a4" stroke-width="0.42"/>
<circle cx="396.8" cy="96.2" r="0.6" fill="none" stroke="#a4a4a4" stroke-width="0.42"/>
<circle cx="401.4" cy="111.6" r="0.6" fill="none" stroke="#a4a4a4" stroke-width="0.42"/>
<circle cx="392.9" cy="103.3" r="0.6" fill="none" stroke="#a4a4a4" stroke-width="0.42"/>
<circle cx="396.6" cy="120.4" r="0.6" fill="none" stroke="#a4a4a4" stroke-width="0.42"/>
<circle cx="398.8" cy="106.0" r="0.6" fill="none" stroke="#a4a4a4" stroke-width="0.42"/>
<circle cx="416.3" cy="107.0" r="0.6" fill="none" stroke="#a4a4a4" stroke-width="0.42"/>
<circle cx="400.3" cy="88.7" r="0.6" fill="none" stroke="#a4a4a4" stroke-width="0.42"/>
<circle cx="414.5" cy="67.5" r="0.6" fill="none" stroke="#a4a4a4" stroke-width="0.42"/>
<circle cx="404.2" cy="111.6" r="0.6" fill="none" stroke="#a4a4a4" stroke-width="0.42"/>
<circle cx="414.4" cy="119.4" r="0.6" fill="none" stroke="#a4a4a4" stroke-width="0.42"/>
<circle cx="396.8" cy="95.9" r="0.6" fill="none" stroke="#a4a4a4" stroke-width="0.42"/>
<circle cx="403.0" cy="116.9" r="0.6" fill="none" stroke="#a4a4a4" stroke-width="0.42"/>
<circle cx="401.6" cy="113.4" r="0.6" fill="none" stroke="#a4a4a4" stroke-width="0.42"/>
<circle cx="397.6" cy="86.5" r="0.6" fill="none" stroke="#a4a4a4" stroke-width="0.42"/>
<circle cx="428.7" cy="94.3" r="0.6" fill="none" stroke="#a4a4a4" stroke-width="0.42"/>
<circle cx="416.3" cy="114.6" r="0.6" fill="none" stroke="#a4a4a4" stroke-width="0.42"/>
<circle cx="423.6" cy="112.2" r="0.6" fill="none" stroke="#a4a4a4" stroke-width="0.42"/>
<circle cx="417.6" cy="106.4" r="0.6" fill="none" stroke="#a4a4a4" stroke-width="0.42"/>
<circle cx="397.8" cy="118.4" r="0.6" fill="none" stroke="#a4a4a4" stroke-width="0.42"/>
<circle cx="381.5" cy="118.5" r="0.6" fill="none" stroke="#a4a4a4" stroke-width="0.42"/>
<circle cx="399.9" cy="94.0" r="0.6" fill="none" stroke="#a4a4a4" stroke-width="0.42"/>
<circle cx="436.9" cy="103.9" r="0.6" fill="none" stroke="#a4a4a4" stroke-width="0.42"/>
<circle cx="397.4" cy="118.8" r="0.6" fill="none" stroke="#a4a4a4" stroke-width="0.42"/>
<circle cx="392.1" cy="118.4" r="0.6" fill="none" stroke="#a4a4a4" stroke-width="0.42"/>
<circle cx="397.5" cy="105.1" r="0.6" fill="none" stroke="#a4a4a4" stroke-width="0.42"/>
<circle cx="414.0" cy="62.6" r="0.6" fill="none" stroke="#a4a4a4" stroke-width="0.42"/>
<circle cx="412.0" cy="80.3" r="0.6" fill="none" stroke="#a4a4a4" stroke-width="0.42"/>
<circle cx="413.0" cy="96.4" r="0.6" fill="none" stroke="#a4a4a4" stroke-width="0.42"/>
<circle cx="401.4" cy="94.1" r="0.6" fill="none" stroke="#a4a4a4" stroke-width="0.42"/>
<circle cx="413.0" cy="70.6" r="0.6" fill="none" stroke="#a4a4a4" stroke-width="0.42"/>
<circle cx="393.9" cy="101.1" r="0.6" fill="none" stroke="#a4a4a4" stroke-width="0.42"/>
<circle cx="398.4" cy="101.9" r="0.6" fill="none" stroke="#a4a4a4" stroke-width="0.42"/>
<circle cx="375.8" cy="102.8" r="0.6" fill="none" stroke="#a4a4a4" stroke-width="0.42"/>
<circle cx="409.3" cy="120.3" r="0.6" fill="none" stroke="#a4a4a4" stroke-width="0.42"/>
<circle cx="390.5" cy="102.9" r="0.6" fill="none" stroke="#a4a4a4" stroke-width="0.42"/>
<circle cx="419.5" cy="117.3" r="0.6" fill="none" stroke="#a4a4a4" stroke-width="0.42"/>
<circle cx="398.6" cy="86.1" r="0.6" fill="none" stroke="#a4a4a4" stroke-width="0.42"/>
<circle cx="386.6" cy="100.4" r="0.6" fill="none" stroke="#a4a4a4" stroke-width="0.42"/>
<circle cx="417.2" cy="111.4" r="0.6" fill="none" stroke="#a4a4a4" stroke-width="0.42"/>
<circle cx="412.2" cy="90.8" r="0.6" fill="none" stroke="#a4a4a4" stroke-width="0.42"/>
<circle cx="436.9" cy="100.3" r="0.6" fill="none" stroke="#a4a4a4" stroke-width="0.42"/>
<circle cx="395.8" cy="97.4" r="0.6" fill="none" stroke="#a4a4a4" stroke-width="0.42"/>
<circle cx="397.2" cy="119.6" r="0.6" fill="none" stroke="#a4a4a4" stroke-width="0.42"/>
<circle cx="400.0" cy="94.7" r="0.6" fill="none" stroke="#a4a4a4" stroke-width="0.42"/>
<circle cx="416.8" cy="100.4" r="0.6" fill="none" stroke="#a4a4a4" stroke-width="0.42"/>
<circle cx="428.5" cy="107.5" r="0.6" fill="none" stroke="#a4a4a4" stroke-width="0.42"/>
<circle cx="417.8" cy="110.2" r="0.6" fill="none" stroke="#a4a4a4" stroke-width="0.42"/>
<circle cx="414.2" cy="105.2" r="0.6" fill="none" stroke="#a4a4a4" stroke-width="0.42"/>
<circle cx="395.8" cy="106.2" r="0.6" fill="none" stroke="#a4a4a4" stroke-width="0.42"/>
<circle cx="417.0" cy="107.2" r="0.6" fill="none" stroke="#a4a4a4" stroke-width="0.42"/>
<circle cx="414.2" cy="107.8" r="0.6" fill="none" stroke="#a4a4a4" stroke-width="0.42"/>
<circle cx="420.8" cy="115.9" r="0.6" fill="none" stroke="#a4a4a4" stroke-width="0.42"/>
<circle cx="401.1" cy="90.4" r="0.6" fill="none" stroke="#a4a4a4" stroke-width="0.42"/>
<circle cx="416.8" cy="117.8" r="0.6" fill="none" stroke="#a4a4a4" stroke-width="0.42"/>
<circle cx="402.8" cy="100.8" r="0.6" fill="none" stroke="#a4a4a4" stroke-width="0.42"/>
<circle cx="396.4" cy="97.8" r="0.6" fill="none" stroke="#a4a4a4" stroke-width="0.42"/>
<circle cx="414.9" cy="79.6" r="0.6" fill="none" stroke="#a4a4a4" stroke-width="0.42"/>
<circle cx="411.6" cy="81.8" r="0.6" fill="none" stroke="#a4a4a4" stroke-width="0.42"/>
<circle cx="400.7" cy="115.2" r="0.6" fill="none" stroke="#a4a4a4" stroke-width="0.42"/>
<circle cx="401.4" cy="113.7" r="0.6" fill="none" stroke="#a4a4a4" stroke-width="0.42"/>
<circle cx="398.5" cy="86.0" r="0.6" fill="none" stroke="#a4a4a4" stroke-width="0.42"/>
<circle cx="397.2" cy="71.6" r="0.6" fill="none" stroke="#a4a4a4" stroke-width="0.42"/>
<circle cx="413.4" cy="109.6" r="0.6" fill="none" stroke="#a4a4a4" stroke-width="0.42"/>
<circle cx="409.9" cy="115.4" r="0.6" fill="none" stroke="#a4a4a4" stroke-width="0.42"/>
<circle cx="414.0" cy="76.6" r="0.6" fill="none" stroke="#a4a4a4" stroke-width="0.42"/>
<circle cx="419.5" cy="107.8" r="0.6" fill="none" stroke="#a4a4a4" stroke-width="0.42"/>
<circle cx="396.1" cy="109.1" r="0.6" fill="none" stroke="#a4a4a4" stroke-width="0.42"/>
<circle cx="408.1" cy="114.9" r="0.6" fill="none" stroke="#a4a4a4" stroke-width="0.42"/>
<circle cx="414.9" cy="68.6" r="0.6" fill="none" stroke="#a4a4a4" stroke-width="0.42"/>
<circle cx="398.5" cy="97.6" r="0.6" fill="none" stroke="#a4a4a4" stroke-width="0.42"/>
<circle cx="431.6" cy="111.2" r="0.6" fill="none" stroke="#a4a4a4" stroke-width="0.42"/>
<circle cx="395.9" cy="108.8" r="0.6" fill="none" stroke="#a4a4a4" stroke-width="0.42"/>
<circle cx="389.6" cy="108.3" r="0.6" fill="none" stroke="#a4a4a4" stroke-width="0.42"/>
<circle cx="394.3" cy="100.6" r="0.6" fill="none" stroke="#a4a4a4" stroke-width="0.42"/>
<circle cx="414.3" cy="85.0" r="0.6" fill="none" stroke="#a4a4a4" stroke-width="0.42"/>
<circle cx="395.1" cy="96.1" r="0.6" fill="none" stroke="#a4a4a4" stroke-width="0.42"/>
<circle cx="412.7" cy="80.9" r="0.6" fill="none" stroke="#a4a4a4" stroke-width="0.42"/>
<circle cx="400.7" cy="93.7" r="0.6" fill="none" stroke="#a4a4a4" stroke-width="0.42"/>
<circle cx="419.4" cy="100.4" r="0.6" fill="none" stroke="#a4a4a4" stroke-width="0.42"/>
<circle cx="403.0" cy="110.7" r="0.6" fill="none" stroke="#a4a4a4" stroke-width="0.42"/>
<circle cx="419.5" cy="99.8" r="0.6" fill="none" stroke="#a4a4a4" stroke-width="0.42"/>
<circle cx="417.9" cy="110.8" r="0.6" fill="none" stroke="#a4a4a4" stroke-width="0.42"/>
<circle cx="408.7" cy="118.5" r="0.6" fill="none" stroke="#a4a4a4" stroke-width="0.42"/>
<circle cx="413.4" cy="68.3" r="0.6" fill="none" stroke="#a4a4a4" stroke-width="0.42"/>
<circle cx="413.7" cy="84.1" r="0.6" fill="none" stroke="#a4a4a4" stroke-width="0.42"/>
<circle cx="415.6" cy="113.0" r="0.6" fill="none" stroke="#a4a4a4" stroke-width="0.42"/>
<circle cx="409.3" cy="111.4" r="0.6" fill="none" stroke="#a4a4a4" stroke-width="0.42"/>
<circle cx="411.4" cy="117.8" r="0.6" fill="none" stroke="#a4a4a4" stroke-width="0.42"/>
<circle cx="430.4" cy="112.6" r="0.6" fill="none" stroke="#a4a4a4" stroke-width="0.42"/>
<circle cx="403.3" cy="120.5" r="0.6" fill="none" stroke="#a4a4a4" stroke-width="0.42"/>
<circle cx="414.0" cy="68.0" r="0.6" fill="none" stroke="#a4a4a4" stroke-width="0.42"/>
<circle cx="426.8" cy="110.4" r="0.6" fill="none" stroke="#a4a4a4" stroke-width="0.42"/>
<circle cx="413.1" cy="87.3" r="0.6" fill="none" stroke="#a4a4a4" stroke-width="0.42"/>
<circle cx="414.6" cy="86.9" r="0.6" fill="none" stroke="#a4a4a4" stroke-width="0.42"/>
<circle cx="414.0" cy="118.6" r="0.6" fill="none" stroke="#a4a4a4" stroke-width="0.42"/>
<circle cx="395.4" cy="106.4" r="0.6" fill="none" stroke="#a4a4a4" stroke-width="0.42"/>
<circle cx="418.8" cy="112.1" r="0.6" fill="none" stroke="#a4a4a4" stroke-width="0.42"/>
<circle cx="409.7" cy="95.6" r="0.6" fill="none" stroke="#a4a4a4" stroke-width="0.42"/>
<circle cx="401.8" cy="93.0" r="0.6" fill="none" stroke="#a4a4a4" stroke-width="0.42"/>
<circle cx="420.1" cy="109.3" r="0.6" fill="none" stroke="#a4a4a4" stroke-width="0.42"/>
<circle cx="388.8" cy="102.0" r="0.6" fill="none" stroke="#a4a4a4" stroke-width="0.42"/>
<circle cx="400.6" cy="86.8" r="0.6" fill="none" stroke="#a4a4a4" stroke-width="0.42"/>
<circle cx="391.7" cy="107.0" r="0.6" fill="none" stroke="#a4a4a4" stroke-width="0.42"/>
<circle cx="413.8" cy="117.9" r="0.6" fill="none" stroke="#a4a4a4" stroke-width="0.42"/>
<circle cx="412.1" cy="115.7" r="0.6" fill="none" stroke="#a4a4a4" stroke-width="0.42"/>
<circle cx="419.6" cy="102.8" r="0.6" fill="none" stroke="#a4a4a4" stroke-width="0.42"/>
<circle cx="414.6" cy="61.1" r="0.6" fill="none" stroke="#a4a4a4" stroke-width="0.42"/>
<circle cx="402.5" cy="118.9" r="0.6" fill="none" stroke="#a4a4a4" stroke-width="0.42"/>
<circle cx="416.6" cy="97.2" r="0.6" fill="none" stroke="#a4a4a4" stroke-width="0.42"/>
<circle cx="401.6" cy="105.3" r="0.6" fill="none" stroke="#a4a4a4" stroke-width="0.42"/>
<circle cx="401.4" cy="99.3" r="0.6" fill="none" stroke="#a4a4a4" stroke-width="0.42"/>
<circle cx="399.2" cy="105.4" r="0.6" fill="none" stroke="#a4a4a4" stroke-width="0.42"/>
<circle cx="408.3" cy="112.2" r="0.6" fill="none" stroke="#a4a4a4" stroke-width="0.42"/>
<circle cx="417.4" cy="120.1" r="0.6" fill="none" stroke="#a4a4a4" stroke-width="0.42"/>
<circle cx="410.4" cy="100.6" r="0.6" fill="none" stroke="#a4a4a4" stroke-width="0.42"/>
<circle cx="418.2" cy="104.0" r="0.6" fill="none" stroke="#a4a4a4" stroke-width="0.42"/>
<circle cx="415.8" cy="95.1" r="0.6" fill="none" stroke="#a4a4a4" stroke-width="0.42"/>
<circle cx="413.0" cy="96.6" r="0.6" fill="none" stroke="#a4a4a4" stroke-width="0.42"/>
<circle cx="400.0" cy="111.5" r="0.6" fill="none" stroke="#a4a4a4" stroke-width="0.42"/>
<circle cx="417.7" cy="98.5" r="0.6" fill="none" stroke="#a4a4a4" stroke-width="0.42"/>
<circle cx="415.5" cy="109.4" r="0.6" fill="none" stroke="#a4a4a4" stroke-width="0.42"/>
<circle cx="373.1" cy="97.7" r="0.6" fill="none" stroke="#a4a4a4" stroke-width="0.42"/>
<circle cx="388.3" cy="118.3" r="0.6" fill="none" stroke="#a4a4a4" stroke-width="0.42"/>
<circle cx="391.6" cy="119.2" r="0.6" fill="none" stroke="#a4a4a4" stroke-width="0.42"/>
<circle cx="399.5" cy="84.9" r="0.6" fill="none" stroke="#a4a4a4" stroke-width="0.42"/>
<circle cx="395.1" cy="112.2" r="0.6" fill="none" stroke="#a4a4a4" stroke-width="0.42"/>
<circle cx="426.8" cy="105.2" r="0.6" fill="none" stroke="#a4a4a4" stroke-width="0.42"/>
<circle cx="397.1" cy="72.1" r="0.6" fill="none" stroke="#a4a4a4" stroke-width="0.42"/>
<circle cx="410.1" cy="105.9" r="0.6" fill="none" stroke="#a4a4a4" stroke-width="0.42"/>
<circle cx="400.9" cy="117.2" r="0.6" fill="none" stroke="#a4a4a4" stroke-width="0.42"/>
<circle cx="425.8" cy="97.3" r="0.6" fill="none" stroke="#a4a4a4" stroke-width="0.42"/>
<circle cx="410.5" cy="94.9" r="0.6" fill="none" stroke="#a4a4a4" stroke-width="0.42"/>
<circle cx="413.7" cy="93.5" r="0.6" fill="none" stroke="#a4a4a4" stroke-width="0.42"/>
<circle cx="408.8" cy="104.1" r="0.6" fill="none" stroke="#a4a4a4" stroke-width="0.42"/>
<circle cx="398.8" cy="109.6" r="0.6" fill="none" stroke="#a4a4a4" stroke-width="0.42"/>
<circle cx="415.9" cy="96.4" r="0.6" fill="none" stroke="#a4a4a4" stroke-width="0.42"/>
<circle cx="414.7" cy="93.2" r="0.6" fill="none" stroke="#a4a4a4" stroke-width="0.42"/>
<circle cx="398.0" cy="101.9" r="0.6" fill="none" stroke="#a4a4a4" stroke-width="0.42"/>
<circle cx="401.2" cy="97.1" r="0.6" fill="none" stroke="#a4a4a4" stroke-width="0.42"/>
<circle cx="410.1" cy="96.3" r="0.6" fill="none" stroke="#a4a4a4" stroke-width="0.42"/>
<circle cx="389.0" cy="116.2" r="0.6" fill="none" stroke="#a4a4a4" stroke-width="0.42"/>
<circle cx="413.6" cy="93.1" r="0.6" fill="none" stroke="#a4a4a4" stroke-width="0.42"/>
<circle cx="414.7" cy="62.8" r="0.6" fill="none" stroke="#a4a4a4" stroke-width="0.42"/>
<circle cx="417.6" cy="97.8" r="0.6" fill="none" stroke="#a4a4a4" stroke-width="0.42"/>
<circle cx="424.9" cy="101.3" r="0.6" fill="none" stroke="#a4a4a4" stroke-width="0.42"/>
<circle cx="401.6" cy="100.1" r="0.6" fill="none" stroke="#a4a4a4" stroke-width="0.42"/>
<circle cx="394.7" cy="96.4" r="0.6" fill="none" stroke="#a4a4a4" stroke-width="0.42"/>
<circle cx="412.4" cy="104.8" r="0.6" fill="none" stroke="#a4a4a4" stroke-width="0.42"/>
<circle cx="411.6" cy="86.0" r="0.6" fill="none" stroke="#a4a4a4" stroke-width="0.42"/>
<circle cx="419.4" cy="113.9" r="0.6" fill="none" stroke="#a4a4a4" stroke-width="0.42"/>
<circle cx="412.6" cy="80.4" r="0.6" fill="none" stroke="#a4a4a4" stroke-width="0.42"/>
<circle cx="423.1" cy="95.8" r="0.6" fill="none" stroke="#a4a4a4" stroke-width="0.42"/>
<circle cx="413.1" cy="100.6" r="0.6" fill="none" stroke="#a4a4a4" stroke-width="0.42"/>
<circle cx="402.1" cy="108.8" r="0.6" fill="none" stroke="#a4a4a4" stroke-width="0.42"/>
<circle cx="388.1" cy="111.1" r="0.6" fill="none" stroke="#a4a4a4" stroke-width="0.42"/>
<circle cx="396.1" cy="97.8" r="0.6" fill="none" stroke="#a4a4a4" stroke-width="0.42"/>
<circle cx="399.1" cy="103.8" r="0.6" fill="none" stroke="#a4a4a4" stroke-width="0.42"/>
<circle cx="410.5" cy="91.7" r="0.6" fill="none" stroke="#a4a4a4" stroke-width="0.42"/>
<circle cx="398.0" cy="113.6" r="0.6" fill="none" stroke="#a4a4a4" stroke-width="0.42"/>
<circle cx="413.7" cy="81.2" r="0.6" fill="none" stroke="#a4a4a4" stroke-width="0.42"/>
<circle cx="398.3" cy="81.0" r="0.6" fill="none" stroke="#a4a4a4" stroke-width="0.42"/>
<circle cx="397.4" cy="62.7" r="0.6" fill="none" stroke="#a4a4a4" stroke-width="0.42"/>
<circle cx="385.8" cy="112.5" r="0.6" fill="none" stroke="#a4a4a4" stroke-width="0.42"/>
<circle cx="409.7" cy="114.8" r="0.6" fill="none" stroke="#a4a4a4" stroke-width="0.42"/>
<circle cx="423.6" cy="104.1" r="0.6" fill="none" stroke="#a4a4a4" stroke-width="0.42"/>
<circle cx="408.5" cy="107.6" r="0.6" fill="none" stroke="#a4a4a4" stroke-width="0.42"/>
<circle cx="396.0" cy="118.8" r="0.6" fill="none" stroke="#a4a4a4" stroke-width="0.42"/>
<circle cx="411.2" cy="85.3" r="0.6" fill="none" stroke="#a4a4a4" stroke-width="0.42"/>
<circle cx="395.5" cy="117.1" r="0.6" fill="none" stroke="#a4a4a4" stroke-width="0.42"/>
<circle cx="386.4" cy="108.6" r="0.6" fill="none" stroke="#a4a4a4" stroke-width="0.42"/>
<circle cx="411.2" cy="104.5" r="0.6" fill="none" stroke="#a4a4a4" stroke-width="0.42"/>
<circle cx="397.4" cy="100.7" r="0.6" fill="none" stroke="#a4a4a4" stroke-width="0.42"/>
<circle cx="410.9" cy="93.8" r="0.6" fill="none" stroke="#a4a4a4" stroke-width="0.42"/>
<circle cx="402.6" cy="115.0" r="0.6" fill="none" stroke="#a4a4a4" stroke-width="0.42"/>
<circle cx="400.6" cy="97.3" r="0.6" fill="none" stroke="#a4a4a4" stroke-width="0.42"/>
<circle cx="400.9" cy="102.2" r="0.6" fill="none" stroke="#a4a4a4" stroke-width="0.42"/>
<circle cx="410.9" cy="111.6" r="0.6" fill="none" stroke="#a4a4a4" stroke-width="0.42"/>
<circle cx="396.8" cy="79.1" r="0.6" fill="none" stroke="#a4a4a4" stroke-width="0.42"/>
<circle cx="408.1" cy="109.7" r="0.6" fill="none" stroke="#a4a4a4" stroke-width="0.42"/>
<circle cx="387.9" cy="110.7" r="0.6" fill="none" stroke="#a4a4a4" stroke-width="0.42"/>
<circle cx="417.8" cy="120.5" r="0.6" fill="none" stroke="#a4a4a4" stroke-width="0.42"/>
<circle cx="412.3" cy="76.7" r="0.6" fill="none" stroke="#a4a4a4" stroke-width="0.42"/>
<circle cx="425.6" cy="111.7" r="0.6" fill="none" stroke="#a4a4a4" stroke-width="0.42"/>
<circle cx="392.2" cy="97.0" r="0.6" fill="none" stroke="#a4a4a4" stroke-width="0.42"/>
<circle cx="414.2" cy="88.5" r="0.6" fill="none" stroke="#a4a4a4" stroke-width="0.42"/>
<circle cx="398.0" cy="87.5" r="0.6" fill="none" stroke="#a4a4a4" stroke-width="0.42"/>
<circle cx="418.4" cy="120.8" r="0.6" fill="none" stroke="#a4a4a4" stroke-width="0.42"/>
<circle cx="411.6" cy="84.0" r="0.6" fill="none" stroke="#a4a4a4" stroke-width="0.42"/>
<circle cx="398.6" cy="87.6" r="0.6" fill="none" stroke="#a4a4a4" stroke-width="0.42"/>
<circle cx="397.9" cy="61.7" r="0.6" fill="none" stroke="#a4a4a4" stroke-width="0.42"/>
<circle cx="414.4" cy="105.5" r="0.6" fill="none" stroke="#a4a4a4" stroke-width="0.42"/>
<circle cx="414.2" cy="65.0" r="0.6" fill="none" stroke="#a4a4a4" stroke-width="0.42"/>
<circle cx="390.5" cy="120.7" r="0.6" fill="none" stroke="#a4a4a4" stroke-width="0.42"/>
<circle cx="377.4" cy="120.7" r="0.6" fill="none" stroke="#a4a4a4" stroke-width="0.42"/>
<circle cx="429.1" cy="114.7" r="0.6" fill="none" stroke="#a4a4a4" stroke-width="0.42"/>
<circle cx="390.1" cy="114.7" r="0.6" fill="none" stroke="#a4a4a4" stroke-width="0.42"/>
<circle cx="393.4" cy="105.3" r="0.6" fill="none" stroke="#a4a4a4" stroke-width="0.42"/>
<circle cx="391.2" cy="104.7" r="0.6" fill="none" stroke="#a4a4a4" stroke-width="0.42"/>
<circle cx="400.3" cy="96.3" r="0.6" fill="none" stroke="#a4a4a4" stroke-width="0.42"/>
<circle cx="413.6" cy="93.7" r="0.6" fill="none" stroke="#a4a4a4" stroke-width="0.42"/>
<circle cx="399.0" cy="95.1" r="0.6" fill="none" stroke="#a4a4a4" stroke-width="0.42"/>
<circle cx="420.0" cy="120.1" r="0.6" fill="none" stroke="#a4a4a4" stroke-width="0.42"/>
<circle cx="411.7" cy="105.6" r="0.6" fill="none" stroke="#a4a4a4" stroke-width="0.42"/>
<circle cx="390.0" cy="111.9" r="0.6" fill="none" stroke="#a4a4a4" stroke-width="0.42"/>
<circle cx="412.1" cy="115.2" r="0.6" fill="none" stroke="#a4a4a4" stroke-width="0.42"/>
<circle cx="389.3" cy="102.9" r="0.6" fill="none" stroke="#a4a4a4" stroke-width="0.42"/>
<circle cx="408.6" cy="111.1" r="0.6" fill="none" stroke="#a4a4a4" stroke-width="0.42"/>
<circle cx="402.2" cy="118.4" r="0.6" fill="none" stroke="#a4a4a4" stroke-width="0.42"/>
<circle cx="428.7" cy="105.9" r="0.6" fill="none" stroke="#a4a4a4" stroke-width="0.42"/>
<circle cx="401.6" cy="97.9" r="0.6" fill="none" stroke="#a4a4a4" stroke-width="0.42"/>
<circle cx="403.5" cy="105.1" r="0.6" fill="none" stroke="#a4a4a4" stroke-width="0.42"/>
<circle cx="396.9" cy="90.3" r="0.6" fill="none" stroke="#a4a4a4" stroke-width="0.42"/>
<circle cx="412.9" cy="92.8" r="0.6" fill="none" stroke="#a4a4a4" stroke-width="0.42"/>
<circle cx="413.7" cy="72.5" r="0.6" fill="none" stroke="#a4a4a4" stroke-width="0.42"/>
<circle cx="412.2" cy="104.8" r="0.6" fill="none" stroke="#a4a4a4" stroke-width="0.42"/>
<circle cx="412.8" cy="82.5" r="0.6" fill="none" stroke="#a4a4a4" stroke-width="0.42"/>
<circle cx="390.5" cy="109.4" r="0.6" fill="none" stroke="#a4a4a4" stroke-width="0.42"/>
<circle cx="398.4" cy="70.9" r="0.6" fill="none" stroke="#a4a4a4" stroke-width="0.42"/>
<circle cx="402.1" cy="113.6" r="0.6" fill="none" stroke="#a4a4a4" stroke-width="0.42"/>
<circle cx="413.8" cy="77.5" r="0.6" fill="none" stroke="#a4a4a4" stroke-width="0.42"/>
<circle cx="411.2" cy="112.3" r="0.6" fill="none" stroke="#a4a4a4" stroke-width="0.42"/>
<circle cx="397.0" cy="75.2" r="0.6" fill="none" stroke="#a4a4a4" stroke-width="0.42"/>
<circle cx="387.4" cy="120.6" r="0.6" fill="none" stroke="#a4a4a4" stroke-width="0.42"/>
<circle cx="432.0" cy="113.4" r="0.6" fill="none" stroke="#a4a4a4" stroke-width="0.42"/>
<circle cx="416.8" cy="108.2" r="0.6" fill="none" stroke="#a4a4a4" stroke-width="0.42"/>
<circle cx="400.6" cy="101.6" r="0.6" fill="none" stroke="#a4a4a4" stroke-width="0.42"/>
<circle cx="414.8" cy="110.2" r="0.6" fill="none" stroke="#a4a4a4" stroke-width="0.42"/>
<circle cx="413.3" cy="101.0" r="0.6" fill="none" stroke="#a4a4a4" stroke-width="0.42"/>
<circle cx="405.0" cy="120.1" r="0.6" fill="none" stroke="#a4a4a4" stroke-width="0.42"/>
<circle cx="409.2" cy="111.7" r="0.6" fill="none" stroke="#a4a4a4" stroke-width="0.42"/>
<circle cx="426.6" cy="119.0" r="0.6" fill="none" stroke="#a4a4a4" stroke-width="0.42"/>
<circle cx="399.0" cy="82.8" r="0.6" fill="none" stroke="#a4a4a4" stroke-width="0.42"/>
<circle cx="395.8" cy="115.1" r="0.6" fill="none" stroke="#a4a4a4" stroke-width="0.42"/>
<circle cx="427.6" cy="101.0" r="0.6" fill="none" stroke="#a4a4a4" stroke-width="0.42"/>
<circle cx="398.4" cy="88.2" r="0.6" fill="none" stroke="#a4a4a4" stroke-width="0.42"/>
<circle cx="407.1" cy="116.6" r="0.6" fill="none" stroke="#a4a4a4" stroke-width="0.42"/>
<circle cx="428.9" cy="109.7" r="0.6" fill="none" stroke="#a4a4a4" stroke-width="0.42"/>
<circle cx="412.6" cy="97.0" r="0.6" fill="none" stroke="#a4a4a4" stroke-width="0.42"/>
<circle cx="412.6" cy="109.9" r="0.6" fill="none" stroke="#a4a4a4" stroke-width="0.42"/>
<circle cx="412.5" cy="114.9" r="0.6" fill="none" stroke="#a4a4a4" stroke-width="0.42"/>
<circle cx="419.4" cy="94.2" r="0.6" fill="none" stroke="#a4a4a4" stroke-width="0.42"/>
<circle cx="413.7" cy="67.1" r="0.6" fill="none" stroke="#a4a4a4" stroke-width="0.42"/>
<circle cx="397.9" cy="77.8" r="0.6" fill="none" stroke="#a4a4a4" stroke-width="0.42"/>
<circle cx="423.3" cy="111.9" r="0.6" fill="none" stroke="#a4a4a4" stroke-width="0.42"/>
<circle cx="389.0" cy="102.0" r="0.6" fill="none" stroke="#a4a4a4" stroke-width="0.42"/>
<circle cx="414.5" cy="65.9" r="0.6" fill="none" stroke="#a4a4a4" stroke-width="0.42"/>
<circle cx="388.3" cy="111.0" r="0.6" fill="none" stroke="#a4a4a4" stroke-width="0.42"/>
<circle cx="391.2" cy="114.5" r="0.6" fill="none" stroke="#a4a4a4" stroke-width="0.42"/>
<circle cx="397.7" cy="60.8" r="0.6" fill="none" stroke="#a4a4a4" stroke-width="0.42"/>
<circle cx="400.1" cy="87.8" r="0.6" fill="none" stroke="#a4a4a4" stroke-width="0.42"/>
<circle cx="394.7" cy="116.8" r="0.6" fill="none" stroke="#a4a4a4" stroke-width="0.42"/>
<circle cx="401.1" cy="112.6" r="0.6" fill="none" stroke="#a4a4a4" stroke-width="0.42"/>
<circle cx="396.8" cy="68.3" r="0.6" fill="none" stroke="#a4a4a4" stroke-width="0.42"/>
<circle cx="418.7" cy="102.9" r="0.6" fill="none" stroke="#a4a4a4" stroke-width="0.42"/>
<circle cx="408.0" cy="117.9" r="0.6" fill="none" stroke="#a4a4a4" stroke-width="0.42"/>
<circle cx="392.7" cy="107.4" r="0.6" fill="none" stroke="#a4a4a4" stroke-width="0.42"/>
<circle cx="415.1" cy="98.9" r="0.6" fill="none" stroke="#a4a4a4" stroke-width="0.42"/>
<circle cx="398.2" cy="72.8" r="0.6" fill="none" stroke="#a4a4a4" stroke-width="0.42"/>
<circle cx="410.3" cy="96.4" r="0.6" fill="none" stroke="#a4a4a4" stroke-width="0.42"/>
<circle cx="409.4" cy="118.0" r="0.6" fill="none" stroke="#a4a4a4" stroke-width="0.42"/>
<circle cx="395.0" cy="107.8" r="0.6" fill="none" stroke="#a4a4a4" stroke-width="0.42"/>
<circle cx="402.4" cy="97.1" r="0.6" fill="none" stroke="#a4a4a4" stroke-width="0.42"/>
<circle cx="397.2" cy="102.4" r="0.6" fill="none" stroke="#a4a4a4" stroke-width="0.42"/>
<circle cx="419.1" cy="101.4" r="0.6" fill="none" stroke="#a4a4a4" stroke-width="0.42"/>
<circle cx="425.6" cy="108.5" r="0.6" fill="none" stroke="#a4a4a4" stroke-width="0.42"/>
<circle cx="399.4" cy="115.3" r="0.6" fill="none" stroke="#a4a4a4" stroke-width="0.42"/>
<circle cx="382.1" cy="113.6" r="0.6" fill="none" stroke="#a4a4a4" stroke-width="0.42"/>
<circle cx="409.3" cy="98.1" r="0.6" fill="none" stroke="#a4a4a4" stroke-width="0.42"/>
<circle cx="400.6" cy="92.2" r="0.6" fill="none" stroke="#a4a4a4" stroke-width="0.42"/>
<circle cx="411.4" cy="96.2" r="0.6" fill="none" stroke="#a4a4a4" stroke-width="0.42"/>
<circle cx="409.5" cy="115.0" r="0.6" fill="none" stroke="#a4a4a4" stroke-width="0.42"/>
<circle cx="416.2" cy="104.3" r="0.6" fill="none" stroke="#a4a4a4" stroke-width="0.42"/>
<circle cx="392.8" cy="116.0" r="0.6" fill="none" stroke="#a4a4a4" stroke-width="0.42"/>
<circle cx="400.4" cy="106.7" r="0.6" fill="none" stroke="#a4a4a4" stroke-width="0.42"/>
<circle cx="396.8" cy="87.1" r="0.6" fill="none" stroke="#a4a4a4" stroke-width="0.42"/>
<circle cx="400.6" cy="92.8" r="0.6" fill="none" stroke="#a4a4a4" stroke-width="0.42"/>
<circle cx="415.3" cy="94.1" r="0.6" fill="none" stroke="#a4a4a4" stroke-width="0.42"/>
<circle cx="398.5" cy="74.4" r="0.6" fill="none" stroke="#a4a4a4" stroke-width="0.42"/>
<circle cx="382.5" cy="117.7" r="0.6" fill="none" stroke="#a4a4a4" stroke-width="0.42"/>
<circle cx="412.3" cy="111.8" r="0.6" fill="none" stroke="#a4a4a4" stroke-width="0.42"/>
<circle cx="402.2" cy="97.8" r="0.6" fill="none" stroke="#a4a4a4" stroke-width="0.42"/>
<circle cx="417.1" cy="109.6" r="0.6" fill="none" stroke="#a4a4a4" stroke-width="0.42"/>
<circle cx="400.7" cy="92.7" r="0.6" fill="none" stroke="#a4a4a4" stroke-width="0.42"/>
<circle cx="402.3" cy="101.7" r="0.6" fill="none" stroke="#a4a4a4" stroke-width="0.42"/>
<circle cx="401.3" cy="101.2" r="0.6" fill="none" stroke="#a4a4a4" stroke-width="0.42"/>
<circle cx="390.3" cy="96.3" r="0.6" fill="none" stroke="#a4a4a4" stroke-width="0.42"/>
<circle cx="419.3" cy="107.7" r="0.6" fill="none" stroke="#a4a4a4" stroke-width="0.42"/>
<circle cx="399.7" cy="83.3" r="0.6" fill="none" stroke="#a4a4a4" stroke-width="0.42"/>
<circle cx="403.7" cy="107.5" r="0.6" fill="none" stroke="#a4a4a4" stroke-width="0.42"/>
<circle cx="420.9" cy="111.9" r="0.6" fill="none" stroke="#a4a4a4" stroke-width="0.42"/>
<circle cx="420.5" cy="114.8" r="0.6" fill="none" stroke="#a4a4a4" stroke-width="0.42"/>
<circle cx="419.4" cy="101.6" r="0.6" fill="none" stroke="#a4a4a4" stroke-width="0.42"/>
<circle cx="395.4" cy="115.9" r="0.6" fill="none" stroke="#a4a4a4" stroke-width="0.42"/>
<circle cx="386.5" cy="97.0" r="0.6" fill="none" stroke="#a4a4a4" stroke-width="0.42"/>
<circle cx="397.5" cy="81.6" r="0.6" fill="none" stroke="#a4a4a4" stroke-width="0.42"/>
<circle cx="413.1" cy="98.1" r="0.6" fill="none" stroke="#a4a4a4" stroke-width="0.42"/>
<circle cx="414.7" cy="117.9" r="0.6" fill="none" stroke="#a4a4a4" stroke-width="0.42"/>
<circle cx="388.3" cy="94.3" r="0.6" fill="none" stroke="#a4a4a4" stroke-width="0.42"/>
<circle cx="412.5" cy="86.0" r="0.6" fill="none" stroke="#a4a4a4" stroke-width="0.42"/>
<circle cx="402.4" cy="101.2" r="0.6" fill="none" stroke="#a4a4a4" stroke-width="0.42"/>
<circle cx="412.5" cy="97.0" r="0.6" fill="none" stroke="#a4a4a4" stroke-width="0.42"/>
<circle cx="391.8" cy="99.0" r="0.6" fill="none" stroke="#a4a4a4" stroke-width="0.42"/>
<circle cx="425.0" cy="102.0" r="0.6" fill="none" stroke="#a4a4a4" stroke-width="0.42"/>
<circle cx="388.0" cy="113.7" r="0.6" fill="none" stroke="#a4a4a4" stroke-width="0.42"/>
<circle cx="408.9" cy="115.4" r="0.6" fill="none" stroke="#a4a4a4" stroke-width="0.42"/>
<circle cx="389.9" cy="107.6" r="0.6" fill="none" stroke="#a4a4a4" stroke-width="0.42"/>
<circle cx="399.2" cy="73.6" r="0.6" fill="none" stroke="#a4a4a4" stroke-width="0.42"/>
<circle cx="398.9" cy="100.5" r="0.6" fill="none" stroke="#a4a4a4" stroke-width="0.42"/>
<circle cx="416.1" cy="113.1" r="0.6" fill="none" stroke="#a4a4a4" stroke-width="0.42"/>
<circle cx="400.8" cy="109.6" r="0.6" fill="none" stroke="#a4a4a4" stroke-width="0.42"/>
<circle cx="401.5" cy="116.4" r="0.6" fill="none" stroke="#a4a4a4" stroke-width="0.42"/>
<circle cx="413.5" cy="73.1" r="0.6" fill="none" stroke="#a4a4a4" stroke-width="0.42"/>
<circle cx="380.4" cy="102.9" r="0.6" fill="none" stroke="#a4a4a4" stroke-width="0.42"/>
<circle cx="397.0" cy="79.7" r="0.6" fill="none" stroke="#a4a4a4" stroke-width="0.42"/>
<circle cx="414.3" cy="60.5" r="0.6" fill="none" stroke="#a4a4a4" stroke-width="0.42"/>
<circle cx="388.2" cy="119.6" r="0.6" fill="none" stroke="#a4a4a4" stroke-width="0.42"/>
<circle cx="414.8" cy="64.2" r="0.6" fill="none" stroke="#a4a4a4" stroke-width="0.42"/>
<circle cx="402.0" cy="101.6" r="0.6" fill="none" stroke="#a4a4a4" stroke-width="0.42"/>
<circle cx="372.4" cy="100.8" r="0.6" fill="none" stroke="#a4a4a4" stroke-width="0.42"/>
<circle cx="428.7" cy="110.8" r="0.6" fill="none" stroke="#a4a4a4" stroke-width="0.42"/>
<circle cx="358.5" cy="106.1" r="0.6" fill="none" stroke="#a4a4a4" stroke-width="0.42"/>
<circle cx="345.1" cy="116.3" r="0.6" fill="none" stroke="#a4a4a4" stroke-width="0.42"/>
<circle cx="351.5" cy="119.6" r="0.6" fill="none" stroke="#a4a4a4" stroke-width="0.42"/>
<circle cx="348.5" cy="113.4" r="0.6" fill="none" stroke="#a4a4a4" stroke-width="0.42"/>
<circle cx="374.8" cy="114.4" r="0.6" fill="none" stroke="#a4a4a4" stroke-width="0.42"/>
<circle cx="450.6" cy="112.4" r="0.6" fill="none" stroke="#a4a4a4" stroke-width="0.42"/>
<circle cx="435.3" cy="107.2" r="0.6" fill="none" stroke="#a4a4a4" stroke-width="0.42"/>
<circle cx="354.2" cy="118.8" r="0.6" fill="none" stroke="#a4a4a4" stroke-width="0.42"/>
<circle cx="430.1" cy="114.2" r="0.6" fill="none" stroke="#a4a4a4" stroke-width="0.42"/>
<circle cx="377.3" cy="114.6" r="0.6" fill="none" stroke="#a4a4a4" stroke-width="0.42"/>
<circle cx="456.9" cy="119.7" r="0.6" fill="none" stroke="#a4a4a4" stroke-width="0.42"/>
<circle cx="350.2" cy="111.2" r="0.6" fill="none" stroke="#a4a4a4" stroke-width="0.42"/>
<circle cx="371.9" cy="109.9" r="0.6" fill="none" stroke="#a4a4a4" stroke-width="0.42"/>
<circle cx="361.8" cy="117.7" r="0.6" fill="none" stroke="#a4a4a4" stroke-width="0.42"/>
<circle cx="346.5" cy="108.4" r="0.6" fill="none" stroke="#a4a4a4" stroke-width="0.42"/>
<circle cx="379.1" cy="113.7" r="0.6" fill="none" stroke="#a4a4a4" stroke-width="0.42"/>
<circle cx="372.0" cy="118.4" r="0.6" fill="none" stroke="#a4a4a4" stroke-width="0.42"/>
<circle cx="379.6" cy="115.0" r="0.6" fill="none" stroke="#a4a4a4" stroke-width="0.42"/>
<circle cx="448.5" cy="116.2" r="0.6" fill="none" stroke="#a4a4a4" stroke-width="0.42"/>
<circle cx="368.3" cy="101.5" r="0.6" fill="none" stroke="#a4a4a4" stroke-width="0.42"/>
<circle cx="352.5" cy="107.3" r="0.6" fill="none" stroke="#a4a4a4" stroke-width="0.42"/>
<circle cx="460.5" cy="103.1" r="0.6" fill="none" stroke="#a4a4a4" stroke-width="0.42"/>
<circle cx="378.3" cy="113.1" r="0.6" fill="none" stroke="#a4a4a4" stroke-width="0.42"/>
<circle cx="366.0" cy="100.1" r="0.6" fill="none" stroke="#a4a4a4" stroke-width="0.42"/>
<circle cx="449.1" cy="118.9" r="0.6" fill="none" stroke="#a4a4a4" stroke-width="0.42"/>
<circle cx="438.0" cy="104.9" r="0.6" fill="none" stroke="#a4a4a4" stroke-width="0.42"/>
<circle cx="447.4" cy="112.9" r="0.6" fill="none" stroke="#a4a4a4" stroke-width="0.42"/>
<circle cx="453.8" cy="113.4" r="0.6" fill="none" stroke="#a4a4a4" stroke-width="0.42"/>
<line x1="309.6" y1="93.5" x2="469.2" y2="93.5" stroke="#444" stroke-width="0.5" stroke-dasharray="1.2,1.2"/>
<line x1="397.4" y1="13.6" x2="397.4" y2="123.5" stroke="#777" stroke-width="0.5" stroke-dasharray="0.9,0.9"/>
<line x1="415.6" y1="13.6" x2="415.6" y2="123.5" stroke="#777" stroke-width="0.5" stroke-dasharray="0.9,0.9"/>
<line x1="317.8" y1="96" x2="317.8" y2="121" stroke="#999" stroke-width="0.8" stroke-dasharray="0.9,1.1"/>
<line x1="463" y1="100" x2="463" y2="121" stroke="#999" stroke-width="0.8" stroke-dasharray="0.9,1.1"/>
<circle cx="377.50" cy="58.50" r="0.85" fill="#0000ff"/>
<circle cx="377.50" cy="70.60" r="0.85" fill="#0000ff"/>
<circle cx="393.10" cy="53.50" r="0.85" fill="#0000ff"/>
<circle cx="391.90" cy="57.80" r="0.85" fill="#0000ff"/>
<circle cx="391.00" cy="60.60" r="0.85" fill="#0000ff"/>
<circle cx="396.90" cy="62.80" r="0.85" fill="#0000ff"/>
<circle cx="387.80" cy="66.30" r="0.85" fill="#0000ff"/>
<circle cx="391.00" cy="65.00" r="0.85" fill="#0000ff"/>
<circle cx="394.40" cy="64.80" r="0.85" fill="#0000ff"/>
<circle cx="389.00" cy="70.60" r="0.85" fill="#0000ff"/>
<circle cx="388.10" cy="73.50" r="0.85" fill="#0000ff"/>
<circle cx="389.00" cy="77.00" r="0.85" fill="#0000ff"/>
<circle cx="381.00" cy="84.10" r="0.85" fill="#0000ff"/>
<circle cx="388.10" cy="87.30" r="0.85" fill="#0000ff"/>
<circle cx="380.40" cy="91.30" r="0.85" fill="#0000ff"/>
<circle cx="383.80" cy="93.10" r="0.85" fill="#0000ff"/>
<circle cx="317.80" cy="85.90" r="0.85" fill="#0000ff"/>
<circle cx="317.80" cy="89.50" r="0.85" fill="#0000ff"/>
<circle cx="317.80" cy="91.50" r="0.85" fill="#0000ff"/>
<circle cx="318.50" cy="93.20" r="0.85" fill="#0000ff"/>
<circle cx="320.00" cy="93.40" r="0.85" fill="#0000ff"/>
<circle cx="349.20" cy="82.60" r="0.85" fill="#0000ff"/>
<circle cx="391.87" cy="82.41" r="0.85" fill="#0000ff"/>
<circle cx="392.79" cy="80.67" r="0.85" fill="#0000ff"/>
<circle cx="394.58" cy="92.93" r="0.85" fill="#0000ff"/>
<circle cx="390.29" cy="73.22" r="0.85" fill="#0000ff"/>
<circle cx="392.02" cy="90.09" r="0.85" fill="#0000ff"/>
<circle cx="397.17" cy="84.46" r="0.85" fill="#0000ff"/>
<circle cx="396.06" cy="84.29" r="0.85" fill="#0000ff"/>
<circle cx="394.67" cy="91.66" r="0.85" fill="#0000ff"/>
<circle cx="394.64" cy="72.17" r="0.85" fill="#0000ff"/>
<circle cx="393.86" cy="76.40" r="0.85" fill="#0000ff"/>
<circle cx="394.90" cy="92.95" r="0.85" fill="#0000ff"/>
<circle cx="395.51" cy="81.05" r="0.85" fill="#0000ff"/>
<circle cx="392.31" cy="93.30" r="0.85" fill="#0000ff"/>
<circle cx="396.26" cy="84.39" r="0.85" fill="#0000ff"/>
<circle cx="395.23" cy="71.80" r="0.85" fill="#0000ff"/>
<circle cx="395.20" cy="70.33" r="0.85" fill="#0000ff"/>
<circle cx="392.96" cy="74.45" r="0.85" fill="#0000ff"/>
<circle cx="393.31" cy="69.81" r="0.85" fill="#0000ff"/>
<circle cx="396.35" cy="92.50" r="0.85" fill="#0000ff"/>
<circle cx="391.15" cy="90.44" r="0.85" fill="#0000ff"/>
<circle cx="396.96" cy="85.36" r="0.85" fill="#0000ff"/>
<circle cx="394.59" cy="88.66" r="0.85" fill="#0000ff"/>
<circle cx="393.75" cy="86.65" r="0.85" fill="#0000ff"/>
<circle cx="392.66" cy="81.22" r="0.85" fill="#0000ff"/>
<circle cx="394.29" cy="70.92" r="0.85" fill="#0000ff"/>
<circle cx="394.97" cy="70.05" r="0.85" fill="#0000ff"/>
<circle cx="396.19" cy="67.83" r="0.85" fill="#0000ff"/>
<circle cx="394.90" cy="91.45" r="0.85" fill="#0000ff"/>
<circle cx="396.22" cy="68.78" r="0.85" fill="#0000ff"/>
<circle cx="396.53" cy="81.69" r="0.85" fill="#0000ff"/>
<circle cx="395.20" cy="90.55" r="0.85" fill="#0000ff"/>
<circle cx="396.02" cy="81.56" r="0.85" fill="#0000ff"/>
<circle cx="392.19" cy="92.95" r="0.85" fill="#0000ff"/>
<circle cx="396.18" cy="67.87" r="0.85" fill="#0000ff"/>
<circle cx="390.82" cy="74.46" r="0.85" fill="#0000ff"/>
<circle cx="393.07" cy="91.66" r="0.85" fill="#0000ff"/>
<circle cx="392.26" cy="75.51" r="0.85" fill="#0000ff"/>
<circle cx="396.31" cy="93.17" r="0.85" fill="#0000ff"/>
<circle cx="394.50" cy="93.16" r="0.85" fill="#0000ff"/>
<circle cx="395.23" cy="87.97" r="0.85" fill="#0000ff"/>
<circle cx="396.37" cy="68.20" r="0.85" fill="#0000ff"/>
<circle cx="393.74" cy="67.55" r="0.85" fill="#0000ff"/>
<circle cx="392.37" cy="92.78" r="0.85" fill="#0000ff"/>
<circle cx="394.40" cy="93.30" r="0.85" fill="#0000ff"/>
<circle cx="391.58" cy="86.09" r="0.85" fill="#0000ff"/>
<circle cx="394.47" cy="91.57" r="0.85" fill="#0000ff"/>
<circle cx="390.50" cy="72.18" r="0.85" fill="#0000ff"/>
<circle cx="392.40" cy="68.99" r="0.85" fill="#0000ff"/>
<circle cx="396.48" cy="86.85" r="0.85" fill="#0000ff"/>
<circle cx="393.42" cy="83.09" r="0.85" fill="#0000ff"/>
<circle cx="394.71" cy="80.91" r="0.85" fill="#0000ff"/>
<circle cx="394.11" cy="80.18" r="0.85" fill="#0000ff"/>
<circle cx="396.78" cy="83.45" r="0.85" fill="#0000ff"/>
<circle cx="393.22" cy="77.08" r="0.85" fill="#0000ff"/>
<circle cx="391.86" cy="88.66" r="0.85" fill="#0000ff"/>
<circle cx="397.04" cy="83.06" r="0.85" fill="#0000ff"/>
<circle cx="394.04" cy="93.45" r="0.85" fill="#0000ff"/>
<circle cx="393.11" cy="81.37" r="0.85" fill="#0000ff"/>
<circle cx="390.34" cy="80.31" r="0.85" fill="#0000ff"/>
<circle cx="394.63" cy="92.99" r="0.85" fill="#0000ff"/>
<circle cx="394.59" cy="84.57" r="0.85" fill="#0000ff"/>
<circle cx="394.95" cy="87.46" r="0.85" fill="#0000ff"/>
<circle cx="395.15" cy="76.51" r="0.85" fill="#0000ff"/>
<circle cx="390.36" cy="92.99" r="0.85" fill="#0000ff"/>
<circle cx="394.93" cy="68.83" r="0.85" fill="#0000ff"/>
<circle cx="391.96" cy="84.83" r="0.85" fill="#0000ff"/>
<circle cx="394.35" cy="88.22" r="0.85" fill="#0000ff"/>
<circle cx="392.75" cy="88.39" r="0.85" fill="#0000ff"/>
<circle cx="392.78" cy="80.91" r="0.85" fill="#0000ff"/>
<circle cx="392.30" cy="86.86" r="0.85" fill="#0000ff"/>
<circle cx="395.61" cy="93.34" r="0.85" fill="#0000ff"/>
<circle cx="394.18" cy="76.60" r="0.85" fill="#0000ff"/>
<circle cx="392.37" cy="90.33" r="0.85" fill="#0000ff"/>
<circle cx="395.83" cy="90.00" r="0.85" fill="#0000ff"/>
<circle cx="391.51" cy="85.39" r="0.85" fill="#0000ff"/>
<circle cx="395.09" cy="92.44" r="0.85" fill="#0000ff"/>
<circle cx="392.45" cy="87.91" r="0.85" fill="#0000ff"/>
<circle cx="396.03" cy="85.30" r="0.85" fill="#0000ff"/>
<circle cx="396.19" cy="91.34" r="0.85" fill="#0000ff"/>
<circle cx="392.56" cy="79.27" r="0.85" fill="#0000ff"/>
<circle cx="396.39" cy="84.97" r="0.85" fill="#0000ff"/>
<circle cx="391.78" cy="92.15" r="0.85" fill="#0000ff"/>
<circle cx="393.91" cy="90.94" r="0.85" fill="#0000ff"/>
<circle cx="395.85" cy="73.18" r="0.85" fill="#0000ff"/>
<circle cx="391.49" cy="89.16" r="0.85" fill="#0000ff"/>
<circle cx="395.85" cy="79.52" r="0.85" fill="#0000ff"/>
<circle cx="395.84" cy="87.63" r="0.85" fill="#0000ff"/>
<circle cx="391.11" cy="88.86" r="0.85" fill="#0000ff"/>
<circle cx="395.76" cy="89.32" r="0.85" fill="#0000ff"/>
<circle cx="392.62" cy="85.86" r="0.85" fill="#0000ff"/>
<circle cx="393.14" cy="86.05" r="0.85" fill="#0000ff"/>
<circle cx="396.64" cy="91.57" r="0.85" fill="#0000ff"/>
<circle cx="390.23" cy="69.54" r="0.85" fill="#0000ff"/>
<circle cx="396.36" cy="67.98" r="0.85" fill="#0000ff"/>
<circle cx="393.24" cy="69.30" r="0.85" fill="#0000ff"/>
<circle cx="396.69" cy="90.34" r="0.85" fill="#0000ff"/>
<circle cx="395.42" cy="73.24" r="0.85" fill="#0000ff"/>
<circle cx="394.84" cy="83.12" r="0.85" fill="#0000ff"/>
<circle cx="392.22" cy="87.73" r="0.85" fill="#0000ff"/>
<circle cx="391.79" cy="92.90" r="0.85" fill="#0000ff"/>
<circle cx="394.32" cy="88.97" r="0.85" fill="#0000ff"/>
<circle cx="395.87" cy="93.16" r="0.85" fill="#0000ff"/>
<circle cx="396.53" cy="77.92" r="0.85" fill="#0000ff"/>
<circle cx="396.67" cy="71.19" r="0.85" fill="#0000ff"/>
<circle cx="396.50" cy="81.46" r="0.85" fill="#0000ff"/>
<circle cx="390.29" cy="76.27" r="0.85" fill="#0000ff"/>
<circle cx="391.40" cy="88.68" r="0.85" fill="#0000ff"/>
<circle cx="394.84" cy="82.95" r="0.85" fill="#0000ff"/>
<circle cx="393.10" cy="69.69" r="0.85" fill="#0000ff"/>
<circle cx="394.49" cy="87.73" r="0.85" fill="#0000ff"/>
<circle cx="419.10" cy="23.20" r="0.85" fill="#ff0000"/>
<circle cx="415.90" cy="33.30" r="0.85" fill="#ff0000"/>
<circle cx="427.20" cy="37.70" r="0.85" fill="#ff0000"/>
<circle cx="418.20" cy="55.00" r="0.85" fill="#ff0000"/>
<circle cx="447.10" cy="59.00" r="0.85" fill="#ff0000"/>
<circle cx="415.50" cy="61.10" r="0.85" fill="#ff0000"/>
<circle cx="419.80" cy="63.50" r="0.85" fill="#ff0000"/>
<circle cx="415.10" cy="66.60" r="0.85" fill="#ff0000"/>
<circle cx="415.90" cy="70.30" r="0.85" fill="#ff0000"/>
<circle cx="417.10" cy="71.10" r="0.85" fill="#ff0000"/>
<circle cx="421.40" cy="79.50" r="0.85" fill="#ff0000"/>
<circle cx="415.50" cy="82.30" r="0.85" fill="#ff0000"/>
<circle cx="417.10" cy="84.00" r="0.85" fill="#ff0000"/>
<circle cx="418.70" cy="85.20" r="0.85" fill="#ff0000"/>
<circle cx="424.00" cy="86.40" r="0.85" fill="#ff0000"/>
<circle cx="415.50" cy="88.00" r="0.85" fill="#ff0000"/>
<circle cx="416.60" cy="89.60" r="0.85" fill="#ff0000"/>
<circle cx="417.90" cy="88.80" r="0.85" fill="#ff0000"/>
<circle cx="419.10" cy="90.40" r="0.85" fill="#ff0000"/>
<circle cx="442.30" cy="89.90" r="0.85" fill="#ff0000"/>
<circle cx="416.30" cy="91.20" r="0.85" fill="#ff0000"/>
<circle cx="425.60" cy="92.80" r="0.85" fill="#ff0000"/>
<circle cx="427.50" cy="92.80" r="0.85" fill="#ff0000"/>
<circle cx="442.30" cy="93.30" r="0.85" fill="#ff0000"/>
<circle cx="416.00" cy="86.50" r="0.85" fill="#ff0000"/>
<circle cx="418.00" cy="87.20" r="0.85" fill="#ff0000"/>
<circle cx="420.00" cy="91.50" r="0.85" fill="#ff0000"/>
<circle cx="417.00" cy="92.80" r="0.85" fill="#ff0000"/>
<circle cx="419.00" cy="93.00" r="0.85" fill="#ff0000"/>
<circle cx="416.54" cy="91.93" r="0.85" fill="#ff0000"/>
<circle cx="417.73" cy="91.20" r="0.85" fill="#ff0000"/>
<circle cx="417.06" cy="85.82" r="0.85" fill="#ff0000"/>
<circle cx="418.03" cy="91.51" r="0.85" fill="#ff0000"/>
<circle cx="416.11" cy="91.28" r="0.85" fill="#ff0000"/>
<circle cx="420.09" cy="91.42" r="0.85" fill="#ff0000"/>
<circle cx="419.56" cy="84.07" r="0.85" fill="#ff0000"/>
<circle cx="418.53" cy="91.94" r="0.85" fill="#ff0000"/>
<circle cx="415.46" cy="86.50" r="0.85" fill="#ff0000"/>
<circle cx="416.62" cy="88.85" r="0.85" fill="#ff0000"/>
<circle cx="417.44" cy="88.35" r="0.85" fill="#ff0000"/>
<circle cx="419.32" cy="84.02" r="0.85" fill="#ff0000"/>
<circle cx="415.49" cy="85.17" r="0.85" fill="#ff0000"/>
<circle cx="415.86" cy="84.63" r="0.85" fill="#ff0000"/>
<circle cx="420.37" cy="91.86" r="0.85" fill="#ff0000"/>
<circle cx="415.66" cy="88.62" r="0.85" fill="#ff0000"/>
<text x="389.00" y="8.80" font-size="3.9" text-anchor="middle" fill="#222" stroke="#222" stroke-width="0.100" >Volcano Map (LPS_vs_LAEE)</text>
<text x="389.00" y="136.44" font-size="4.0" text-anchor="middle" fill="#222" stroke="#222" stroke-width="0.100" >log2(FoldChange)</text>
<text x="0" y="0" font-size="4.3" text-anchor="middle" fill="#222" stroke="#222" stroke-width="0.08" transform="translate(298.80,68.25) rotate(-90)">-log10(pvalue)</text>
<circle cx="474.6" cy="24.4" r="0.45" fill="none" stroke="#aaa" stroke-width="0.35"/>
<text x="477.20" y="25.55" font-size="3.2" text-anchor="start" fill="#333" stroke="#333" stroke-width="0.100" >Nosdiff</text>
<circle cx="474.60" cy="30.00" r="0.75" fill="#0000ff"/>
<text x="477.20" y="31.15" font-size="3.2" text-anchor="start" fill="#333" stroke="#333" stroke-width="0.100" >Down</text>
<circle cx="474.60" cy="35.60" r="0.75" fill="#ff0000"/>
<text x="477.20" y="36.75" font-size="3.2" text-anchor="start" fill="#333" stroke="#333" stroke-width="0.100" >Up</text>
<text x="275.9" y="153.9" font-size="14.3" text-anchor="middle" font-family="Liberation Serif, serif" fill="#111">(<tspan font-weight="bold">a</tspan>)</text>
<line x1="93" y1="292.75" x2="231.75" y2="292.75" stroke="#ececec" stroke-width="0.5"/>
<line x1="91.3" y1="292.75" x2="93" y2="292.75" stroke="#666" stroke-width="0.4"/>
<text x="90.00" y="293.97" font-size="3.4" text-anchor="end" fill="#333" stroke="#333" stroke-width="0.100" >0</text>
<line x1="93" y1="274.59" x2="231.75" y2="274.59" stroke="#ececec" stroke-width="0.5"/>
<line x1="91.3" y1="274.59" x2="93" y2="274.59" stroke="#666" stroke-width="0.4"/>
<text x="90.00" y="275.81" font-size="3.4" text-anchor="end" fill="#333" stroke="#333" stroke-width="0.100" >20</text>
<line x1="93" y1="256.43" x2="231.75" y2="256.43" stroke="#ececec" stroke-width="0.5"/>
<line x1="91.3" y1="256.43" x2="93" y2="256.43" stroke="#666" stroke-width="0.4"/>
<text x="90.00" y="257.65" font-size="3.4" text-anchor="end" fill="#333" stroke="#333" stroke-width="0.100" >40</text>
<line x1="93" y1="238.27" x2="231.75" y2="238.27" stroke="#ececec" stroke-width="0.5"/>
<line x1="91.3" y1="238.27" x2="93" y2="238.27" stroke="#666" stroke-width="0.4"/>
<text x="90.00" y="239.49" font-size="3.4" text-anchor="end" fill="#333" stroke="#333" stroke-width="0.100" >60</text>
<line x1="93" y1="220.11" x2="231.75" y2="220.11" stroke="#ececec" stroke-width="0.5"/>
<line x1="91.3" y1="220.11" x2="93" y2="220.11" stroke="#666" stroke-width="0.4"/>
<text x="90.00" y="221.33" font-size="3.4" text-anchor="end" fill="#333" stroke="#333" stroke-width="0.100" >80</text>
<line x1="93" y1="201.95" x2="231.75" y2="201.95" stroke="#ececec" stroke-width="0.5"/>
<line x1="91.3" y1="201.95" x2="93" y2="201.95" stroke="#666" stroke-width="0.4"/>
<text x="90.00" y="203.17" font-size="3.4" text-anchor="end" fill="#333" stroke="#333" stroke-width="0.100" >100</text>
<line x1="93" y1="183.79" x2="231.75" y2="183.79" stroke="#ececec" stroke-width="0.5"/>
<line x1="91.3" y1="183.79" x2="93" y2="183.79" stroke="#666" stroke-width="0.4"/>
<text x="90.00" y="185.01" font-size="3.4" text-anchor="end" fill="#333" stroke="#333" stroke-width="0.100" >120</text>
<line x1="162.4" y1="183.75" x2="162.4" y2="292.75" stroke="#e4e4e4" stroke-width="0.5"/>
<line x1="231.75" y1="183.75" x2="231.75" y2="292.75" stroke="#e4e4e4" stroke-width="0.5"/>
<line x1="93" y1="183.75" x2="93" y2="292.75" stroke="#777" stroke-width="0.5"/>
<line x1="93" y1="292.75" x2="231.75" y2="292.75" stroke="#777" stroke-width="0.5"/>
<line x1="93" y1="292.75" x2="93" y2="294.5" stroke="#777" stroke-width="0.5"/>
<line x1="162.4" y1="292.75" x2="162.4" y2="294.5" stroke="#777" stroke-width="0.5"/>
<line x1="231.75" y1="292.75" x2="231.75" y2="294.5" stroke="#777" stroke-width="0.5"/>
<rect x="107" y="242.81" width="20.5" height="49.94" fill="#ff0000"/>
<rect x="127.5" y="250.07" width="20.75" height="42.68" fill="#0000ff"/>
<rect x="176.25" y="249.17" width="20.25" height="43.58" fill="#ff0000"/>
<rect x="196.5" y="190.15" width="20.5" height="102.60" fill="#0000ff"/>
<text x="117.30" y="239.93" font-size="3.7" text-anchor="middle" fill="#333" stroke="#333" stroke-width="0.100" >55</text>
<text x="138.00" y="247.03" font-size="3.7" text-anchor="middle" fill="#333" stroke="#333" stroke-width="0.100" >47</text>
<text x="186.30" y="246.33" font-size="3.7" text-anchor="middle" fill="#333" stroke="#333" stroke-width="0.100" >48</text>
<text x="206.80" y="186.93" font-size="3.7" text-anchor="middle" fill="#333" stroke="#333" stroke-width="0.100" >113</text>
<text x="127.80" y="297.86" font-size="3.5" text-anchor="middle" fill="#333" stroke="#333" stroke-width="0.100" >Saline_vs_LPS</text>
<text x="196.50" y="297.86" font-size="3.5" text-anchor="middle" fill="#333" stroke="#333" stroke-width="0.100" >LPS_vs_LAEE</text>
<text x="0" y="0" font-size="3.5" text-anchor="middle" fill="#333" stroke="#333" stroke-width="0.1" transform="translate(81.3,245.7) rotate(-90)">Number of gene</text>
<rect x="237.4" y="199.9" width="2.6" height="2.3" fill="#ff0000"/>
<rect x="237.4" y="204.9" width="2.6" height="2.3" fill="#0000ff"/>
<text x="241.60" y="202.22" font-size="3.1" text-anchor="start" fill="#222" stroke="#222" stroke-width="0.100" font-weight="bold">up</text>
<text x="241.60" y="207.22" font-size="3.1" text-anchor="start" fill="#222" stroke="#222" stroke-width="0.100" font-weight="bold">down</text>
<text x="140.75" y="317.4" font-size="14.3" text-anchor="middle" font-family="Liberation Serif, serif" fill="#111">(<tspan font-weight="bold">b</tspan>)</text>
<circle cx="366.2" cy="256.6" r="43.8" fill="#f9a096"/>
<circle cx="414.8" cy="256.6" r="43.7" fill="#80d7e7"/>
<clipPath id="cl"><circle cx="366.2" cy="256.6" r="43.8"/></clipPath>
<circle cx="414.8" cy="256.6" r="43.7" fill="#95a9b3" clip-path="url(#cl)"/>
<text x="396.30" y="199.76" font-size="4.9" text-anchor="middle" fill="#222" stroke="#222" stroke-width="0.100" >Venn Analysis</text>
<text x="348.30" y="210.26" font-size="4.6" text-anchor="middle" fill="#4862b0" stroke="#4862b0" stroke-width="0.100" >LPS_vs_LAEE</text>
<text x="430.50" y="209.66" font-size="4.6" text-anchor="middle" fill="#ff2020" stroke="#ff2020" stroke-width="0.100" >Saline_vs_LPS</text>
<text x="350.70" y="257.78" font-size="4.4" text-anchor="middle" fill="#222" stroke="#222" stroke-width="0.100" font-weight="bold">150</text>
<text x="391.50" y="257.78" font-size="4.4" text-anchor="middle" fill="#222" stroke="#222" stroke-width="0.100" font-weight="bold">11</text>
<text x="425.50" y="257.78" font-size="4.4" text-anchor="middle" fill="#222" stroke="#222" stroke-width="0.100" font-weight="bold">91</text>
<text x="410.9" y="317.4" font-size="14.3" text-anchor="middle" font-family="Liberation Serif, serif" fill="#111">(<tspan font-weight="bold">c</tspan>)</text>
<rect x="150.6" y="339.6" width="79.4" height="178.19999999999993" fill="none" stroke="#3a3a3a" stroke-width="0.6"/>
<text x="141.30" y="330.67" font-size="6.3" text-anchor="start" fill="#1a1a1a" stroke="#1a1a1a" stroke-width="0.126" >KEGG Enrichment (LPS_vs_LAEE)</text>
<line x1="148.6" y1="344.50" x2="150.6" y2="344.50" stroke="#333" stroke-width="0.5"/>
<text x="146.80" y="347.27" font-size="6.3" text-anchor="end" fill="#1a1a1a" stroke="#1a1a1a" stroke-width="0.126" >Cell cycle</text>
<line x1="148.6" y1="353.32" x2="150.6" y2="353.32" stroke="#333" stroke-width="0.5"/>
<text x="146.80" y="356.09" font-size="6.3" text-anchor="end" fill="#1a1a1a" stroke="#1a1a1a" stroke-width="0.126" >Oocyte meiosis</text>
<line x1="148.6" y1="362.14" x2="150.6" y2="362.14" stroke="#333" stroke-width="0.5"/>
<text x="146.80" y="364.91" font-size="6.3" text-anchor="end" fill="#1a1a1a" stroke="#1a1a1a" stroke-width="0.126" >Progesterone-mediated oocyte maturation</text>
<line x1="148.6" y1="370.96" x2="150.6" y2="370.96" stroke="#333" stroke-width="0.5"/>
<text x="146.80" y="373.73" font-size="6.3" text-anchor="end" fill="#1a1a1a" stroke="#1a1a1a" stroke-width="0.126" >Tyrosine metabolism</text>
<line x1="148.6" y1="379.78" x2="150.6" y2="379.78" stroke="#333" stroke-width="0.5"/>
<text x="146.80" y="382.55" font-size="6.3" text-anchor="end" fill="#1a1a1a" stroke="#1a1a1a" stroke-width="0.126" >p53 signaling pathway</text>
<line x1="148.6" y1="388.60" x2="150.6" y2="388.60" stroke="#333" stroke-width="0.5"/>
<text x="146.80" y="391.37" font-size="6.3" text-anchor="end" fill="#1a1a1a" stroke="#1a1a1a" stroke-width="0.126" >Gap junction</text>
<line x1="148.6" y1="397.42" x2="150.6" y2="397.42" stroke="#333" stroke-width="0.5"/>
<text x="146.80" y="400.19" font-size="6.3" text-anchor="end" fill="#1a1a1a" stroke="#1a1a1a" stroke-width="0.126" >Tryptophan metabolism</text>
<line x1="148.6" y1="406.24" x2="150.6" y2="406.24" stroke="#333" stroke-width="0.5"/>
<text x="146.80" y="409.01" font-size="6.3" text-anchor="end" fill="#1a1a1a" stroke="#1a1a1a" stroke-width="0.126" >Vitamin B6 metabolism</text>
<line x1="148.6" y1="415.06" x2="150.6" y2="415.06" stroke="#333" stroke-width="0.5"/>
<text x="146.80" y="417.83" font-size="6.3" text-anchor="end" fill="#1a1a1a" stroke="#1a1a1a" stroke-width="0.126" >Apoptosis</text>
<line x1="148.6" y1="423.88" x2="150.6" y2="423.88" stroke="#333" stroke-width="0.5"/>
<text x="146.80" y="426.65" font-size="6.3" text-anchor="end" fill="#1a1a1a" stroke="#1a1a1a" stroke-width="0.126" >FoxO signaling pathway</text>
<line x1="148.6" y1="432.70" x2="150.6" y2="432.70" stroke="#333" stroke-width="0.5"/>
<text x="146.80" y="435.47" font-size="6.3" text-anchor="end" fill="#1a1a1a" stroke="#1a1a1a" stroke-width="0.126" >Phenylalanine metabolism</text>
<line x1="148.6" y1="441.52" x2="150.6" y2="441.52" stroke="#333" stroke-width="0.5"/>
<text x="146.80" y="444.29" font-size="6.3" text-anchor="end" fill="#1a1a1a" stroke="#1a1a1a" stroke-width="0.126" >Cellular senescence</text>
<line x1="148.6" y1="450.34" x2="150.6" y2="450.34" stroke="#333" stroke-width="0.5"/>
<text x="146.80" y="453.11" font-size="6.3" text-anchor="end" fill="#1a1a1a" stroke="#1a1a1a" stroke-width="0.126" >Neuroactive ligand-receptor interaction</text>
<line x1="148.6" y1="459.16" x2="150.6" y2="459.16" stroke="#333" stroke-width="0.5"/>
<text x="146.80" y="461.93" font-size="6.3" text-anchor="end" fill="#1a1a1a" stroke="#1a1a1a" stroke-width="0.126" >Folate biosynthesis</text>
<line x1="148.6" y1="467.98" x2="150.6" y2="467.98" stroke="#333" stroke-width="0.5"/>
<text x="146.80" y="470.75" font-size="6.3" text-anchor="end" fill="#1a1a1a" stroke="#1a1a1a" stroke-width="0.126" >SNARE interactions in vesicular transport</text>
<line x1="148.6" y1="476.80" x2="150.6" y2="476.80" stroke="#333" stroke-width="0.5"/>
<text x="146.80" y="479.57" font-size="6.3" text-anchor="end" fill="#1a1a1a" stroke="#1a1a1a" stroke-width="0.126" >Drug metabolism - cytochrome P450</text>
<line x1="148.6" y1="485.62" x2="150.6" y2="485.62" stroke="#333" stroke-width="0.5"/>
<text x="146.80" y="488.39" font-size="6.3" text-anchor="end" fill="#1a1a1a" stroke="#1a1a1a" stroke-width="0.126" >Retinol metabolism</text>
<line x1="148.6" y1="494.44" x2="150.6" y2="494.44" stroke="#333" stroke-width="0.5"/>
<text x="146.80" y="497.21" font-size="6.3" text-anchor="end" fill="#1a1a1a" stroke="#1a1a1a" stroke-width="0.126" >Nicotinate and nicotinamide metabolism</text>
<line x1="148.6" y1="503.26" x2="150.6" y2="503.26" stroke="#333" stroke-width="0.5"/>
<text x="146.80" y="506.03" font-size="6.3" text-anchor="end" fill="#1a1a1a" stroke="#1a1a1a" stroke-width="0.126" >Pyruvate metabolism</text>
<line x1="148.6" y1="512.08" x2="150.6" y2="512.08" stroke="#333" stroke-width="0.5"/>
<text x="146.80" y="514.85" font-size="6.3" text-anchor="end" fill="#1a1a1a" stroke="#1a1a1a" stroke-width="0.126" >Phagosome</text>
<circle cx="200.60" cy="344.50" r="3.0" fill="#0a14ff"/>
<circle cx="198.00" cy="353.32" r="2.6" fill="#0a14ff"/>
<circle cx="188.60" cy="362.14" r="1.7" fill="#1020ff"/>
<circle cx="206.70" cy="370.96" r="1.2" fill="#1020ff"/>
<circle cx="179.00" cy="379.78" r="1.2" fill="#2030ff"/>
<circle cx="175.90" cy="388.60" r="1.2" fill="#2030ff"/>
<circle cx="185.80" cy="397.42" r="0.8" fill="#5060ff"/>
<circle cx="223.20" cy="406.24" r="0.6" fill="#d8d8f0"/>
<circle cx="170.00" cy="415.06" r="1.1" fill="#7b80ff"/>
<circle cx="170.00" cy="423.88" r="1.1" fill="#7b80ff"/>
<circle cx="195.50" cy="432.70" r="0.6" fill="#e6e6f4"/>
<circle cx="167.50" cy="441.52" r="1.1" fill="#b0b4ff"/>
<circle cx="165.00" cy="450.34" r="1.8" fill="#a8acff"/>
<circle cx="175.10" cy="459.16" r="0.6" fill="#ffd0d0"/>
<circle cx="175.40" cy="467.98" r="0.6" fill="#ffd0d0"/>
<circle cx="173.80" cy="476.80" r="0.6" fill="#ffc8c8"/>
<circle cx="173.20" cy="485.62" r="0.6" fill="#ffc4c4"/>
<circle cx="172.30" cy="494.44" r="0.6" fill="#ffbcbc"/>
<circle cx="170.50" cy="503.26" r="0.7" fill="#ff9a9a"/>
<circle cx="164.70" cy="512.08" r="1.4" fill="#ff2020"/>
<line x1="157.30" y1="517.8" x2="157.30" y2="519.8" stroke="#333" stroke-width="0.5"/>
<text x="157.30" y="525.43" font-size="4.8" text-anchor="middle" fill="#333" stroke="#333" stroke-width="0.100" >0.00</text>
<line x1="166.57" y1="517.8" x2="166.57" y2="519.8" stroke="#333" stroke-width="0.5"/>
<text x="166.57" y="525.43" font-size="4.8" text-anchor="middle" fill="#333" stroke="#333" stroke-width="0.100" >0.02</text>
<line x1="175.84" y1="517.8" x2="175.84" y2="519.8" stroke="#333" stroke-width="0.5"/>
<text x="175.84" y="525.43" font-size="4.8" text-anchor="middle" fill="#333" stroke="#333" stroke-width="0.100" >0.04</text>
<line x1="185.11" y1="517.8" x2="185.11" y2="519.8" stroke="#333" stroke-width="0.5"/>
<text x="185.11" y="525.43" font-size="4.8" text-anchor="middle" fill="#333" stroke="#333" stroke-width="0.100" >0.06</text>
<line x1="194.38" y1="517.8" x2="194.38" y2="519.8" stroke="#333" stroke-width="0.5"/>
<text x="194.38" y="525.43" font-size="4.8" text-anchor="middle" fill="#333" stroke="#333" stroke-width="0.100" >0.08</text>
<line x1="203.65" y1="517.8" x2="203.65" y2="519.8" stroke="#333" stroke-width="0.5"/>
<text x="203.65" y="525.43" font-size="4.8" text-anchor="middle" fill="#333" stroke="#333" stroke-width="0.100" >0.10</text>
<line x1="212.92" y1="517.8" x2="212.92" y2="519.8" stroke="#333" stroke-width="0.5"/>
<text x="212.92" y="525.43" font-size="4.8" text-anchor="middle" fill="#333" stroke="#333" stroke-width="0.100" >0.12</text>
<line x1="222.19" y1="517.8" x2="222.19" y2="519.8" stroke="#333" stroke-width="0.5"/>
<text x="222.19" y="525.43" font-size="4.8" text-anchor="middle" fill="#333" stroke="#333" stroke-width="0.100" >0.14</text>
<text x="189.60" y="537.33" font-size="6.2" text-anchor="middle" fill="#1a1a1a" stroke="#1a1a1a" stroke-width="0.124" >Rich factor</text>
<text x="0" y="0" font-size="6.2" text-anchor="middle" fill="#1a1a1a" transform="translate(12.70,428.8) rotate(-90)">KEGG Pathway</text>
<text x="243.00" y="347.74" font-size="6.5" text-anchor="start" fill="#1a1a1a" stroke="#1a1a1a" stroke-width="0.130" >P value</text>
<linearGradient id="g150" x1="0" y1="0" x2="0" y2="1"><stop offset="0" stop-color="#ff0000"/><stop offset="0.5" stop-color="#ffffff"/><stop offset="1" stop-color="#0000ff"/></linearGradient>
<rect x="243" y="352.3" width="4" height="43.5" fill="url(#g150)"/>
<line x1="247" y1="354.9" x2="248" y2="354.9" stroke="#fff" stroke-width="0.4"/>
<text x="249.30" y="356.77" font-size="5.2" text-anchor="start" fill="#333" stroke="#333" stroke-width="0.100" >0.285</text>
<line x1="247" y1="374.7" x2="248" y2="374.7" stroke="#fff" stroke-width="0.4"/>
<text x="249.30" y="376.57" font-size="5.2" text-anchor="start" fill="#333" stroke="#333" stroke-width="0.100" >0.142</text>
<line x1="247" y1="394.6" x2="248" y2="394.6" stroke="#fff" stroke-width="0.4"/>
<text x="249.30" y="396.47" font-size="5.2" text-anchor="start" fill="#333" stroke="#333" stroke-width="0.100" >0</text>
<text x="243.00" y="430.78" font-size="6.6" text-anchor="start" fill="#1a1a1a" stroke="#1a1a1a" stroke-width="0.132" >Number</text>
<circle cx="244.80" cy="436.80" r="0.5" fill="#111"/>
<text x="250.80" y="438.67" font-size="5.2" text-anchor="start" fill="#333" stroke="#333" stroke-width="0.100" >1</text>
<circle cx="244.80" cy="445.20" r="0.8" fill="#111"/>
<text x="250.80" y="447.07" font-size="5.2" text-anchor="start" fill="#333" stroke="#333" stroke-width="0.100" >2</text>
<circle cx="244.80" cy="455.40" r="2.6" fill="#111"/>
<text x="250.80" y="457.27" font-size="5.2" text-anchor="start" fill="#333" stroke="#333" stroke-width="0.100" >10</text>
<rect x="429.7" y="339.6" width="78.30000000000001" height="178.29999999999995" fill="none" stroke="#3a3a3a" stroke-width="0.6"/>
<text x="418.90" y="330.67" font-size="6.3" text-anchor="start" fill="#1a1a1a" stroke="#1a1a1a" stroke-width="0.126" >KEGG Enrichment (Saline_vs_LPS)</text>
<line x1="427.7" y1="344.50" x2="429.7" y2="344.50" stroke="#333" stroke-width="0.5"/>
<text x="425.90" y="347.27" font-size="6.3" text-anchor="end" fill="#1a1a1a" stroke="#1a1a1a" stroke-width="0.126" >Tyrosine metabolism</text>
<line x1="427.7" y1="353.32" x2="429.7" y2="353.32" stroke="#333" stroke-width="0.5"/>
<text x="425.90" y="356.09" font-size="6.3" text-anchor="end" fill="#1a1a1a" stroke="#1a1a1a" stroke-width="0.126" >Neuroactive ligand-receptor interaction</text>
<line x1="427.7" y1="362.14" x2="429.7" y2="362.14" stroke="#333" stroke-width="0.5"/>
<text x="425.90" y="364.91" font-size="6.3" text-anchor="end" fill="#1a1a1a" stroke="#1a1a1a" stroke-width="0.126" >PPAR signaling pathway</text>
<line x1="427.7" y1="370.96" x2="429.7" y2="370.96" stroke="#333" stroke-width="0.5"/>
<text x="425.90" y="373.73" font-size="6.3" text-anchor="end" fill="#1a1a1a" stroke="#1a1a1a" stroke-width="0.126" >Primary bile acid biosynthesis</text>
<line x1="427.7" y1="379.78" x2="429.7" y2="379.78" stroke="#333" stroke-width="0.5"/>
<text x="425.90" y="382.55" font-size="6.3" text-anchor="end" fill="#1a1a1a" stroke="#1a1a1a" stroke-width="0.126" >Phenylalanine metabolism</text>
<line x1="427.7" y1="388.60" x2="429.7" y2="388.60" stroke="#333" stroke-width="0.5"/>
<text x="425.90" y="391.37" font-size="6.3" text-anchor="end" fill="#1a1a1a" stroke="#1a1a1a" stroke-width="0.126" >Melanogenesis</text>
<line x1="427.7" y1="397.42" x2="429.7" y2="397.42" stroke="#333" stroke-width="0.5"/>
<text x="425.90" y="400.19" font-size="6.3" text-anchor="end" fill="#1a1a1a" stroke="#1a1a1a" stroke-width="0.126" >Pentose and glucuronate interconversions</text>
<line x1="427.7" y1="406.24" x2="429.7" y2="406.24" stroke="#333" stroke-width="0.5"/>
<text x="425.90" y="409.01" font-size="6.3" text-anchor="end" fill="#1a1a1a" stroke="#1a1a1a" stroke-width="0.126" >Terpenoid backbone biosynthesis</text>
<line x1="427.7" y1="415.06" x2="429.7" y2="415.06" stroke="#333" stroke-width="0.5"/>
<text x="425.90" y="417.83" font-size="6.3" text-anchor="end" fill="#1a1a1a" stroke="#1a1a1a" stroke-width="0.126" >Phototransduction</text>
<line x1="427.7" y1="423.88" x2="429.7" y2="423.88" stroke="#333" stroke-width="0.5"/>
<text x="425.90" y="426.65" font-size="6.3" text-anchor="end" fill="#1a1a1a" stroke="#1a1a1a" stroke-width="0.126" >Butanoate metabolism</text>
<line x1="427.7" y1="432.70" x2="429.7" y2="432.70" stroke="#333" stroke-width="0.5"/>
<text x="425.90" y="435.47" font-size="6.3" text-anchor="end" fill="#1a1a1a" stroke="#1a1a1a" stroke-width="0.126" >NOD-like receptor signaling pathway</text>
<line x1="427.7" y1="441.52" x2="429.7" y2="441.52" stroke="#333" stroke-width="0.5"/>
<text x="425.90" y="444.29" font-size="6.3" text-anchor="end" fill="#1a1a1a" stroke="#1a1a1a" stroke-width="0.126" >Steroid hormone biosynthesis</text>
<line x1="427.7" y1="450.34" x2="429.7" y2="450.34" stroke="#333" stroke-width="0.5"/>
<text x="425.90" y="453.11" font-size="6.3" text-anchor="end" fill="#1a1a1a" stroke="#1a1a1a" stroke-width="0.126" >Folate biosynthesis</text>
<line x1="427.7" y1="459.16" x2="429.7" y2="459.16" stroke="#333" stroke-width="0.5"/>
<text x="425.90" y="461.93" font-size="6.3" text-anchor="end" fill="#1a1a1a" stroke="#1a1a1a" stroke-width="0.126" >Galactose metabolism</text>
<line x1="427.7" y1="467.98" x2="429.7" y2="467.98" stroke="#333" stroke-width="0.5"/>
<text x="425.90" y="470.75" font-size="6.3" text-anchor="end" fill="#1a1a1a" stroke="#1a1a1a" stroke-width="0.126" >Biosynthesis of unsaturated fatty acids</text>
<line x1="427.7" y1="476.80" x2="429.7" y2="476.80" stroke="#333" stroke-width="0.5"/>
<text x="425.90" y="479.57" font-size="6.3" text-anchor="end" fill="#1a1a1a" stroke="#1a1a1a" stroke-width="0.126" >Fructose and mannose metabolism</text>
<line x1="427.7" y1="485.62" x2="429.7" y2="485.62" stroke="#333" stroke-width="0.5"/>
<text x="425.90" y="488.39" font-size="6.3" text-anchor="end" fill="#1a1a1a" stroke="#1a1a1a" stroke-width="0.126" >Tryptophan metabolism</text>
<line x1="427.7" y1="494.44" x2="429.7" y2="494.44" stroke="#333" stroke-width="0.5"/>
<text x="425.90" y="497.21" font-size="6.3" text-anchor="end" fill="#1a1a1a" stroke="#1a1a1a" stroke-width="0.126" >Cytosolic DNA-sensing pathway</text>
<line x1="427.7" y1="503.26" x2="429.7" y2="503.26" stroke="#333" stroke-width="0.5"/>
<text x="425.90" y="506.03" font-size="6.3" text-anchor="end" fill="#1a1a1a" stroke="#1a1a1a" stroke-width="0.126" >Cytokine-cytokine receptor interaction</text>
<line x1="427.7" y1="512.08" x2="429.7" y2="512.08" stroke="#333" stroke-width="0.5"/>
<text x="425.90" y="514.85" font-size="6.3" text-anchor="end" fill="#1a1a1a" stroke="#1a1a1a" stroke-width="0.126" >Valine, leucine and isoleucine degradation</text>
<circle cx="492.20" cy="344.50" r="1.2" fill="#0a14ff"/>
<circle cx="450.00" cy="353.32" r="3.1" fill="#0a14ff"/>
<circle cx="465.50" cy="362.14" r="1.2" fill="#1020ff"/>
<circle cx="502.00" cy="370.96" r="0.75" fill="#9a9aff"/>
<circle cx="502.00" cy="379.78" r="0.75" fill="#9a9aff"/>
<circle cx="456.20" cy="388.60" r="1.15" fill="#7272ff"/>
<circle cx="482.40" cy="397.42" r="0.7" fill="#ebe6ea"/>
<circle cx="482.40" cy="406.24" r="0.7" fill="#ebe6ea"/>
<circle cx="482.40" cy="415.06" r="0.7" fill="#e6e6f2"/>
<circle cx="472.20" cy="423.88" r="0.75" fill="#efecec"/>
<circle cx="449.40" cy="432.70" r="1.2" fill="#ffb8b8"/>
<circle cx="467.80" cy="441.52" r="0.6" fill="#ffc0c0"/>
<circle cx="467.50" cy="450.34" r="0.6" fill="#ffc0c0"/>
<circle cx="465.20" cy="459.16" r="0.7" fill="#ffa8a8"/>
<circle cx="465.20" cy="467.98" r="0.7" fill="#ffa8a8"/>
<circle cx="464.00" cy="476.80" r="0.7" fill="#ffa0a0"/>
<circle cx="460.40" cy="485.62" r="0.8" fill="#ff7070"/>
<circle cx="460.40" cy="494.44" r="0.8" fill="#ff7070"/>
<circle cx="446.40" cy="503.26" r="1.6" fill="#ff1010"/>
<circle cx="455.00" cy="512.08" r="1.1" fill="#ff2020"/>
<line x1="436.20" y1="517.9" x2="436.20" y2="519.9" stroke="#333" stroke-width="0.5"/>
<text x="436.20" y="525.43" font-size="4.8" text-anchor="middle" fill="#333" stroke="#333" stroke-width="0.100" >0.00</text>
<line x1="452.05" y1="517.9" x2="452.05" y2="519.9" stroke="#333" stroke-width="0.5"/>
<text x="452.05" y="525.43" font-size="4.8" text-anchor="middle" fill="#333" stroke="#333" stroke-width="0.100" >0.02</text>
<line x1="467.90" y1="517.9" x2="467.90" y2="519.9" stroke="#333" stroke-width="0.5"/>
<text x="467.90" y="525.43" font-size="4.8" text-anchor="middle" fill="#333" stroke="#333" stroke-width="0.100" >0.04</text>
<line x1="483.75" y1="517.9" x2="483.75" y2="519.9" stroke="#333" stroke-width="0.5"/>
<text x="483.75" y="525.43" font-size="4.8" text-anchor="middle" fill="#333" stroke="#333" stroke-width="0.100" >0.06</text>
<line x1="499.60" y1="517.9" x2="499.60" y2="519.9" stroke="#333" stroke-width="0.5"/>
<text x="499.60" y="525.43" font-size="4.8" text-anchor="middle" fill="#333" stroke="#333" stroke-width="0.100" >0.08</text>
<text x="468.50" y="537.33" font-size="6.2" text-anchor="middle" fill="#1a1a1a" stroke="#1a1a1a" stroke-width="0.124" >Rich factor</text>
<text x="0" y="0" font-size="6.2" text-anchor="middle" fill="#1a1a1a" transform="translate(285.90,428.8) rotate(-90)">KEGG Pathway</text>
<text x="522.00" y="347.74" font-size="6.5" text-anchor="start" fill="#1a1a1a" stroke="#1a1a1a" stroke-width="0.130" >P value</text>
<linearGradient id="g429" x1="0" y1="0" x2="0" y2="1"><stop offset="0" stop-color="#ff0000"/><stop offset="0.5" stop-color="#ffffff"/><stop offset="1" stop-color="#0000ff"/></linearGradient>
<rect x="522" y="352.3" width="4" height="43.5" fill="url(#g429)"/>
<line x1="526" y1="354.9" x2="527" y2="354.9" stroke="#fff" stroke-width="0.4"/>
<text x="528.30" y="356.77" font-size="5.2" text-anchor="start" fill="#333" stroke="#333" stroke-width="0.100" >0.196</text>
<line x1="526" y1="374.7" x2="527" y2="374.7" stroke="#fff" stroke-width="0.4"/>
<text x="528.30" y="376.57" font-size="5.2" text-anchor="start" fill="#333" stroke="#333" stroke-width="0.100" >0.098</text>
<line x1="526" y1="394.6" x2="527" y2="394.6" stroke="#fff" stroke-width="0.4"/>
<text x="528.30" y="396.47" font-size="5.2" text-anchor="start" fill="#333" stroke="#333" stroke-width="0.100" >0</text>
<text x="522.00" y="430.78" font-size="6.6" text-anchor="start" fill="#1a1a1a" stroke="#1a1a1a" stroke-width="0.132" >Number</text>
<circle cx="523.80" cy="436.80" r="0.6" fill="#111"/>
<text x="529.80" y="438.67" font-size="5.2" text-anchor="start" fill="#333" stroke="#333" stroke-width="0.100" >1</text>
<circle cx="523.80" cy="445.20" r="0.6" fill="#111"/>
<text x="529.80" y="447.07" font-size="5.2" text-anchor="start" fill="#333" stroke="#333" stroke-width="0.100" >1</text>
<circle cx="523.80" cy="455.40" r="3.0" fill="#111"/>
<text x="529.80" y="457.27" font-size="5.2" text-anchor="start" fill="#333" stroke="#333" stroke-width="0.100" >5</text>
<text x="275.85" y="554.8" font-size="14.3" text-anchor="middle" font-family="Liberation Serif, serif" fill="#111">(<tspan font-weight="bold">d</tspan>)</text>
</svg></body></html>
